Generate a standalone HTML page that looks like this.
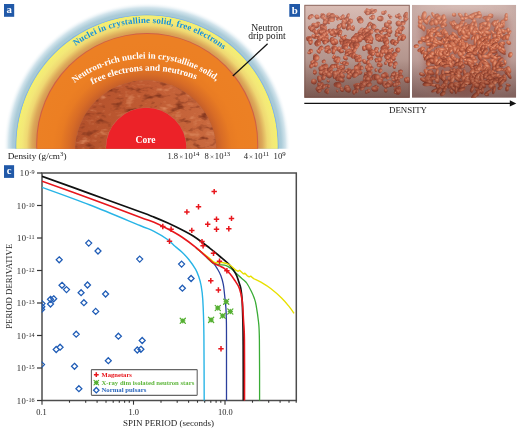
<!DOCTYPE html>
<html><head><meta charset="utf-8"><title>Neutron star figure</title>
<style>
html,body{margin:0;padding:0;background:#fff;width:520px;height:430px;overflow:hidden}
svg{display:block}
</style></head><body>
<svg width="520" height="430" viewBox="0 0 520 430">
<rect width="520" height="430" fill="#fff"/>
<defs>
<clipPath id="ca"><rect x="0" y="0" width="300" height="148.7"/></clipPath>
<radialGradient id="halo" gradientUnits="userSpaceOnUse" cx="147" cy="146" r="143.5"><stop offset="0.9" stop-color="#a3c6d4"/><stop offset="0.935" stop-color="#aacbd8"/><stop offset="0.965" stop-color="#d2e4ec"/><stop offset="1" stop-color="#ffffff" stop-opacity="0"/></radialGradient>
<radialGradient id="yel" gradientUnits="userSpaceOnUse" cx="147" cy="146" r="131.6"><stop offset="0.84" stop-color="#d4904c"/><stop offset="0.875" stop-color="#dca85a"/><stop offset="0.915" stop-color="#efd872"/><stop offset="0.95" stop-color="#f3e878"/><stop offset="0.985" stop-color="#f4ee74"/><stop offset="0.99" stop-color="#f6f060"/><stop offset="0.995" stop-color="#8ab8dc"/><stop offset="1" stop-color="#7aaee0"/></radialGradient>
<radialGradient id="org" gradientUnits="userSpaceOnUse" cx="145.7" cy="151" r="110"><stop offset="0.64" stop-color="#c55e2a"/><stop offset="0.7" stop-color="#d86c26"/><stop offset="0.78" stop-color="#e87b23"/><stop offset="0.85" stop-color="#ec7f23"/><stop offset="1" stop-color="#ec8024"/></radialGradient>
<radialGradient id="crust" gradientUnits="userSpaceOnUse" cx="146" cy="150" r="71"><stop offset="0.55" stop-color="#a95634"/><stop offset="1" stop-color="#b8653c"/></radialGradient>
<clipPath id="ccrust"><circle cx="145.7" cy="151" r="70.7"/></clipPath>
<path id="tp1" d="M41.3 84 A122 122 0 0 1 252.7 84"/>
<path id="tp2" d="M44.1 117.7 A118.6 118.6 0 0 1 249.5 117.7"/>
<path id="tp3" d="M41.7 132.8 A124.5 124.5 0 0 1 257.3 132.8"/>
<clipPath id="cdia"><rect x="41.7" y="173" width="254.6" height="227.5"/></clipPath>
<clipPath id="cplot"><rect x="42" y="173" width="254.3" height="227.5"/></clipPath>
<clipPath id="cb1"><rect x="304.3" y="4.8" width="105.5" height="93"/></clipPath>
<clipPath id="cb2"><rect x="412" y="4.8" width="104.2" height="93"/></clipPath>
<linearGradient id="bg1" x1="0" y1="0" x2="0" y2="1"><stop offset="0" stop-color="#d2b2aa"/><stop offset="0.55" stop-color="#b69890"/><stop offset="1" stop-color="#987870"/></linearGradient>
<radialGradient id="bg2" cx="0.5" cy="0.3" r="0.8"><stop offset="0" stop-color="#dcc4be"/><stop offset="0.6" stop-color="#c4a6a0"/><stop offset="1" stop-color="#a08480"/></radialGradient>
<filter id="crtex" x="0" y="0" width="1" height="1" color-interpolation-filters="sRGB"><feTurbulence type="fractalNoise" baseFrequency="0.08 0.16" numOctaves="3" seed="2" result="n"/><feColorMatrix in="n" type="matrix" values="0 0 0 0 0.53  0 0 0 0 0.22  0 0 0 0 0.12  4 0 0 0 -2.15" result="dk"/><feColorMatrix in="n" type="matrix" values="0 0 0 0 0.86  0 0 0 0 0.53  0 0 0 0 0.36  -3.5 0 0 0 1.45" result="lt"/><feMerge result="m"><feMergeNode in="SourceGraphic"/><feMergeNode in="dk"/><feMergeNode in="lt"/></feMerge><feComposite in="m" in2="SourceGraphic" operator="in"/></filter>
<linearGradient id="crg" gradientUnits="userSpaceOnUse" x1="75" y1="0" x2="217" y2="0"><stop offset="0" stop-color="#b2502b"/><stop offset="0.5" stop-color="#c05b33"/><stop offset="1" stop-color="#ca6b40"/></linearGradient>
<filter id="blobs" x="0" y="0" width="1" height="1" color-interpolation-filters="sRGB"><feTurbulence type="fractalNoise" baseFrequency="0.16" numOctaves="2" seed="11" result="n"/><feColorMatrix in="n" type="matrix" values="0 0 0 0 0  0 0 0 0 0  0 0 0 0 0  14 0 0 0 -6.2" result="mask"/><feGaussianBlur in="mask" stdDeviation="0.9" result="mb"/><feDiffuseLighting in="mb" surfaceScale="2.2" diffuseConstant="1.1" lighting-color="#fff" result="light"><feDistantLight azimuth="240" elevation="50"/></feDiffuseLighting><feFlood flood-color="#c04c2c"/><feComposite in2="light" operator="arithmetic" k1="1.1" result="lit"/><feComposite in="lit" in2="mask" operator="in"/></filter>
<filter id="blobs2" x="0" y="0" width="1" height="1" color-interpolation-filters="sRGB"><feTurbulence type="fractalNoise" baseFrequency="0.13" numOctaves="3" seed="4" result="n"/><feColorMatrix in="n" type="matrix" values="0 0 0 0 0  0 0 0 0 0  0 0 0 0 0  14 0 0 0 -6.0" result="mask"/><feGaussianBlur in="mask" stdDeviation="0.9" result="mb"/><feDiffuseLighting in="mb" surfaceScale="2.2" diffuseConstant="1.1" lighting-color="#fff" result="light"><feDistantLight azimuth="240" elevation="50"/></feDiffuseLighting><feFlood flood-color="#c4522f"/><feComposite in2="light" operator="arithmetic" k1="1.1" result="lit"/><feComposite in="lit" in2="mask" operator="in"/></filter>
<radialGradient id="mg1" cx="0.5" cy="0.45" r="0.75"><stop offset="0" stop-color="#fff"/><stop offset="0.55" stop-color="#fff"/><stop offset="1" stop-color="#000"/></radialGradient>
<mask id="mk1" maskUnits="userSpaceOnUse" x="304.3" y="4.8" width="105.5" height="93"><rect x="304.3" y="4.8" width="105.5" height="93" fill="url(#mg1)"/></mask>
<radialGradient id="mg2" cx="0.52" cy="0.48" r="0.55"><stop offset="0" stop-color="#fff"/><stop offset="0.6" stop-color="#fff"/><stop offset="1" stop-color="#000"/></radialGradient>
<mask id="mk2" maskUnits="userSpaceOnUse" x="412" y="4.8" width="104.2" height="93"><rect x="412" y="4.8" width="104.2" height="93" fill="url(#mg2)"/></mask>
</defs>
<g clip-path="url(#ca)">
<circle cx="147" cy="146" r="143.5" fill="url(#halo)"/>
<circle cx="147" cy="146" r="131.6" fill="url(#yel)"/>
<circle cx="147.2" cy="144" r="111" fill="#cf5f45"/>
<circle cx="147.2" cy="144" r="110" fill="url(#org)"/>
<circle cx="145.7" cy="151" r="70.7" fill="url(#crust)"/>
<circle cx="145.7" cy="151" r="70.7" fill="url(#crg)" filter="url(#crtex)"/>
<circle cx="146.2" cy="148" r="40.6" fill="#c07a5a"/>
<circle cx="146.2" cy="148" r="40.2" fill="#ec2228"/>
</g>
<text font-family='Liberation Serif, DejaVu Serif, serif' font-weight='bold' font-size='8.8' letter-spacing='0.22' fill='#1590dc'><textPath href='#tp1' startOffset='51.2%' text-anchor='middle'>Nuclei in crystalline solid, free electrons</textPath></text>
<text font-family='Liberation Serif, DejaVu Serif, serif' font-weight='bold' font-size='9.1' fill='#ffffff'><textPath href='#tp2' startOffset='49.3%' text-anchor='middle'>Neutron-rich nuclei in crystalline solid,</textPath></text>
<text font-family='Liberation Serif, DejaVu Serif, serif' font-weight='bold' font-size='9.2' fill='#ffffff'><textPath href='#tp3' startOffset='47.7%' text-anchor='middle'>free electrons and neutrons</textPath></text>
<text x='145.5' y='143' font-family='Liberation Serif, DejaVu Serif, serif' font-weight='bold' font-size='9.5' fill='#ffffff' text-anchor='middle'>Core</text>
<text font-family='Liberation Serif, DejaVu Serif, serif' font-size='9.6' fill='#1a1a1a' text-anchor='middle'><tspan x='267' y='31'>Neutron</tspan><tspan x='267' y='39.4'>drip point</tspan></text>
<line x1="267.6" y1="43.8" x2="232.8" y2="76" stroke="#111" stroke-width="1.25"/>
<text x='7.7' y='158.5' font-family='Liberation Serif, DejaVu Serif, serif' font-size='9.2' fill='#1a1a1a'>Density (g/cm<tspan font-size='6.8' dy='-2.4'>3</tspan><tspan dy='2.4'>)</tspan></text>
<text x='167.4' y='158.5' font-family='Liberation Serif, DejaVu Serif, serif' font-size='8.6' fill='#1a1a1a'>1.8<tspan font-size='7' dx='1'>×</tspan><tspan dx='1'>10</tspan><tspan font-size='6.8' dy='-2.4'>14</tspan></text>
<text x='204.6' y='158.5' font-family='Liberation Serif, DejaVu Serif, serif' font-size='8.6' fill='#1a1a1a'>8<tspan font-size='7' dx='1'>×</tspan><tspan dx='1'>10</tspan><tspan font-size='6.8' dy='-2.4'>13</tspan></text>
<text x='243.8' y='158.5' font-family='Liberation Serif, DejaVu Serif, serif' font-size='8.6' fill='#1a1a1a'>4<tspan font-size='7' dx='1'>×</tspan><tspan dx='1'>10</tspan><tspan font-size='6.8' dy='-2.4'>11</tspan></text>
<text x='273.6' y='158.5' font-family='Liberation Serif, DejaVu Serif, serif' font-size='8.6' fill='#1a1a1a'>10<tspan font-size='6.8' dy='-2.4'>9</tspan></text>
<rect x='4' y='4' width='10.2' height='12.8' fill='#2159a8'/>
<text x='9.1' y='12.8' font-family='Liberation Serif, DejaVu Serif, serif' font-weight='bold' font-size='10.8' fill='#fff' text-anchor='middle'>a</text>
<rect x='289.3' y='4' width='10.7' height='12.8' fill='#2159a8'/>
<text x='294.7' y='13.9' font-family='Liberation Serif, DejaVu Serif, serif' font-weight='bold' font-size='10.8' fill='#fff' text-anchor='middle'>b</text>
<rect x='4' y='165.2' width='10.1' height='12.7' fill='#2159a8'/>
<text x='9.1' y='174.1' font-family='Liberation Serif, DejaVu Serif, serif' font-weight='bold' font-size='10.8' fill='#fff' text-anchor='middle'>c</text>
<linearGradient id="ov" x1="0" y1="0" x2="0" y2="1"><stop offset="0" stop-color="#fff0e8" stop-opacity="0.18"/><stop offset="0.35" stop-color="#fff" stop-opacity="0"/><stop offset="0.6" stop-color="#3c140e" stop-opacity="0"/><stop offset="1" stop-color="#3c140e" stop-opacity="0.32"/></linearGradient>
<radialGradient id="bl" cx="0.4" cy="0.32" r="0.68"><stop offset="0" stop-color="#e6987a"/><stop offset="0.45" stop-color="#c4644a"/><stop offset="1" stop-color="#8e4030"/></radialGradient>
<radialGradient id="bl3" cx="0.4" cy="0.32" r="0.68"><stop offset="0" stop-color="#dc8c6c"/><stop offset="0.45" stop-color="#bc5e42"/><stop offset="1" stop-color="#843a2a"/></radialGradient>
<radialGradient id="bl2" cx="0.4" cy="0.32" r="0.68"><stop offset="0" stop-color="#eca686"/><stop offset="0.45" stop-color="#d0704f"/><stop offset="1" stop-color="#a04c36"/></radialGradient>
<g clip-path="url(#cb1)"><rect x="304.3" y="4.8" width="105.5" height="93" fill="url(#bg1)"/>
<ellipse cx="367.4" cy="9.9" rx="2.1" ry="1.5" fill="url(#bl)" transform="rotate(57 367.4 9.9)"/>
<ellipse cx="375.2" cy="10.8" rx="2" ry="1.8" fill="url(#bl)" transform="rotate(156 375.2 10.8)"/>
<ellipse cx="372.4" cy="11.3" rx="2.9" ry="2.5" fill="url(#bl)" transform="rotate(38 372.4 11.3)"/>
<ellipse cx="367.8" cy="11.7" rx="3.1" ry="2.4" fill="url(#bl)" transform="rotate(9 367.8 11.7)"/>
<ellipse cx="366" cy="11.8" rx="2.2" ry="1.7" fill="url(#bl)" transform="rotate(0 366 11.8)"/>
<ellipse cx="367.8" cy="11.8" rx="2.7" ry="1.9" fill="url(#bl)" transform="rotate(52 367.8 11.8)"/>
<ellipse cx="368.7" cy="11.9" rx="2.9" ry="2.8" fill="url(#bl)" transform="rotate(5 368.7 11.9)"/>
<ellipse cx="385.3" cy="12.1" rx="1.9" ry="1.4" fill="url(#bl)" transform="rotate(130 385.3 12.1)"/>
<ellipse cx="373" cy="12.1" rx="2.6" ry="1.6" fill="url(#bl)" transform="rotate(160 373 12.1)"/>
<ellipse cx="383.3" cy="12.9" rx="2.2" ry="2.2" fill="url(#bl)" transform="rotate(1 383.3 12.9)"/>
<ellipse cx="367.2" cy="13" rx="2.2" ry="2.1" fill="url(#bl)" transform="rotate(116 367.2 13)"/>
<ellipse cx="405.6" cy="14.9" rx="3.2" ry="2" fill="url(#bl)" transform="rotate(119 405.6 14.9)"/>
<ellipse cx="398.7" cy="15" rx="1.8" ry="1.4" fill="url(#bl)" transform="rotate(145 398.7 15)"/>
<ellipse cx="323" cy="15.3" rx="2.8" ry="1.9" fill="url(#bl)" transform="rotate(27 323 15.3)"/>
<ellipse cx="329.4" cy="15.6" rx="3.1" ry="3" fill="url(#bl)" transform="rotate(29 329.4 15.6)"/>
<ellipse cx="348" cy="15.7" rx="2.6" ry="1.6" fill="url(#bl)" transform="rotate(116 348 15.7)"/>
<ellipse cx="389.3" cy="15.8" rx="1.9" ry="1.4" fill="url(#bl)" transform="rotate(56 389.3 15.8)"/>
<ellipse cx="328.6" cy="15.8" rx="1.9" ry="1.4" fill="url(#bl)" transform="rotate(32 328.6 15.8)"/>
<ellipse cx="311.5" cy="16.1" rx="2.3" ry="2" fill="url(#bl)" transform="rotate(167 311.5 16.1)"/>
<ellipse cx="322.6" cy="16.3" rx="2.8" ry="1.9" fill="url(#bl)" transform="rotate(141 322.6 16.3)"/>
<ellipse cx="406.4" cy="16.4" rx="2.2" ry="1.4" fill="url(#bl)" transform="rotate(104 406.4 16.4)"/>
<ellipse cx="396.8" cy="16.4" rx="2.1" ry="1.7" fill="url(#bl)" transform="rotate(34 396.8 16.4)"/>
<ellipse cx="331.8" cy="16.5" rx="3.6" ry="2.6" fill="url(#bl)" transform="rotate(127 331.8 16.5)"/>
<ellipse cx="336.9" cy="16.6" rx="2.2" ry="1.6" fill="url(#bl)" transform="rotate(28 336.9 16.6)"/>
<ellipse cx="343" cy="16.8" rx="2.5" ry="1.8" fill="url(#bl)" transform="rotate(106 343 16.8)"/>
<ellipse cx="318.2" cy="16.9" rx="2.2" ry="1.4" fill="url(#bl)" transform="rotate(72 318.2 16.9)"/>
<ellipse cx="332.4" cy="17" rx="2.6" ry="2.1" fill="url(#bl)" transform="rotate(4 332.4 17)"/>
<ellipse cx="316.6" cy="17" rx="2.5" ry="2" fill="url(#bl)" transform="rotate(56 316.6 17)"/>
<ellipse cx="372.6" cy="17.1" rx="2.7" ry="2.3" fill="url(#bl)" transform="rotate(118 372.6 17.1)"/>
<ellipse cx="309.8" cy="17.2" rx="2.6" ry="1.9" fill="url(#bl)" transform="rotate(124 309.8 17.2)"/>
<ellipse cx="390.8" cy="17.3" rx="1.8" ry="1.2" fill="url(#bl)" transform="rotate(141 390.8 17.3)"/>
<ellipse cx="328.8" cy="17.5" rx="2.5" ry="2" fill="url(#bl)" transform="rotate(169 328.8 17.5)"/>
<ellipse cx="342.1" cy="17.6" rx="2" ry="1.9" fill="url(#bl)" transform="rotate(74 342.1 17.6)"/>
<ellipse cx="399.9" cy="17.6" rx="2" ry="1.8" fill="url(#bl)" transform="rotate(144 399.9 17.6)"/>
<ellipse cx="370.8" cy="18.1" rx="2" ry="1.3" fill="url(#bl)" transform="rotate(25 370.8 18.1)"/>
<ellipse cx="340.4" cy="18.4" rx="2" ry="1.6" fill="url(#bl)" transform="rotate(25 340.4 18.4)"/>
<ellipse cx="359.5" cy="18.4" rx="2.5" ry="1.9" fill="url(#bl)" transform="rotate(125 359.5 18.4)"/>
<ellipse cx="380.8" cy="18.5" rx="2.8" ry="2.8" fill="url(#bl)" transform="rotate(167 380.8 18.5)"/>
<ellipse cx="407.1" cy="18.6" rx="1.5" ry="1" fill="url(#bl)" transform="rotate(30 407.1 18.6)"/>
<ellipse cx="324.9" cy="18.9" rx="2.7" ry="2" fill="url(#bl)" transform="rotate(29 324.9 18.9)"/>
<ellipse cx="379.8" cy="18.9" rx="2.9" ry="2.2" fill="url(#bl)" transform="rotate(20 379.8 18.9)"/>
<ellipse cx="338.2" cy="19" rx="2.1" ry="1.4" fill="url(#bl)" transform="rotate(164 338.2 19)"/>
<ellipse cx="331.4" cy="19.2" rx="3.6" ry="2.8" fill="url(#bl)" transform="rotate(179 331.4 19.2)"/>
<ellipse cx="358.9" cy="19.3" rx="2.6" ry="2" fill="url(#bl)" transform="rotate(48 358.9 19.3)"/>
<ellipse cx="346.6" cy="19.4" rx="2.6" ry="2.4" fill="url(#bl)" transform="rotate(149 346.6 19.4)"/>
<ellipse cx="405.4" cy="19.6" rx="2.2" ry="2" fill="url(#bl)" transform="rotate(66 405.4 19.6)"/>
<ellipse cx="344.9" cy="20.3" rx="1.9" ry="1.3" fill="url(#bl)" transform="rotate(103 344.9 20.3)"/>
<ellipse cx="326.8" cy="20.4" rx="1.8" ry="1.5" fill="url(#bl)" transform="rotate(0 326.8 20.4)"/>
<ellipse cx="360.5" cy="20.4" rx="3" ry="2.7" fill="url(#bl)" transform="rotate(134 360.5 20.4)"/>
<ellipse cx="360.6" cy="20.8" rx="2.8" ry="2.5" fill="url(#bl)" transform="rotate(178 360.6 20.8)"/>
<ellipse cx="344.6" cy="21.1" rx="2.8" ry="1.7" fill="url(#bl)" transform="rotate(175 344.6 21.1)"/>
<ellipse cx="350.5" cy="21.2" rx="2.6" ry="2.6" fill="url(#bl)" transform="rotate(104 350.5 21.2)"/>
<ellipse cx="344.5" cy="21.9" rx="3" ry="2.3" fill="url(#bl)" transform="rotate(35 344.5 21.9)"/>
<ellipse cx="325.1" cy="22.3" rx="2.7" ry="2.3" fill="url(#bl)" transform="rotate(100 325.1 22.3)"/>
<ellipse cx="389.3" cy="22.3" rx="2.6" ry="2.2" fill="url(#bl)" transform="rotate(15 389.3 22.3)"/>
<ellipse cx="328.9" cy="22.5" rx="1.7" ry="1.2" fill="url(#bl)" transform="rotate(88 328.9 22.5)"/>
<ellipse cx="325.5" cy="22.7" rx="2.6" ry="1.8" fill="url(#bl)" transform="rotate(2 325.5 22.7)"/>
<ellipse cx="403" cy="22.9" rx="2.7" ry="1.8" fill="url(#bl)" transform="rotate(175 403 22.9)"/>
<ellipse cx="348.6" cy="22.9" rx="2.3" ry="1.8" fill="url(#bl)" transform="rotate(149 348.6 22.9)"/>
<ellipse cx="348.8" cy="23" rx="1.7" ry="1.2" fill="url(#bl)" transform="rotate(91 348.8 23)"/>
<ellipse cx="318.1" cy="23.2" rx="2.1" ry="1.6" fill="url(#bl)" transform="rotate(13 318.1 23.2)"/>
<ellipse cx="402.6" cy="23.4" rx="2.4" ry="2.3" fill="url(#bl)" transform="rotate(163 402.6 23.4)"/>
<ellipse cx="343.5" cy="23.5" rx="2.2" ry="1.7" fill="url(#bl)" transform="rotate(53 343.5 23.5)"/>
<ellipse cx="370.8" cy="23.6" rx="1.8" ry="1.6" fill="url(#bl)" transform="rotate(43 370.8 23.6)"/>
<ellipse cx="398.5" cy="23.6" rx="2.9" ry="2.8" fill="url(#bl)" transform="rotate(61 398.5 23.6)"/>
<ellipse cx="318.3" cy="23.9" rx="2.1" ry="1.9" fill="url(#bl)" transform="rotate(138 318.3 23.9)"/>
<ellipse cx="369.3" cy="24.3" rx="2.8" ry="1.7" fill="url(#bl)" transform="rotate(129 369.3 24.3)"/>
<ellipse cx="371.6" cy="24.4" rx="1.7" ry="1.2" fill="url(#bl)" transform="rotate(172 371.6 24.4)"/>
<ellipse cx="341.6" cy="24.5" rx="2.5" ry="1.7" fill="url(#bl)" transform="rotate(151 341.6 24.5)"/>
<ellipse cx="385.6" cy="24.8" rx="2.5" ry="1.7" fill="url(#bl)" transform="rotate(99 385.6 24.8)"/>
<ellipse cx="314" cy="25.1" rx="2.7" ry="1.7" fill="url(#bl)" transform="rotate(16 314 25.1)"/>
<ellipse cx="348.8" cy="25.2" rx="2.1" ry="1.7" fill="url(#bl)" transform="rotate(101 348.8 25.2)"/>
<ellipse cx="373.1" cy="25.5" rx="1.7" ry="1.1" fill="url(#bl)" transform="rotate(116 373.1 25.5)"/>
<ellipse cx="387.2" cy="25.5" rx="2.6" ry="2.4" fill="url(#bl)" transform="rotate(35 387.2 25.5)"/>
<ellipse cx="314.6" cy="25.5" rx="3.2" ry="2.2" fill="url(#bl)" transform="rotate(37 314.6 25.5)"/>
<ellipse cx="316.2" cy="25.6" rx="3.1" ry="2.6" fill="url(#bl)" transform="rotate(18 316.2 25.6)"/>
<ellipse cx="343.4" cy="25.9" rx="3.5" ry="2.4" fill="url(#bl)" transform="rotate(73 343.4 25.9)"/>
<ellipse cx="322.1" cy="26.3" rx="2.6" ry="2.4" fill="url(#bl)" transform="rotate(160 322.1 26.3)"/>
<ellipse cx="339.4" cy="26.3" rx="2.5" ry="2" fill="url(#bl)" transform="rotate(87 339.4 26.3)"/>
<ellipse cx="348.3" cy="26.4" rx="1.9" ry="1.7" fill="url(#bl)" transform="rotate(139 348.3 26.4)"/>
<ellipse cx="312.7" cy="26.7" rx="2.2" ry="1.5" fill="url(#bl)" transform="rotate(179 312.7 26.7)"/>
<ellipse cx="338.6" cy="26.7" rx="2" ry="1.9" fill="url(#bl)" transform="rotate(131 338.6 26.7)"/>
<ellipse cx="323.7" cy="26.8" rx="2.3" ry="1.5" fill="url(#bl)" transform="rotate(179 323.7 26.8)"/>
<ellipse cx="373.6" cy="26.8" rx="2.9" ry="2.6" fill="url(#bl)" transform="rotate(132 373.6 26.8)"/>
<ellipse cx="353.4" cy="27.3" rx="2.1" ry="1.4" fill="url(#bl)" transform="rotate(61 353.4 27.3)"/>
<ellipse cx="324.8" cy="27.3" rx="2.2" ry="2.1" fill="url(#bl)" transform="rotate(115 324.8 27.3)"/>
<ellipse cx="348.6" cy="27.3" rx="3.4" ry="2.1" fill="url(#bl)" transform="rotate(123 348.6 27.3)"/>
<ellipse cx="348.3" cy="27.4" rx="2.2" ry="1.3" fill="url(#bl)" transform="rotate(132 348.3 27.4)"/>
<ellipse cx="322.4" cy="27.5" rx="2.4" ry="1.9" fill="url(#bl)" transform="rotate(39 322.4 27.5)"/>
<ellipse cx="389.7" cy="27.6" rx="2.1" ry="2.1" fill="url(#bl)" transform="rotate(48 389.7 27.6)"/>
<ellipse cx="310.2" cy="27.7" rx="2.3" ry="2.2" fill="url(#bl)" transform="rotate(100 310.2 27.7)"/>
<ellipse cx="366.9" cy="28" rx="2.1" ry="1.4" fill="url(#bl)" transform="rotate(120 366.9 28)"/>
<ellipse cx="312.8" cy="28.4" rx="2.5" ry="1.9" fill="url(#bl)" transform="rotate(69 312.8 28.4)"/>
<ellipse cx="401.8" cy="28.7" rx="3.2" ry="2.1" fill="url(#bl)" transform="rotate(148 401.8 28.7)"/>
<ellipse cx="310.8" cy="28.7" rx="2" ry="1.6" fill="url(#bl)" transform="rotate(23 310.8 28.7)"/>
<ellipse cx="352.1" cy="28.8" rx="2.7" ry="1.8" fill="url(#bl)" transform="rotate(33 352.1 28.8)"/>
<ellipse cx="312.1" cy="28.9" rx="2.8" ry="2.2" fill="url(#bl)" transform="rotate(141 312.1 28.9)"/>
<ellipse cx="400.4" cy="29" rx="3" ry="2.6" fill="url(#bl)" transform="rotate(21 400.4 29)"/>
<ellipse cx="312.8" cy="29" rx="2.6" ry="2.2" fill="url(#bl)" transform="rotate(20 312.8 29)"/>
<ellipse cx="365.2" cy="29.7" rx="1.8" ry="1.8" fill="url(#bl)" transform="rotate(177 365.2 29.7)"/>
<ellipse cx="384.5" cy="29.7" rx="3.1" ry="2.2" fill="url(#bl)" transform="rotate(29 384.5 29.7)"/>
<ellipse cx="323.5" cy="29.8" rx="3.6" ry="3.4" fill="url(#bl)" transform="rotate(80 323.5 29.8)"/>
<ellipse cx="312.2" cy="30" rx="2.6" ry="1.6" fill="url(#bl)" transform="rotate(36 312.2 30)"/>
<ellipse cx="362.7" cy="30.1" rx="2.9" ry="2.4" fill="url(#bl)" transform="rotate(31 362.7 30.1)"/>
<ellipse cx="364.5" cy="30.2" rx="2.2" ry="1.7" fill="url(#bl)" transform="rotate(134 364.5 30.2)"/>
<ellipse cx="361.5" cy="30.6" rx="2.2" ry="1.9" fill="url(#bl)" transform="rotate(12 361.5 30.6)"/>
<ellipse cx="384.6" cy="30.6" rx="2.1" ry="1.5" fill="url(#bl)" transform="rotate(169 384.6 30.6)"/>
<ellipse cx="314.1" cy="30.7" rx="2.1" ry="2" fill="url(#bl)" transform="rotate(165 314.1 30.7)"/>
<ellipse cx="398.6" cy="30.7" rx="2.7" ry="2" fill="url(#bl)" transform="rotate(56 398.6 30.7)"/>
<ellipse cx="369.6" cy="30.7" rx="2.5" ry="2.1" fill="url(#bl)" transform="rotate(51 369.6 30.7)"/>
<ellipse cx="376.9" cy="30.7" rx="2.8" ry="2" fill="url(#bl)" transform="rotate(172 376.9 30.7)"/>
<ellipse cx="332.8" cy="30.7" rx="2.3" ry="1.7" fill="url(#bl)" transform="rotate(141 332.8 30.7)"/>
<ellipse cx="322.2" cy="30.8" rx="1.9" ry="1.8" fill="url(#bl)" transform="rotate(141 322.2 30.8)"/>
<ellipse cx="329.8" cy="30.8" rx="2.4" ry="2" fill="url(#bl)" transform="rotate(177 329.8 30.8)"/>
<ellipse cx="323" cy="30.9" rx="3.1" ry="2.4" fill="url(#bl)" transform="rotate(163 323 30.9)"/>
<ellipse cx="339.4" cy="31" rx="2.6" ry="2.1" fill="url(#bl)" transform="rotate(20 339.4 31)"/>
<ellipse cx="388.1" cy="31" rx="2.2" ry="1.6" fill="url(#bl)" transform="rotate(40 388.1 31)"/>
<ellipse cx="330.7" cy="31.1" rx="2.2" ry="2.1" fill="url(#bl)" transform="rotate(40 330.7 31.1)"/>
<ellipse cx="397.7" cy="31.2" rx="1.6" ry="1.2" fill="url(#bl)" transform="rotate(9 397.7 31.2)"/>
<ellipse cx="363.2" cy="31.6" rx="1.9" ry="1.7" fill="url(#bl)" transform="rotate(112 363.2 31.6)"/>
<ellipse cx="320" cy="31.6" rx="3.1" ry="2.8" fill="url(#bl)" transform="rotate(37 320 31.6)"/>
<ellipse cx="321.2" cy="31.6" rx="2.5" ry="2.4" fill="url(#bl)" transform="rotate(145 321.2 31.6)"/>
<ellipse cx="389.4" cy="31.6" rx="2.9" ry="2.8" fill="url(#bl)" transform="rotate(37 389.4 31.6)"/>
<ellipse cx="371" cy="31.6" rx="2.5" ry="2.5" fill="url(#bl)" transform="rotate(128 371 31.6)"/>
<ellipse cx="337.1" cy="31.7" rx="3.4" ry="3" fill="url(#bl)" transform="rotate(138 337.1 31.7)"/>
<ellipse cx="366.9" cy="31.7" rx="3.1" ry="2.6" fill="url(#bl)" transform="rotate(29 366.9 31.7)"/>
<ellipse cx="334" cy="31.9" rx="3" ry="2.8" fill="url(#bl)" transform="rotate(75 334 31.9)"/>
<ellipse cx="381.1" cy="31.9" rx="1.9" ry="1.9" fill="url(#bl)" transform="rotate(99 381.1 31.9)"/>
<ellipse cx="397.2" cy="32" rx="2.4" ry="1.8" fill="url(#bl)" transform="rotate(49 397.2 32)"/>
<ellipse cx="381.3" cy="32.1" rx="2.1" ry="1.5" fill="url(#bl)" transform="rotate(151 381.3 32.1)"/>
<ellipse cx="336.1" cy="32.3" rx="3.1" ry="1.8" fill="url(#bl)" transform="rotate(7 336.1 32.3)"/>
<ellipse cx="340" cy="32.4" rx="2.7" ry="2.1" fill="url(#bl)" transform="rotate(131 340 32.4)"/>
<ellipse cx="400.2" cy="32.4" rx="2.1" ry="1.7" fill="url(#bl)" transform="rotate(74 400.2 32.4)"/>
<ellipse cx="315.8" cy="32.4" rx="2.5" ry="2" fill="url(#bl)" transform="rotate(64 315.8 32.4)"/>
<ellipse cx="320.6" cy="32.4" rx="2.2" ry="1.5" fill="url(#bl)" transform="rotate(66 320.6 32.4)"/>
<ellipse cx="360.5" cy="32.7" rx="2.9" ry="2.6" fill="url(#bl)" transform="rotate(18 360.5 32.7)"/>
<ellipse cx="326.5" cy="32.9" rx="2.7" ry="2.1" fill="url(#bl)" transform="rotate(106 326.5 32.9)"/>
<ellipse cx="332.4" cy="33.3" rx="2.9" ry="2.7" fill="url(#bl)" transform="rotate(4 332.4 33.3)"/>
<ellipse cx="368.3" cy="33.3" rx="2" ry="1.9" fill="url(#bl)" transform="rotate(147 368.3 33.3)"/>
<ellipse cx="339.5" cy="33.4" rx="2.4" ry="2.2" fill="url(#bl)" transform="rotate(87 339.5 33.4)"/>
<ellipse cx="359.7" cy="33.7" rx="2.3" ry="2.1" fill="url(#bl)" transform="rotate(149 359.7 33.7)"/>
<ellipse cx="339.9" cy="33.8" rx="2" ry="1.7" fill="url(#bl)" transform="rotate(100 339.9 33.8)"/>
<ellipse cx="324.4" cy="34.1" rx="2.4" ry="2.3" fill="url(#bl)" transform="rotate(104 324.4 34.1)"/>
<ellipse cx="369" cy="34.8" rx="2.3" ry="1.5" fill="url(#bl)" transform="rotate(170 369 34.8)"/>
<ellipse cx="396.4" cy="34.8" rx="2.3" ry="1.8" fill="url(#bl)" transform="rotate(104 396.4 34.8)"/>
<ellipse cx="387.9" cy="34.9" rx="2.1" ry="1.6" fill="url(#bl)" transform="rotate(93 387.9 34.9)"/>
<ellipse cx="363.8" cy="35" rx="3.3" ry="2.8" fill="url(#bl)" transform="rotate(116 363.8 35)"/>
<ellipse cx="367.3" cy="35.1" rx="3.2" ry="2.7" fill="url(#bl)" transform="rotate(171 367.3 35.1)"/>
<ellipse cx="339.3" cy="35.2" rx="1.7" ry="1.3" fill="url(#bl)" transform="rotate(158 339.3 35.2)"/>
<ellipse cx="369.6" cy="35.4" rx="1.8" ry="1.6" fill="url(#bl)" transform="rotate(162 369.6 35.4)"/>
<ellipse cx="356.5" cy="35.4" rx="2.4" ry="2.4" fill="url(#bl)" transform="rotate(121 356.5 35.4)"/>
<ellipse cx="389.2" cy="35.5" rx="1.6" ry="1.4" fill="url(#bl)" transform="rotate(26 389.2 35.5)"/>
<ellipse cx="334.4" cy="35.7" rx="2.2" ry="1.4" fill="url(#bl)" transform="rotate(9 334.4 35.7)"/>
<ellipse cx="323.6" cy="35.7" rx="3.1" ry="2.4" fill="url(#bl)" transform="rotate(79 323.6 35.7)"/>
<ellipse cx="360.8" cy="35.9" rx="2.6" ry="2.1" fill="url(#bl)" transform="rotate(172 360.8 35.9)"/>
<ellipse cx="377.5" cy="36" rx="2.6" ry="2.4" fill="url(#bl)" transform="rotate(175 377.5 36)"/>
<ellipse cx="370.1" cy="36.1" rx="1.9" ry="1.3" fill="url(#bl)" transform="rotate(127 370.1 36.1)"/>
<ellipse cx="385.9" cy="36.1" rx="2.7" ry="2.3" fill="url(#bl)" transform="rotate(154 385.9 36.1)"/>
<ellipse cx="316.9" cy="36.3" rx="2.6" ry="2.3" fill="url(#bl)" transform="rotate(64 316.9 36.3)"/>
<ellipse cx="345.1" cy="36.4" rx="2.1" ry="1.3" fill="url(#bl)" transform="rotate(143 345.1 36.4)"/>
<ellipse cx="382.3" cy="36.5" rx="3.5" ry="2.1" fill="url(#bl)" transform="rotate(14 382.3 36.5)"/>
<ellipse cx="313.6" cy="36.5" rx="2.4" ry="1.9" fill="url(#bl)" transform="rotate(28 313.6 36.5)"/>
<ellipse cx="327.1" cy="36.6" rx="1.9" ry="1.7" fill="url(#bl)" transform="rotate(111 327.1 36.6)"/>
<ellipse cx="362.5" cy="36.8" rx="2.4" ry="1.6" fill="url(#bl)" transform="rotate(155 362.5 36.8)"/>
<ellipse cx="403.4" cy="36.8" rx="2.8" ry="2.5" fill="url(#bl)" transform="rotate(61 403.4 36.8)"/>
<ellipse cx="366.8" cy="37" rx="2.4" ry="1.6" fill="url(#bl)" transform="rotate(67 366.8 37)"/>
<ellipse cx="321.8" cy="37" rx="2.2" ry="2.2" fill="url(#bl)" transform="rotate(90 321.8 37)"/>
<ellipse cx="402.4" cy="37" rx="2.5" ry="2.2" fill="url(#bl)" transform="rotate(74 402.4 37)"/>
<ellipse cx="355.7" cy="37.1" rx="2.7" ry="2.6" fill="url(#bl)" transform="rotate(4 355.7 37.1)"/>
<ellipse cx="365" cy="37.4" rx="2.4" ry="2" fill="url(#bl)" transform="rotate(34 365 37.4)"/>
<ellipse cx="316.7" cy="37.6" rx="2.3" ry="1.5" fill="url(#bl)" transform="rotate(177 316.7 37.6)"/>
<ellipse cx="341.9" cy="37.6" rx="2.3" ry="1.6" fill="url(#bl)" transform="rotate(50 341.9 37.6)"/>
<ellipse cx="361.8" cy="37.7" rx="2.9" ry="2" fill="url(#bl)" transform="rotate(31 361.8 37.7)"/>
<ellipse cx="326.4" cy="37.8" rx="2" ry="1.7" fill="url(#bl)" transform="rotate(47 326.4 37.8)"/>
<ellipse cx="380.4" cy="37.9" rx="2.2" ry="1.7" fill="url(#bl)" transform="rotate(118 380.4 37.9)"/>
<ellipse cx="399.2" cy="38" rx="2.5" ry="1.6" fill="url(#bl)" transform="rotate(91 399.2 38)"/>
<ellipse cx="355.7" cy="38" rx="2.3" ry="2" fill="url(#bl)" transform="rotate(131 355.7 38)"/>
<ellipse cx="401" cy="38.1" rx="2.9" ry="2.5" fill="url(#bl)" transform="rotate(26 401 38.1)"/>
<ellipse cx="309.8" cy="38.1" rx="2.2" ry="1.7" fill="url(#bl)" transform="rotate(70 309.8 38.1)"/>
<ellipse cx="403" cy="38.2" rx="2.7" ry="2" fill="url(#bl)" transform="rotate(102 403 38.2)"/>
<ellipse cx="379.3" cy="38.3" rx="3.1" ry="2.2" fill="url(#bl)" transform="rotate(97 379.3 38.3)"/>
<ellipse cx="320.2" cy="38.3" rx="2.9" ry="2.8" fill="url(#bl)" transform="rotate(67 320.2 38.3)"/>
<ellipse cx="367.1" cy="38.6" rx="3.2" ry="3.1" fill="url(#bl)" transform="rotate(148 367.1 38.6)"/>
<ellipse cx="343.9" cy="38.6" rx="2.7" ry="2.3" fill="url(#bl)" transform="rotate(40 343.9 38.6)"/>
<ellipse cx="333.2" cy="38.7" rx="1.5" ry="1" fill="url(#bl)" transform="rotate(96 333.2 38.7)"/>
<ellipse cx="370.4" cy="38.8" rx="3.1" ry="3" fill="url(#bl)" transform="rotate(56 370.4 38.8)"/>
<ellipse cx="354" cy="38.8" rx="3.3" ry="2.8" fill="url(#bl)" transform="rotate(137 354 38.8)"/>
<ellipse cx="308.5" cy="38.8" rx="2.6" ry="2.4" fill="url(#bl)" transform="rotate(86 308.5 38.8)"/>
<ellipse cx="379.7" cy="38.9" rx="3.1" ry="2.5" fill="url(#bl)" transform="rotate(2 379.7 38.9)"/>
<ellipse cx="309.7" cy="39" rx="2.7" ry="2.1" fill="url(#bl)" transform="rotate(143 309.7 39)"/>
<ellipse cx="359.4" cy="39.3" rx="3.1" ry="2.9" fill="url(#bl)" transform="rotate(68 359.4 39.3)"/>
<ellipse cx="398.7" cy="39.3" rx="2.3" ry="1.5" fill="url(#bl)" transform="rotate(103 398.7 39.3)"/>
<ellipse cx="377.6" cy="39.5" rx="2.5" ry="1.6" fill="url(#bl)" transform="rotate(35 377.6 39.5)"/>
<ellipse cx="386.5" cy="39.6" rx="2.2" ry="1.8" fill="url(#bl)" transform="rotate(55 386.5 39.6)"/>
<ellipse cx="324.2" cy="39.6" rx="3" ry="2.4" fill="url(#bl)" transform="rotate(21 324.2 39.6)"/>
<ellipse cx="370.7" cy="39.7" rx="2.6" ry="2.1" fill="url(#bl)" transform="rotate(57 370.7 39.7)"/>
<ellipse cx="319.1" cy="39.7" rx="1.8" ry="1.3" fill="url(#bl)" transform="rotate(49 319.1 39.7)"/>
<ellipse cx="381.4" cy="39.9" rx="2" ry="1.3" fill="url(#bl)" transform="rotate(88 381.4 39.9)"/>
<ellipse cx="332" cy="40" rx="2.9" ry="2.5" fill="url(#bl)" transform="rotate(109 332 40)"/>
<ellipse cx="368.3" cy="40.3" rx="2.9" ry="2.6" fill="url(#bl)" transform="rotate(54 368.3 40.3)"/>
<ellipse cx="325.8" cy="40.3" rx="3" ry="2.7" fill="url(#bl)" transform="rotate(171 325.8 40.3)"/>
<ellipse cx="385.4" cy="40.5" rx="3.2" ry="2.5" fill="url(#bl)" transform="rotate(131 385.4 40.5)"/>
<ellipse cx="326.5" cy="40.5" rx="3" ry="2.3" fill="url(#bl)" transform="rotate(11 326.5 40.5)"/>
<ellipse cx="324.8" cy="40.5" rx="3.3" ry="2.2" fill="url(#bl)" transform="rotate(89 324.8 40.5)"/>
<ellipse cx="323.8" cy="40.6" rx="3.2" ry="1.9" fill="url(#bl)" transform="rotate(58 323.8 40.6)"/>
<ellipse cx="347" cy="40.6" rx="2" ry="1.5" fill="url(#bl)" transform="rotate(73 347 40.6)"/>
<ellipse cx="356.1" cy="40.7" rx="3.1" ry="2" fill="url(#bl)" transform="rotate(46 356.1 40.7)"/>
<ellipse cx="353.2" cy="40.8" rx="3.1" ry="2.9" fill="url(#bl)" transform="rotate(50 353.2 40.8)"/>
<ellipse cx="340.8" cy="40.9" rx="2" ry="1.7" fill="url(#bl)" transform="rotate(68 340.8 40.9)"/>
<ellipse cx="385.1" cy="40.9" rx="2.7" ry="1.9" fill="url(#bl)" transform="rotate(52 385.1 40.9)"/>
<ellipse cx="348.1" cy="41.1" rx="2.4" ry="1.7" fill="url(#bl)" transform="rotate(151 348.1 41.1)"/>
<ellipse cx="367.3" cy="41.2" rx="2.2" ry="1.5" fill="url(#bl)" transform="rotate(125 367.3 41.2)"/>
<ellipse cx="385" cy="41.2" rx="1.9" ry="1.4" fill="url(#bl)" transform="rotate(63 385 41.2)"/>
<ellipse cx="349.1" cy="41.3" rx="2.2" ry="2.1" fill="url(#bl)" transform="rotate(80 349.1 41.3)"/>
<ellipse cx="392" cy="41.3" rx="1.6" ry="1.2" fill="url(#bl)" transform="rotate(1 392 41.3)"/>
<ellipse cx="342" cy="41.4" rx="2" ry="1.3" fill="url(#bl)" transform="rotate(25 342 41.4)"/>
<ellipse cx="353.8" cy="41.7" rx="2.1" ry="1.5" fill="url(#bl)" transform="rotate(26 353.8 41.7)"/>
<ellipse cx="349.9" cy="41.7" rx="2.4" ry="1.7" fill="url(#bl)" transform="rotate(160 349.9 41.7)"/>
<ellipse cx="335.1" cy="41.7" rx="3.2" ry="2.9" fill="url(#bl)" transform="rotate(59 335.1 41.7)"/>
<ellipse cx="386.3" cy="41.8" rx="3" ry="2.7" fill="url(#bl)" transform="rotate(31 386.3 41.8)"/>
<ellipse cx="393" cy="41.9" rx="2.8" ry="2.7" fill="url(#bl)" transform="rotate(126 393 41.9)"/>
<ellipse cx="324.2" cy="42" rx="2.3" ry="1.5" fill="url(#bl)" transform="rotate(98 324.2 42)"/>
<ellipse cx="396.6" cy="42" rx="2.3" ry="1.6" fill="url(#bl)" transform="rotate(12 396.6 42)"/>
<ellipse cx="311.2" cy="42" rx="2.4" ry="1.6" fill="url(#bl)" transform="rotate(117 311.2 42)"/>
<ellipse cx="370.6" cy="42.2" rx="2.5" ry="1.7" fill="url(#bl)" transform="rotate(18 370.6 42.2)"/>
<ellipse cx="317.5" cy="42.2" rx="3.6" ry="2.2" fill="url(#bl)" transform="rotate(136 317.5 42.2)"/>
<ellipse cx="324.9" cy="42.2" rx="2.3" ry="2.1" fill="url(#bl)" transform="rotate(127 324.9 42.2)"/>
<ellipse cx="311.2" cy="42.3" rx="1.7" ry="1.4" fill="url(#bl)" transform="rotate(117 311.2 42.3)"/>
<ellipse cx="356.4" cy="42.4" rx="2.3" ry="1.5" fill="url(#bl)" transform="rotate(16 356.4 42.4)"/>
<ellipse cx="386.4" cy="42.5" rx="3.3" ry="2.1" fill="url(#bl)" transform="rotate(122 386.4 42.5)"/>
<ellipse cx="341.7" cy="42.7" rx="2.2" ry="1.7" fill="url(#bl)" transform="rotate(134 341.7 42.7)"/>
<ellipse cx="310.2" cy="42.8" rx="2.3" ry="1.8" fill="url(#bl)" transform="rotate(64 310.2 42.8)"/>
<ellipse cx="333.2" cy="42.8" rx="2.6" ry="2.3" fill="url(#bl)" transform="rotate(31 333.2 42.8)"/>
<ellipse cx="346" cy="42.9" rx="3.6" ry="3.4" fill="url(#bl)" transform="rotate(158 346 42.9)"/>
<ellipse cx="395.1" cy="43.4" rx="2.2" ry="1.8" fill="url(#bl)" transform="rotate(68 395.1 43.4)"/>
<ellipse cx="317.8" cy="43.5" rx="3.3" ry="2.6" fill="url(#bl)" transform="rotate(142 317.8 43.5)"/>
<ellipse cx="395.1" cy="43.5" rx="2" ry="2" fill="url(#bl)" transform="rotate(145 395.1 43.5)"/>
<ellipse cx="353.3" cy="43.6" rx="3.3" ry="3.1" fill="url(#bl)" transform="rotate(105 353.3 43.6)"/>
<ellipse cx="318.1" cy="43.8" rx="1.6" ry="1.1" fill="url(#bl)" transform="rotate(103 318.1 43.8)"/>
<ellipse cx="356.8" cy="44" rx="2.1" ry="1.8" fill="url(#bl)" transform="rotate(51 356.8 44)"/>
<ellipse cx="347.7" cy="44" rx="2.4" ry="2.3" fill="url(#bl)" transform="rotate(158 347.7 44)"/>
<ellipse cx="356.8" cy="44.3" rx="1.7" ry="1.5" fill="url(#bl)" transform="rotate(57 356.8 44.3)"/>
<ellipse cx="354.9" cy="44.3" rx="3" ry="2.7" fill="url(#bl)" transform="rotate(145 354.9 44.3)"/>
<ellipse cx="356.9" cy="44.6" rx="2.9" ry="2.2" fill="url(#bl)" transform="rotate(165 356.9 44.6)"/>
<ellipse cx="352.1" cy="45.1" rx="3.2" ry="2.8" fill="url(#bl)" transform="rotate(147 352.1 45.1)"/>
<ellipse cx="355.8" cy="45.2" rx="3.3" ry="3.3" fill="url(#bl)" transform="rotate(144 355.8 45.2)"/>
<ellipse cx="355.1" cy="45.4" rx="2.5" ry="1.8" fill="url(#bl)" transform="rotate(131 355.1 45.4)"/>
<ellipse cx="355" cy="45.9" rx="1.7" ry="1" fill="url(#bl)" transform="rotate(164 355 45.9)"/>
<ellipse cx="345.2" cy="45.9" rx="3.1" ry="1.9" fill="url(#bl)" transform="rotate(108 345.2 45.9)"/>
<ellipse cx="386.3" cy="46.2" rx="2.7" ry="1.8" fill="url(#bl)" transform="rotate(35 386.3 46.2)"/>
<ellipse cx="387.3" cy="46.2" rx="2.6" ry="1.9" fill="url(#bl)" transform="rotate(59 387.3 46.2)"/>
<ellipse cx="344.7" cy="46.3" rx="3.4" ry="3.1" fill="url(#bl)" transform="rotate(116 344.7 46.3)"/>
<ellipse cx="356.2" cy="46.9" rx="2.2" ry="2.1" fill="url(#bl)" transform="rotate(135 356.2 46.9)"/>
<ellipse cx="369.2" cy="47" rx="2.7" ry="1.6" fill="url(#bl)" transform="rotate(171 369.2 47)"/>
<ellipse cx="345.6" cy="47.2" rx="2.3" ry="2.2" fill="url(#bl)" transform="rotate(154 345.6 47.2)"/>
<ellipse cx="368.2" cy="47.2" rx="3.4" ry="3.3" fill="url(#bl)" transform="rotate(71 368.2 47.2)"/>
<ellipse cx="327.2" cy="47.5" rx="2.9" ry="2" fill="url(#bl)" transform="rotate(156 327.2 47.5)"/>
<ellipse cx="321.4" cy="48" rx="2.3" ry="2.3" fill="url(#bl)" transform="rotate(141 321.4 48)"/>
<ellipse cx="334.2" cy="48.1" rx="2.9" ry="2.8" fill="url(#bl)" transform="rotate(48 334.2 48.1)"/>
<ellipse cx="384" cy="48.1" rx="3.5" ry="3.1" fill="url(#bl)" transform="rotate(151 384 48.1)"/>
<ellipse cx="364" cy="48.4" rx="2.7" ry="2" fill="url(#bl)" transform="rotate(75 364 48.4)"/>
<ellipse cx="377.4" cy="48.6" rx="1.5" ry="1.3" fill="url(#bl)" transform="rotate(10 377.4 48.6)"/>
<ellipse cx="328.5" cy="48.7" rx="2.4" ry="2.1" fill="url(#bl)" transform="rotate(42 328.5 48.7)"/>
<ellipse cx="385.4" cy="48.7" rx="2.7" ry="2.2" fill="url(#bl)" transform="rotate(17 385.4 48.7)"/>
<ellipse cx="334.7" cy="48.7" rx="2.7" ry="2.7" fill="url(#bl)" transform="rotate(111 334.7 48.7)"/>
<ellipse cx="319.8" cy="48.8" rx="2" ry="1.5" fill="url(#bl)" transform="rotate(114 319.8 48.8)"/>
<ellipse cx="327.4" cy="49.1" rx="2.5" ry="2.4" fill="url(#bl)" transform="rotate(30 327.4 49.1)"/>
<ellipse cx="376.3" cy="49.3" rx="2.3" ry="2.1" fill="url(#bl)" transform="rotate(116 376.3 49.3)"/>
<ellipse cx="339.3" cy="49.3" rx="2.7" ry="2.5" fill="url(#bl)" transform="rotate(39 339.3 49.3)"/>
<ellipse cx="352.9" cy="49.5" rx="2.5" ry="1.6" fill="url(#bl)" transform="rotate(25 352.9 49.5)"/>
<ellipse cx="392" cy="49.6" rx="1.9" ry="1.3" fill="url(#bl)" transform="rotate(128 392 49.6)"/>
<ellipse cx="328.4" cy="49.9" rx="2.1" ry="1.5" fill="url(#bl)" transform="rotate(33 328.4 49.9)"/>
<ellipse cx="384.8" cy="50" rx="2.8" ry="2.4" fill="url(#bl)" transform="rotate(150 384.8 50)"/>
<ellipse cx="397.8" cy="50.1" rx="2.6" ry="2.5" fill="url(#bl)" transform="rotate(98 397.8 50.1)"/>
<ellipse cx="392.2" cy="50.1" rx="1.8" ry="1.5" fill="url(#bl)" transform="rotate(21 392.2 50.1)"/>
<ellipse cx="371.7" cy="50.1" rx="1.5" ry="1.3" fill="url(#bl)" transform="rotate(88 371.7 50.1)"/>
<ellipse cx="319.5" cy="50.2" rx="2.2" ry="1.5" fill="url(#bl)" transform="rotate(109 319.5 50.2)"/>
<ellipse cx="383.9" cy="50.3" rx="2" ry="1.7" fill="url(#bl)" transform="rotate(51 383.9 50.3)"/>
<ellipse cx="370.7" cy="50.5" rx="1.5" ry="1.4" fill="url(#bl)" transform="rotate(5 370.7 50.5)"/>
<ellipse cx="354.3" cy="50.6" rx="3.2" ry="1.9" fill="url(#bl)" transform="rotate(117 354.3 50.6)"/>
<ellipse cx="327.7" cy="50.9" rx="3.4" ry="2.4" fill="url(#bl)" transform="rotate(9 327.7 50.9)"/>
<ellipse cx="340.9" cy="51" rx="2.4" ry="1.9" fill="url(#bl)" transform="rotate(86 340.9 51)"/>
<ellipse cx="310.8" cy="51.1" rx="2.3" ry="2.3" fill="url(#bl)" transform="rotate(139 310.8 51.1)"/>
<ellipse cx="349.4" cy="51.1" rx="2.5" ry="2.3" fill="url(#bl)" transform="rotate(124 349.4 51.1)"/>
<ellipse cx="328.8" cy="51.3" rx="2.3" ry="2.1" fill="url(#bl)" transform="rotate(152 328.8 51.3)"/>
<ellipse cx="333.4" cy="51.3" rx="2.9" ry="2" fill="url(#bl)" transform="rotate(93 333.4 51.3)"/>
<ellipse cx="376.3" cy="51.4" rx="2.2" ry="1.8" fill="url(#bl)" transform="rotate(32 376.3 51.4)"/>
<ellipse cx="383.5" cy="51.4" rx="2" ry="1.6" fill="url(#bl)" transform="rotate(129 383.5 51.4)"/>
<ellipse cx="342.2" cy="51.4" rx="2" ry="1.5" fill="url(#bl)" transform="rotate(5 342.2 51.4)"/>
<ellipse cx="382.1" cy="51.4" rx="2.5" ry="2.2" fill="url(#bl)" transform="rotate(112 382.1 51.4)"/>
<ellipse cx="318.6" cy="51.6" rx="2.5" ry="1.6" fill="url(#bl)" transform="rotate(44 318.6 51.6)"/>
<ellipse cx="389.3" cy="52" rx="2.9" ry="2.9" fill="url(#bl)" transform="rotate(66 389.3 52)"/>
<ellipse cx="350.7" cy="52" rx="2.3" ry="1.6" fill="url(#bl)" transform="rotate(178 350.7 52)"/>
<ellipse cx="386.7" cy="52.2" rx="2.6" ry="2.6" fill="url(#bl)" transform="rotate(10 386.7 52.2)"/>
<ellipse cx="371.1" cy="52.4" rx="3.5" ry="2.8" fill="url(#bl)" transform="rotate(177 371.1 52.4)"/>
<ellipse cx="389" cy="52.5" rx="2" ry="1.6" fill="url(#bl)" transform="rotate(97 389 52.5)"/>
<ellipse cx="372.2" cy="52.6" rx="3.1" ry="3.1" fill="url(#bl)" transform="rotate(109 372.2 52.6)"/>
<ellipse cx="348.2" cy="52.7" rx="3.6" ry="3.3" fill="url(#bl)" transform="rotate(60 348.2 52.7)"/>
<ellipse cx="309.3" cy="52.8" rx="2" ry="1.5" fill="url(#bl)" transform="rotate(0 309.3 52.8)"/>
<ellipse cx="349.1" cy="53.3" rx="2.6" ry="2.3" fill="url(#bl)" transform="rotate(104 349.1 53.3)"/>
<ellipse cx="379.6" cy="53.4" rx="1.8" ry="1.2" fill="url(#bl)" transform="rotate(63 379.6 53.4)"/>
<ellipse cx="388.8" cy="53.9" rx="2.4" ry="1.8" fill="url(#bl)" transform="rotate(145 388.8 53.9)"/>
<ellipse cx="372.5" cy="54" rx="2" ry="1.8" fill="url(#bl)" transform="rotate(29 372.5 54)"/>
<ellipse cx="372.7" cy="54" rx="2" ry="1.8" fill="url(#bl)" transform="rotate(95 372.7 54)"/>
<ellipse cx="346.4" cy="54.2" rx="2.1" ry="1.4" fill="url(#bl)" transform="rotate(153 346.4 54.2)"/>
<ellipse cx="379.5" cy="54.3" rx="2.2" ry="1.4" fill="url(#bl)" transform="rotate(13 379.5 54.3)"/>
<ellipse cx="394.8" cy="54.5" rx="2.6" ry="2.6" fill="url(#bl)" transform="rotate(141 394.8 54.5)"/>
<ellipse cx="382.8" cy="54.8" rx="1.8" ry="1.1" fill="url(#bl)" transform="rotate(113 382.8 54.8)"/>
<ellipse cx="381.3" cy="54.8" rx="1.6" ry="1.5" fill="url(#bl)" transform="rotate(8 381.3 54.8)"/>
<ellipse cx="351.4" cy="55" rx="2.7" ry="2.1" fill="url(#bl)" transform="rotate(162 351.4 55)"/>
<ellipse cx="377.9" cy="55.1" rx="2.6" ry="2.3" fill="url(#bl)" transform="rotate(26 377.9 55.1)"/>
<ellipse cx="353.5" cy="55.6" rx="3.3" ry="2.2" fill="url(#bl)" transform="rotate(106 353.5 55.6)"/>
<ellipse cx="381.2" cy="55.6" rx="2.2" ry="1.8" fill="url(#bl)" transform="rotate(73 381.2 55.6)"/>
<ellipse cx="389.4" cy="55.6" rx="3.1" ry="2.7" fill="url(#bl)" transform="rotate(145 389.4 55.6)"/>
<ellipse cx="334.6" cy="56.2" rx="1.9" ry="1.2" fill="url(#bl)" transform="rotate(37 334.6 56.2)"/>
<ellipse cx="391.2" cy="56.3" rx="1.6" ry="1.4" fill="url(#bl)" transform="rotate(129 391.2 56.3)"/>
<ellipse cx="387.4" cy="56.6" rx="3.3" ry="2.7" fill="url(#bl)" transform="rotate(175 387.4 56.6)"/>
<ellipse cx="316" cy="56.7" rx="3.2" ry="2.5" fill="url(#bl)" transform="rotate(52 316 56.7)"/>
<ellipse cx="389.1" cy="56.7" rx="2.1" ry="1.9" fill="url(#bl)" transform="rotate(42 389.1 56.7)"/>
<ellipse cx="359.7" cy="57" rx="2.2" ry="1.9" fill="url(#bl)" transform="rotate(85 359.7 57)"/>
<ellipse cx="356.5" cy="57.1" rx="2.8" ry="2.7" fill="url(#bl)" transform="rotate(79 356.5 57.1)"/>
<ellipse cx="393.3" cy="57.3" rx="1.8" ry="1.4" fill="url(#bl)" transform="rotate(107 393.3 57.3)"/>
<ellipse cx="359" cy="57.4" rx="1.8" ry="1.2" fill="url(#bl)" transform="rotate(16 359 57.4)"/>
<ellipse cx="369.1" cy="57.5" rx="2.3" ry="2.2" fill="url(#bl)" transform="rotate(113 369.1 57.5)"/>
<ellipse cx="333.6" cy="57.5" rx="1.8" ry="1.4" fill="url(#bl)" transform="rotate(10 333.6 57.5)"/>
<ellipse cx="370.2" cy="57.8" rx="3.1" ry="2.2" fill="url(#bl)" transform="rotate(21 370.2 57.8)"/>
<ellipse cx="316.2" cy="58" rx="3.5" ry="2.9" fill="url(#bl)" transform="rotate(127 316.2 58)"/>
<ellipse cx="345.2" cy="58.1" rx="2" ry="1.4" fill="url(#bl)" transform="rotate(38 345.2 58.1)"/>
<ellipse cx="345.4" cy="58.1" rx="2.7" ry="2" fill="url(#bl)" transform="rotate(33 345.4 58.1)"/>
<ellipse cx="392.9" cy="58.3" rx="2.7" ry="2.7" fill="url(#bl)" transform="rotate(82 392.9 58.3)"/>
<ellipse cx="356.7" cy="58.3" rx="2.3" ry="2.3" fill="url(#bl)" transform="rotate(135 356.7 58.3)"/>
<ellipse cx="387.6" cy="58.3" rx="2.2" ry="1.9" fill="url(#bl)" transform="rotate(42 387.6 58.3)"/>
<ellipse cx="370.7" cy="58.7" rx="2" ry="1.5" fill="url(#bl)" transform="rotate(170 370.7 58.7)"/>
<ellipse cx="393.6" cy="58.7" rx="1.9" ry="1.4" fill="url(#bl)" transform="rotate(14 393.6 58.7)"/>
<ellipse cx="337.4" cy="59.3" rx="3.1" ry="2.7" fill="url(#bl)" transform="rotate(141 337.4 59.3)"/>
<ellipse cx="376.1" cy="59.3" rx="1.9" ry="1.3" fill="url(#bl)" transform="rotate(148 376.1 59.3)"/>
<ellipse cx="335.3" cy="59.7" rx="2.6" ry="1.7" fill="url(#bl)" transform="rotate(111 335.3 59.7)"/>
<ellipse cx="360.2" cy="59.9" rx="2.2" ry="1.8" fill="url(#bl)" transform="rotate(80 360.2 59.9)"/>
<ellipse cx="379.9" cy="59.9" rx="2.7" ry="2" fill="url(#bl)" transform="rotate(157 379.9 59.9)"/>
<ellipse cx="379.4" cy="60" rx="2.4" ry="2.3" fill="url(#bl)" transform="rotate(41 379.4 60)"/>
<ellipse cx="356.6" cy="60.2" rx="1.9" ry="1.5" fill="url(#bl)" transform="rotate(144 356.6 60.2)"/>
<ellipse cx="358.4" cy="60.3" rx="2" ry="1.9" fill="url(#bl)" transform="rotate(112 358.4 60.3)"/>
<ellipse cx="387.2" cy="60.5" rx="1.8" ry="1.2" fill="url(#bl)" transform="rotate(168 387.2 60.5)"/>
<ellipse cx="376.4" cy="60.8" rx="1.7" ry="1.5" fill="url(#bl)" transform="rotate(96 376.4 60.8)"/>
<ellipse cx="391.2" cy="61.2" rx="2.5" ry="1.8" fill="url(#bl)" transform="rotate(64 391.2 61.2)"/>
<ellipse cx="323.7" cy="61.4" rx="2.1" ry="1.8" fill="url(#bl)" transform="rotate(160 323.7 61.4)"/>
<ellipse cx="337.3" cy="61.5" rx="2.3" ry="2.3" fill="url(#bl)" transform="rotate(90 337.3 61.5)"/>
<ellipse cx="364.4" cy="61.5" rx="2.8" ry="1.9" fill="url(#bl)" transform="rotate(53 364.4 61.5)"/>
<ellipse cx="313.7" cy="61.9" rx="2.1" ry="1.8" fill="url(#bl)" transform="rotate(8 313.7 61.9)"/>
<ellipse cx="389.3" cy="62" rx="2" ry="1.8" fill="url(#bl)" transform="rotate(20 389.3 62)"/>
<ellipse cx="367.8" cy="62.2" rx="2.7" ry="1.8" fill="url(#bl)" transform="rotate(113 367.8 62.2)"/>
<ellipse cx="312.5" cy="62.9" rx="2.6" ry="2.1" fill="url(#bl)" transform="rotate(73 312.5 62.9)"/>
<ellipse cx="341.5" cy="62.9" rx="1.5" ry="1.2" fill="url(#bl)" transform="rotate(39 341.5 62.9)"/>
<ellipse cx="343.3" cy="62.9" rx="1.7" ry="1.5" fill="url(#bl)" transform="rotate(97 343.3 62.9)"/>
<ellipse cx="344.9" cy="63.1" rx="2.1" ry="2" fill="url(#bl)" transform="rotate(106 344.9 63.1)"/>
<ellipse cx="385.6" cy="63.2" rx="1.8" ry="1.5" fill="url(#bl)" transform="rotate(83 385.6 63.2)"/>
<ellipse cx="315.1" cy="63.2" rx="1.7" ry="1.3" fill="url(#bl)" transform="rotate(63 315.1 63.2)"/>
<ellipse cx="346.9" cy="63.6" rx="2.1" ry="1.9" fill="url(#bl)" transform="rotate(87 346.9 63.6)"/>
<ellipse cx="395.3" cy="63.7" rx="2.4" ry="2.2" fill="url(#bl)" transform="rotate(151 395.3 63.7)"/>
<ellipse cx="344.2" cy="63.8" rx="1.9" ry="1.7" fill="url(#bl)" transform="rotate(46 344.2 63.8)"/>
<ellipse cx="346.5" cy="63.9" rx="2.1" ry="1.3" fill="url(#bl)" transform="rotate(178 346.5 63.9)"/>
<ellipse cx="389.7" cy="64.2" rx="2.3" ry="1.5" fill="url(#bl)" transform="rotate(104 389.7 64.2)"/>
<ellipse cx="315.3" cy="64.3" rx="2.8" ry="2.6" fill="url(#bl)" transform="rotate(114 315.3 64.3)"/>
<ellipse cx="390.2" cy="64.3" rx="2.4" ry="2" fill="url(#bl)" transform="rotate(123 390.2 64.3)"/>
<ellipse cx="359.2" cy="64.6" rx="2.4" ry="1.7" fill="url(#bl)" transform="rotate(116 359.2 64.6)"/>
<ellipse cx="312.9" cy="64.7" rx="2.4" ry="1.5" fill="url(#bl)" transform="rotate(142 312.9 64.7)"/>
<ellipse cx="379.7" cy="64.7" rx="3" ry="2.4" fill="url(#bl)" transform="rotate(35 379.7 64.7)"/>
<ellipse cx="378.5" cy="65.2" rx="1.8" ry="1.6" fill="url(#bl)" transform="rotate(168 378.5 65.2)"/>
<ellipse cx="336.4" cy="65.4" rx="2" ry="1.8" fill="url(#bl)" transform="rotate(46 336.4 65.4)"/>
<ellipse cx="335.2" cy="65.9" rx="2.8" ry="2.1" fill="url(#bl)" transform="rotate(176 335.2 65.9)"/>
<ellipse cx="322.7" cy="66" rx="1.7" ry="1.5" fill="url(#bl)" transform="rotate(30 322.7 66)"/>
<ellipse cx="356.7" cy="66.1" rx="2" ry="1.5" fill="url(#bl)" transform="rotate(160 356.7 66.1)"/>
<ellipse cx="369.6" cy="66.1" rx="3" ry="2.3" fill="url(#bl)" transform="rotate(72 369.6 66.1)"/>
<ellipse cx="311.1" cy="66.2" rx="2.2" ry="2" fill="url(#bl)" transform="rotate(93 311.1 66.2)"/>
<ellipse cx="358.3" cy="66.3" rx="2.2" ry="1.8" fill="url(#bl)" transform="rotate(145 358.3 66.3)"/>
<ellipse cx="338.1" cy="66.7" rx="2.8" ry="1.7" fill="url(#bl)" transform="rotate(68 338.1 66.7)"/>
<ellipse cx="332.2" cy="66.7" rx="2.7" ry="2.3" fill="url(#bl)" transform="rotate(136 332.2 66.7)"/>
<ellipse cx="367.5" cy="66.8" rx="1.9" ry="1.6" fill="url(#bl)" transform="rotate(28 367.5 66.8)"/>
<ellipse cx="325" cy="66.9" rx="3.6" ry="2.8" fill="url(#bl)" transform="rotate(131 325 66.9)"/>
<ellipse cx="394.3" cy="67" rx="2" ry="1.6" fill="url(#bl)" transform="rotate(60 394.3 67)"/>
<ellipse cx="323.6" cy="67" rx="3.3" ry="2" fill="url(#bl)" transform="rotate(149 323.6 67)"/>
<ellipse cx="342.6" cy="67.3" rx="2.5" ry="2.3" fill="url(#bl)" transform="rotate(22 342.6 67.3)"/>
<ellipse cx="355.9" cy="67.6" rx="2.2" ry="2" fill="url(#bl)" transform="rotate(105 355.9 67.6)"/>
<ellipse cx="341.9" cy="67.7" rx="2.6" ry="2.2" fill="url(#bl)" transform="rotate(73 341.9 67.7)"/>
<ellipse cx="361.4" cy="67.8" rx="2.2" ry="2.2" fill="url(#bl)" transform="rotate(142 361.4 67.8)"/>
<ellipse cx="367" cy="67.8" rx="2.1" ry="1.9" fill="url(#bl)" transform="rotate(16 367 67.8)"/>
<ellipse cx="340.8" cy="68" rx="2.6" ry="1.6" fill="url(#bl)" transform="rotate(74 340.8 68)"/>
<ellipse cx="339.6" cy="68.3" rx="2.3" ry="1.9" fill="url(#bl)" transform="rotate(12 339.6 68.3)"/>
<ellipse cx="371" cy="68.4" rx="2.7" ry="1.6" fill="url(#bl)" transform="rotate(163 371 68.4)"/>
<ellipse cx="326" cy="68.8" rx="2.9" ry="2" fill="url(#bl)" transform="rotate(39 326 68.8)"/>
<ellipse cx="357.3" cy="68.9" rx="3.6" ry="2.9" fill="url(#bl)" transform="rotate(2 357.3 68.9)"/>
<ellipse cx="321.2" cy="69.1" rx="3.1" ry="2.6" fill="url(#bl)" transform="rotate(65 321.2 69.1)"/>
<ellipse cx="368.8" cy="69.8" rx="2.7" ry="2.7" fill="url(#bl)" transform="rotate(44 368.8 69.8)"/>
<ellipse cx="329.7" cy="69.8" rx="3.6" ry="2.5" fill="url(#bl)" transform="rotate(141 329.7 69.8)"/>
<ellipse cx="322" cy="70" rx="3.1" ry="2" fill="url(#bl)" transform="rotate(36 322 70)"/>
<ellipse cx="340.7" cy="70.1" rx="3.1" ry="2.2" fill="url(#bl)" transform="rotate(82 340.7 70.1)"/>
<ellipse cx="376" cy="70.1" rx="1.9" ry="1.5" fill="url(#bl)" transform="rotate(90 376 70.1)"/>
<ellipse cx="348.7" cy="70.2" rx="2.4" ry="2.3" fill="url(#bl)" transform="rotate(75 348.7 70.2)"/>
<ellipse cx="324.6" cy="70.2" rx="1.6" ry="1.5" fill="url(#bl)" transform="rotate(60 324.6 70.2)"/>
<ellipse cx="325.2" cy="70.2" rx="2.3" ry="1.9" fill="url(#bl)" transform="rotate(140 325.2 70.2)"/>
<ellipse cx="380.2" cy="70.6" rx="2.4" ry="2" fill="url(#bl)" transform="rotate(131 380.2 70.6)"/>
<ellipse cx="341.7" cy="70.8" rx="3.1" ry="2" fill="url(#bl)" transform="rotate(164 341.7 70.8)"/>
<ellipse cx="348.2" cy="70.9" rx="2.1" ry="1.3" fill="url(#bl)" transform="rotate(138 348.2 70.9)"/>
<ellipse cx="330.7" cy="71" rx="1.9" ry="1.6" fill="url(#bl)" transform="rotate(111 330.7 71)"/>
<ellipse cx="346.8" cy="71" rx="2.1" ry="1.6" fill="url(#bl)" transform="rotate(27 346.8 71)"/>
<ellipse cx="314.8" cy="71" rx="1.7" ry="1.4" fill="url(#bl)" transform="rotate(46 314.8 71)"/>
<ellipse cx="339.5" cy="71.2" rx="3.1" ry="2.1" fill="url(#bl)" transform="rotate(21 339.5 71.2)"/>
<ellipse cx="350.2" cy="71.3" rx="2.2" ry="1.9" fill="url(#bl)" transform="rotate(139 350.2 71.3)"/>
<ellipse cx="357.5" cy="71.3" rx="2.4" ry="1.8" fill="url(#bl)" transform="rotate(73 357.5 71.3)"/>
<ellipse cx="400.5" cy="71.4" rx="2.5" ry="1.9" fill="url(#bl)" transform="rotate(173 400.5 71.4)"/>
<ellipse cx="329.7" cy="71.4" rx="2.8" ry="2.5" fill="url(#bl)" transform="rotate(87 329.7 71.4)"/>
<ellipse cx="348.7" cy="71.5" rx="1.8" ry="1.5" fill="url(#bl)" transform="rotate(133 348.7 71.5)"/>
<ellipse cx="339.2" cy="71.7" rx="2.2" ry="1.7" fill="url(#bl)" transform="rotate(88 339.2 71.7)"/>
<ellipse cx="348.5" cy="71.8" rx="1.5" ry="1.3" fill="url(#bl)" transform="rotate(130 348.5 71.8)"/>
<ellipse cx="352.2" cy="71.8" rx="3" ry="1.8" fill="url(#bl)" transform="rotate(123 352.2 71.8)"/>
<ellipse cx="330.9" cy="72" rx="2.2" ry="1.9" fill="url(#bl)" transform="rotate(134 330.9 72)"/>
<ellipse cx="360.8" cy="72.2" rx="1.8" ry="1.4" fill="url(#bl)" transform="rotate(42 360.8 72.2)"/>
<ellipse cx="359.6" cy="72.3" rx="2.8" ry="1.7" fill="url(#bl)" transform="rotate(43 359.6 72.3)"/>
<ellipse cx="344.9" cy="72.5" rx="1.7" ry="1.1" fill="url(#bl)" transform="rotate(176 344.9 72.5)"/>
<ellipse cx="314.9" cy="72.5" rx="2.2" ry="1.8" fill="url(#bl)" transform="rotate(113 314.9 72.5)"/>
<ellipse cx="322.3" cy="72.6" rx="3.3" ry="2.5" fill="url(#bl)" transform="rotate(118 322.3 72.6)"/>
<ellipse cx="314.8" cy="72.7" rx="2" ry="1.5" fill="url(#bl)" transform="rotate(5 314.8 72.7)"/>
<ellipse cx="337.2" cy="72.9" rx="2.2" ry="2.1" fill="url(#bl)" transform="rotate(114 337.2 72.9)"/>
<ellipse cx="326" cy="72.9" rx="3.1" ry="2.5" fill="url(#bl)" transform="rotate(52 326 72.9)"/>
<ellipse cx="348.3" cy="72.9" rx="1.6" ry="1.5" fill="url(#bl)" transform="rotate(56 348.3 72.9)"/>
<ellipse cx="370.6" cy="72.9" rx="2.5" ry="2.1" fill="url(#bl)" transform="rotate(82 370.6 72.9)"/>
<ellipse cx="336.9" cy="73" rx="2.8" ry="1.8" fill="url(#bl)" transform="rotate(117 336.9 73)"/>
<ellipse cx="359" cy="73" rx="1.9" ry="1.7" fill="url(#bl)" transform="rotate(108 359 73)"/>
<ellipse cx="356.9" cy="73" rx="3.1" ry="2.9" fill="url(#bl)" transform="rotate(72 356.9 73)"/>
<ellipse cx="321.9" cy="73" rx="3.3" ry="2.2" fill="url(#bl)" transform="rotate(11 321.9 73)"/>
<ellipse cx="341.1" cy="73.2" rx="1.7" ry="1.3" fill="url(#bl)" transform="rotate(106 341.1 73.2)"/>
<ellipse cx="394.9" cy="73.6" rx="2.5" ry="1.7" fill="url(#bl)" transform="rotate(45 394.9 73.6)"/>
<ellipse cx="369.1" cy="73.6" rx="2.9" ry="2.9" fill="url(#bl)" transform="rotate(165 369.1 73.6)"/>
<ellipse cx="323.7" cy="73.7" rx="1.9" ry="1.6" fill="url(#bl)" transform="rotate(90 323.7 73.7)"/>
<ellipse cx="355.7" cy="73.8" rx="2.5" ry="1.9" fill="url(#bl)" transform="rotate(165 355.7 73.8)"/>
<ellipse cx="393.8" cy="74" rx="2.8" ry="2.1" fill="url(#bl)" transform="rotate(145 393.8 74)"/>
<ellipse cx="396.9" cy="74.3" rx="2.4" ry="1.8" fill="url(#bl)" transform="rotate(67 396.9 74.3)"/>
<ellipse cx="400" cy="74.3" rx="2.2" ry="1.5" fill="url(#bl)" transform="rotate(157 400 74.3)"/>
<ellipse cx="365.6" cy="74.4" rx="2" ry="1.6" fill="url(#bl)" transform="rotate(98 365.6 74.4)"/>
<ellipse cx="334.9" cy="74.4" rx="3.6" ry="2.7" fill="url(#bl)" transform="rotate(83 334.9 74.4)"/>
<ellipse cx="355.2" cy="74.4" rx="2.3" ry="1.5" fill="url(#bl)" transform="rotate(137 355.2 74.4)"/>
<ellipse cx="366.2" cy="74.5" rx="2.6" ry="1.6" fill="url(#bl)" transform="rotate(47 366.2 74.5)"/>
<ellipse cx="354.4" cy="74.6" rx="2.3" ry="1.8" fill="url(#bl)" transform="rotate(134 354.4 74.6)"/>
<ellipse cx="356.3" cy="74.7" rx="1.7" ry="1.5" fill="url(#bl)" transform="rotate(55 356.3 74.7)"/>
<ellipse cx="324.5" cy="74.7" rx="1.7" ry="1" fill="url(#bl)" transform="rotate(133 324.5 74.7)"/>
<ellipse cx="356.1" cy="74.8" rx="1.8" ry="1.3" fill="url(#bl)" transform="rotate(116 356.1 74.8)"/>
<ellipse cx="385.9" cy="74.8" rx="2.9" ry="2.4" fill="url(#bl)" transform="rotate(57 385.9 74.8)"/>
<ellipse cx="355" cy="74.9" rx="3.4" ry="2.5" fill="url(#bl)" transform="rotate(136 355 74.9)"/>
<ellipse cx="328.4" cy="74.9" rx="2.1" ry="1.8" fill="url(#bl)" transform="rotate(148 328.4 74.9)"/>
<ellipse cx="392.8" cy="75.2" rx="1.9" ry="1.7" fill="url(#bl)" transform="rotate(57 392.8 75.2)"/>
<ellipse cx="349.9" cy="75.2" rx="2.4" ry="2.3" fill="url(#bl)" transform="rotate(56 349.9 75.2)"/>
<ellipse cx="329" cy="75.3" rx="3.2" ry="2.8" fill="url(#bl)" transform="rotate(40 329 75.3)"/>
<ellipse cx="341.7" cy="75.3" rx="2.2" ry="1.9" fill="url(#bl)" transform="rotate(22 341.7 75.3)"/>
<ellipse cx="384" cy="75.4" rx="3.5" ry="2.4" fill="url(#bl)" transform="rotate(144 384 75.4)"/>
<ellipse cx="384.5" cy="75.5" rx="2" ry="1.9" fill="url(#bl)" transform="rotate(36 384.5 75.5)"/>
<ellipse cx="341.9" cy="75.8" rx="3.2" ry="2.5" fill="url(#bl)" transform="rotate(43 341.9 75.8)"/>
<ellipse cx="384.1" cy="76.1" rx="3.1" ry="2.4" fill="url(#bl)" transform="rotate(5 384.1 76.1)"/>
<ellipse cx="397.8" cy="76.5" rx="2.4" ry="2.1" fill="url(#bl)" transform="rotate(30 397.8 76.5)"/>
<ellipse cx="400.4" cy="76.5" rx="3.1" ry="2" fill="url(#bl)" transform="rotate(178 400.4 76.5)"/>
<ellipse cx="396.8" cy="76.5" rx="2.3" ry="2.1" fill="url(#bl)" transform="rotate(37 396.8 76.5)"/>
<ellipse cx="334.4" cy="76.5" rx="2.2" ry="1.8" fill="url(#bl)" transform="rotate(90 334.4 76.5)"/>
<ellipse cx="366.9" cy="76.7" rx="3.2" ry="3.1" fill="url(#bl)" transform="rotate(141 366.9 76.7)"/>
<ellipse cx="391.9" cy="76.7" rx="1.7" ry="1.7" fill="url(#bl)" transform="rotate(167 391.9 76.7)"/>
<ellipse cx="365.7" cy="76.7" rx="2.3" ry="2.2" fill="url(#bl)" transform="rotate(170 365.7 76.7)"/>
<ellipse cx="395.5" cy="76.8" rx="1.7" ry="1.3" fill="url(#bl)" transform="rotate(163 395.5 76.8)"/>
<ellipse cx="348.9" cy="76.9" rx="2.5" ry="2.4" fill="url(#bl)" transform="rotate(13 348.9 76.9)"/>
<ellipse cx="334.6" cy="77.2" rx="1.9" ry="1.2" fill="url(#bl)" transform="rotate(89 334.6 77.2)"/>
<ellipse cx="338.5" cy="77.2" rx="2.6" ry="1.7" fill="url(#bl)" transform="rotate(85 338.5 77.2)"/>
<ellipse cx="374.7" cy="77.2" rx="3.4" ry="3.1" fill="url(#bl)" transform="rotate(148 374.7 77.2)"/>
<ellipse cx="376.8" cy="77.3" rx="3.1" ry="3" fill="url(#bl)" transform="rotate(106 376.8 77.3)"/>
<ellipse cx="396.1" cy="77.3" rx="2.2" ry="2.1" fill="url(#bl)" transform="rotate(89 396.1 77.3)"/>
<ellipse cx="323.5" cy="77.5" rx="2.8" ry="2.2" fill="url(#bl)" transform="rotate(114 323.5 77.5)"/>
<ellipse cx="368" cy="77.5" rx="2.5" ry="1.7" fill="url(#bl)" transform="rotate(126 368 77.5)"/>
<ellipse cx="387.7" cy="77.8" rx="2" ry="1.6" fill="url(#bl)" transform="rotate(167 387.7 77.8)"/>
<ellipse cx="337.5" cy="78.3" rx="2.7" ry="2.3" fill="url(#bl)" transform="rotate(81 337.5 78.3)"/>
<ellipse cx="367.8" cy="78.3" rx="1.6" ry="1" fill="url(#bl)" transform="rotate(135 367.8 78.3)"/>
<ellipse cx="339.5" cy="78.5" rx="2.6" ry="2.1" fill="url(#bl)" transform="rotate(173 339.5 78.5)"/>
<ellipse cx="398.3" cy="78.7" rx="2" ry="1.8" fill="url(#bl)" transform="rotate(113 398.3 78.7)"/>
<ellipse cx="395.7" cy="78.8" rx="2.4" ry="1.9" fill="url(#bl)" transform="rotate(88 395.7 78.8)"/>
<ellipse cx="366.6" cy="78.9" rx="1.9" ry="1.8" fill="url(#bl)" transform="rotate(166 366.6 78.9)"/>
<ellipse cx="319.3" cy="78.9" rx="3.5" ry="2.2" fill="url(#bl)" transform="rotate(80 319.3 78.9)"/>
<ellipse cx="337.8" cy="78.9" rx="2.4" ry="2.2" fill="url(#bl)" transform="rotate(123 337.8 78.9)"/>
<ellipse cx="367.7" cy="79" rx="3" ry="2" fill="url(#bl)" transform="rotate(134 367.7 79)"/>
<ellipse cx="370.4" cy="79.2" rx="2.4" ry="1.5" fill="url(#bl)" transform="rotate(53 370.4 79.2)"/>
<ellipse cx="365.1" cy="79.5" rx="2.4" ry="2.1" fill="url(#bl)" transform="rotate(20 365.1 79.5)"/>
<ellipse cx="366.9" cy="79.6" rx="2.5" ry="2.3" fill="url(#bl)" transform="rotate(88 366.9 79.6)"/>
<ellipse cx="339.4" cy="79.6" rx="2" ry="1.7" fill="url(#bl)" transform="rotate(70 339.4 79.6)"/>
<ellipse cx="381" cy="79.7" rx="2.4" ry="2.3" fill="url(#bl)" transform="rotate(38 381 79.7)"/>
<ellipse cx="368.7" cy="79.7" rx="2.6" ry="2.6" fill="url(#bl)" transform="rotate(6 368.7 79.7)"/>
<ellipse cx="407.7" cy="79.9" rx="3.2" ry="2.8" fill="url(#bl)" transform="rotate(66 407.7 79.9)"/>
<ellipse cx="393.6" cy="80" rx="2.2" ry="1.6" fill="url(#bl)" transform="rotate(10 393.6 80)"/>
<ellipse cx="405.7" cy="80.2" rx="2.6" ry="1.6" fill="url(#bl)" transform="rotate(74 405.7 80.2)"/>
<ellipse cx="341.6" cy="80.2" rx="3.1" ry="2.1" fill="url(#bl)" transform="rotate(22 341.6 80.2)"/>
<ellipse cx="328.2" cy="81.1" rx="1.7" ry="1.3" fill="url(#bl)" transform="rotate(33 328.2 81.1)"/>
<ellipse cx="380" cy="81.6" rx="3.3" ry="2.8" fill="url(#bl)" transform="rotate(25 380 81.6)"/>
<ellipse cx="397.4" cy="81.6" rx="2.3" ry="1.9" fill="url(#bl)" transform="rotate(158 397.4 81.6)"/>
<ellipse cx="313.9" cy="81.6" rx="2.9" ry="2.8" fill="url(#bl)" transform="rotate(16 313.9 81.6)"/>
<ellipse cx="362.7" cy="82.5" rx="1.7" ry="1.4" fill="url(#bl)" transform="rotate(142 362.7 82.5)"/>
<ellipse cx="362.3" cy="82.7" rx="2" ry="1.8" fill="url(#bl)" transform="rotate(119 362.3 82.7)"/>
<ellipse cx="368.7" cy="83" rx="2.5" ry="2" fill="url(#bl)" transform="rotate(142 368.7 83)"/>
<ellipse cx="389.2" cy="83.1" rx="2.1" ry="1.6" fill="url(#bl)" transform="rotate(122 389.2 83.1)"/>
<ellipse cx="366.3" cy="83.2" rx="3.3" ry="2.3" fill="url(#bl)" transform="rotate(143 366.3 83.2)"/>
<ellipse cx="362.1" cy="83.2" rx="2.4" ry="1.7" fill="url(#bl)" transform="rotate(32 362.1 83.2)"/>
<ellipse cx="398.7" cy="83.2" rx="1.9" ry="1.8" fill="url(#bl)" transform="rotate(168 398.7 83.2)"/>
<ellipse cx="387.1" cy="83.5" rx="1.8" ry="1.5" fill="url(#bl)" transform="rotate(90 387.1 83.5)"/>
<ellipse cx="389.6" cy="83.5" rx="3.6" ry="3.3" fill="url(#bl)" transform="rotate(34 389.6 83.5)"/>
<ellipse cx="363.5" cy="83.6" rx="2.5" ry="2" fill="url(#bl)" transform="rotate(119 363.5 83.6)"/>
<ellipse cx="363.7" cy="83.7" rx="2.4" ry="2" fill="url(#bl)" transform="rotate(25 363.7 83.7)"/>
<ellipse cx="385" cy="84.1" rx="3.1" ry="2.4" fill="url(#bl)" transform="rotate(51 385 84.1)"/>
<ellipse cx="364.4" cy="84.3" rx="3" ry="2.4" fill="url(#bl)" transform="rotate(73 364.4 84.3)"/>
<ellipse cx="396.3" cy="84.3" rx="2.4" ry="2.2" fill="url(#bl)" transform="rotate(99 396.3 84.3)"/>
<ellipse cx="321.5" cy="84.5" rx="2.5" ry="2.3" fill="url(#bl)" transform="rotate(137 321.5 84.5)"/>
<ellipse cx="363.5" cy="84.5" rx="2.7" ry="2.5" fill="url(#bl)" transform="rotate(90 363.5 84.5)"/>
<ellipse cx="336.4" cy="84.5" rx="2.8" ry="2.4" fill="url(#bl)" transform="rotate(155 336.4 84.5)"/>
<ellipse cx="368.9" cy="84.6" rx="3.1" ry="2.1" fill="url(#bl)" transform="rotate(157 368.9 84.6)"/>
<ellipse cx="384.1" cy="84.8" rx="2" ry="1.9" fill="url(#bl)" transform="rotate(83 384.1 84.8)"/>
<ellipse cx="338.4" cy="84.9" rx="3.1" ry="3" fill="url(#bl)" transform="rotate(170 338.4 84.9)"/>
<ellipse cx="394.2" cy="84.9" rx="2.3" ry="1.6" fill="url(#bl)" transform="rotate(101 394.2 84.9)"/>
<ellipse cx="358.5" cy="85" rx="2.2" ry="2.1" fill="url(#bl)" transform="rotate(10 358.5 85)"/>
<ellipse cx="388.1" cy="85" rx="2.4" ry="2.2" fill="url(#bl)" transform="rotate(123 388.1 85)"/>
<ellipse cx="387.3" cy="85.1" rx="2.9" ry="2.4" fill="url(#bl)" transform="rotate(154 387.3 85.1)"/>
<ellipse cx="319.4" cy="85.2" rx="3" ry="1.8" fill="url(#bl)" transform="rotate(59 319.4 85.2)"/>
<ellipse cx="320.9" cy="85.3" rx="2.9" ry="1.9" fill="url(#bl)" transform="rotate(9 320.9 85.3)"/>
<ellipse cx="356.2" cy="85.4" rx="3.1" ry="1.9" fill="url(#bl)" transform="rotate(7 356.2 85.4)"/>
<ellipse cx="326.5" cy="85.4" rx="2.3" ry="1.4" fill="url(#bl)" transform="rotate(159 326.5 85.4)"/>
<ellipse cx="358.3" cy="85.4" rx="3.3" ry="2" fill="url(#bl)" transform="rotate(16 358.3 85.4)"/>
<ellipse cx="358.8" cy="85.8" rx="3" ry="2.5" fill="url(#bl)" transform="rotate(25 358.8 85.8)"/>
<ellipse cx="321.6" cy="85.9" rx="2.2" ry="1.8" fill="url(#bl)" transform="rotate(40 321.6 85.9)"/>
<ellipse cx="360.4" cy="85.9" rx="2.2" ry="1.8" fill="url(#bl)" transform="rotate(137 360.4 85.9)"/>
<ellipse cx="328.6" cy="86.3" rx="1.8" ry="1.4" fill="url(#bl)" transform="rotate(109 328.6 86.3)"/>
<ellipse cx="321.6" cy="86.6" rx="2.6" ry="1.8" fill="url(#bl)" transform="rotate(29 321.6 86.6)"/>
<ellipse cx="375.9" cy="86.6" rx="1.8" ry="1.6" fill="url(#bl)" transform="rotate(129 375.9 86.6)"/>
<ellipse cx="356.1" cy="86.6" rx="2.5" ry="2.3" fill="url(#bl)" transform="rotate(91 356.1 86.6)"/>
<ellipse cx="385.6" cy="86.7" rx="2.1" ry="1.6" fill="url(#bl)" transform="rotate(25 385.6 86.7)"/>
<ellipse cx="323.6" cy="86.8" rx="2.9" ry="1.8" fill="url(#bl)" transform="rotate(127 323.6 86.8)"/>
<ellipse cx="357.5" cy="86.9" rx="2.3" ry="2.2" fill="url(#bl)" transform="rotate(171 357.5 86.9)"/>
<ellipse cx="319.1" cy="87.1" rx="2.1" ry="1.7" fill="url(#bl)" transform="rotate(162 319.1 87.1)"/>
<ellipse cx="362" cy="87.1" rx="2.4" ry="2.4" fill="url(#bl)" transform="rotate(102 362 87.1)"/>
<ellipse cx="319.7" cy="87.6" rx="2.5" ry="1.5" fill="url(#bl)" transform="rotate(170 319.7 87.6)"/>
<ellipse cx="320" cy="87.6" rx="2.3" ry="1.8" fill="url(#bl)" transform="rotate(72 320 87.6)"/>
<ellipse cx="347.2" cy="87.9" rx="2.9" ry="2" fill="url(#bl)" transform="rotate(138 347.2 87.9)"/>
<ellipse cx="377.3" cy="88" rx="2.1" ry="1.4" fill="url(#bl)" transform="rotate(140 377.3 88)"/>
<ellipse cx="347" cy="88.1" rx="3.1" ry="2.8" fill="url(#bl)" transform="rotate(39 347 88.1)"/>
<ellipse cx="398.6" cy="88.2" rx="2.4" ry="1.8" fill="url(#bl)" transform="rotate(150 398.6 88.2)"/>
<ellipse cx="362" cy="88.6" rx="2.7" ry="1.8" fill="url(#bl)" transform="rotate(158 362 88.6)"/>
<ellipse cx="341.6" cy="88.7" rx="2.5" ry="1.7" fill="url(#bl)" transform="rotate(47 341.6 88.7)"/>
<ellipse cx="374.5" cy="88.7" rx="3" ry="2.6" fill="url(#bl)" transform="rotate(102 374.5 88.7)"/>
<ellipse cx="397.5" cy="89.2" rx="1.6" ry="1.3" fill="url(#bl)" transform="rotate(169 397.5 89.2)"/>
<ellipse cx="374.7" cy="89.2" rx="3.6" ry="2.2" fill="url(#bl)" transform="rotate(18 374.7 89.2)"/>
<ellipse cx="346.5" cy="89.3" rx="2.1" ry="1.6" fill="url(#bl)" transform="rotate(167 346.5 89.3)"/>
<ellipse cx="318.6" cy="89.5" rx="3.3" ry="2.6" fill="url(#bl)" transform="rotate(51 318.6 89.5)"/>
<ellipse cx="395.7" cy="89.6" rx="2.2" ry="1.7" fill="url(#bl)" transform="rotate(41 395.7 89.6)"/>
<ellipse cx="348.2" cy="89.9" rx="2.9" ry="2.7" fill="url(#bl)" transform="rotate(25 348.2 89.9)"/>
<ellipse cx="341.9" cy="90.1" rx="2.2" ry="1.6" fill="url(#bl)" transform="rotate(31 341.9 90.1)"/>
<ellipse cx="397.1" cy="90.5" rx="3.4" ry="2.1" fill="url(#bl)" transform="rotate(90 397.1 90.5)"/>
<ellipse cx="319.3" cy="90.7" rx="2.1" ry="1.8" fill="url(#bl)" transform="rotate(155 319.3 90.7)"/>
<ellipse cx="385.7" cy="90.7" rx="1.9" ry="1.8" fill="url(#bl)" transform="rotate(45 385.7 90.7)"/>
<ellipse cx="326.7" cy="90.9" rx="2.7" ry="2.2" fill="url(#bl)" transform="rotate(115 326.7 90.9)"/>
<ellipse cx="368.5" cy="90.9" rx="2" ry="1.9" fill="url(#bl)" transform="rotate(81 368.5 90.9)"/>
<ellipse cx="396.6" cy="90.9" rx="2.4" ry="1.7" fill="url(#bl)" transform="rotate(77 396.6 90.9)"/>
<ellipse cx="356.2" cy="90.9" rx="2.5" ry="2.3" fill="url(#bl)" transform="rotate(153 356.2 90.9)"/>
<ellipse cx="337.1" cy="91.1" rx="1.5" ry="1.1" fill="url(#bl)" transform="rotate(64 337.1 91.1)"/>
<ellipse cx="398" cy="91.2" rx="3.7" ry="3" fill="url(#bl)" transform="rotate(119 398 91.2)"/>
<ellipse cx="354.9" cy="91.4" rx="2.4" ry="1.6" fill="url(#bl)" transform="rotate(14 354.9 91.4)"/>
<ellipse cx="397.9" cy="91.6" rx="3" ry="1.9" fill="url(#bl)" transform="rotate(56 397.9 91.6)"/>
<ellipse cx="366.4" cy="92" rx="1.9" ry="1.4" fill="url(#bl)" transform="rotate(90 366.4 92)"/>
<ellipse cx="327.7" cy="92.2" rx="2" ry="1.3" fill="url(#bl)" transform="rotate(103 327.7 92.2)"/>
<ellipse cx="353.8" cy="92.4" rx="2.3" ry="1.6" fill="url(#bl)" transform="rotate(82 353.8 92.4)"/>
<ellipse cx="395.1" cy="92.4" rx="1.6" ry="1.1" fill="url(#bl)" transform="rotate(135 395.1 92.4)"/>
</g>
<rect x="304.3" y="4.8" width="105.5" height="93" fill="url(#ov)"/>
<rect x="304.8" y="5.3" width="104.5" height="92" fill="none" stroke="#6e443c" stroke-width="1" opacity="0.7"/>
<g clip-path="url(#cb2)"><rect x="412" y="4.8" width="104.2" height="93" fill="url(#bg2)"/>
<filter id="fb5" x="-0.2" y="-0.2" width="1.4" height="1.4"><feGaussianBlur stdDeviation="4"/></filter>
<path d="M420 18 Q464 10 508 18 L506 80 Q490 95 464 97 Q438 95 426 82 Z" fill="#8c4a3e" opacity="0.6" filter="url(#fb5)"/>
<ellipse cx="475.8" cy="14.5" rx="3.2" ry="1.9" fill="url(#bl2)" transform="rotate(132 475.8 14.5)"/>
<ellipse cx="479.4" cy="14.7" rx="3.8" ry="2.2" fill="url(#bl2)" transform="rotate(77 479.4 14.7)"/>
<ellipse cx="475.2" cy="14.8" rx="3" ry="1.3" fill="url(#bl2)" transform="rotate(62 475.2 14.8)"/>
<ellipse cx="454.1" cy="14.8" rx="2.2" ry="2" fill="url(#bl2)" transform="rotate(11 454.1 14.8)"/>
<ellipse cx="460.4" cy="15.4" rx="3.1" ry="1.7" fill="url(#bl2)" transform="rotate(48 460.4 15.4)"/>
<ellipse cx="433.7" cy="15.6" rx="4" ry="1.5" fill="url(#bl2)" transform="rotate(59 433.7 15.6)"/>
<ellipse cx="506.2" cy="15.7" rx="2.7" ry="1.7" fill="url(#bl2)" transform="rotate(96 506.2 15.7)"/>
<ellipse cx="466.2" cy="15.8" rx="3.2" ry="1.7" fill="url(#bl2)" transform="rotate(77 466.2 15.8)"/>
<ellipse cx="423.9" cy="15.8" rx="4.6" ry="2.4" fill="url(#bl2)" transform="rotate(103 423.9 15.8)"/>
<ellipse cx="437.1" cy="15.9" rx="2.6" ry="2.3" fill="url(#bl2)" transform="rotate(154 437.1 15.9)"/>
<ellipse cx="471.3" cy="15.9" rx="4.5" ry="1.9" fill="url(#bl2)" transform="rotate(150 471.3 15.9)"/>
<ellipse cx="490.7" cy="15.9" rx="2.7" ry="2.3" fill="url(#bl2)" transform="rotate(1 490.7 15.9)"/>
<ellipse cx="477.9" cy="16.3" rx="4.2" ry="1.8" fill="url(#bl2)" transform="rotate(166 477.9 16.3)"/>
<ellipse cx="440.7" cy="17.4" rx="4.4" ry="1.8" fill="url(#bl2)" transform="rotate(9 440.7 17.4)"/>
<ellipse cx="436.9" cy="17.4" rx="3.1" ry="1.9" fill="url(#bl2)" transform="rotate(73 436.9 17.4)"/>
<ellipse cx="472.2" cy="17.4" rx="2.2" ry="2" fill="url(#bl2)" transform="rotate(56 472.2 17.4)"/>
<ellipse cx="486.9" cy="17.5" rx="4.5" ry="1.8" fill="url(#bl2)" transform="rotate(177 486.9 17.5)"/>
<ellipse cx="471" cy="17.6" rx="3.3" ry="1.7" fill="url(#bl2)" transform="rotate(32 471 17.6)"/>
<ellipse cx="438.2" cy="17.9" rx="2.7" ry="2.3" fill="url(#bl2)" transform="rotate(145 438.2 17.9)"/>
<ellipse cx="464.7" cy="17.9" rx="3.9" ry="1.7" fill="url(#bl2)" transform="rotate(169 464.7 17.9)"/>
<ellipse cx="443.5" cy="18.3" rx="4.1" ry="2.2" fill="url(#bl2)" transform="rotate(95 443.5 18.3)"/>
<ellipse cx="486.7" cy="18.6" rx="2.4" ry="1.5" fill="url(#bl2)" transform="rotate(142 486.7 18.6)"/>
<ellipse cx="462.8" cy="19.1" rx="2.5" ry="1.9" fill="url(#bl2)" transform="rotate(18 462.8 19.1)"/>
<ellipse cx="505.7" cy="19.1" rx="2.1" ry="2.2" fill="url(#bl2)" transform="rotate(86 505.7 19.1)"/>
<ellipse cx="428.1" cy="19.1" rx="4.2" ry="1.7" fill="url(#bl2)" transform="rotate(118 428.1 19.1)"/>
<ellipse cx="419.9" cy="19.5" rx="4.1" ry="1.5" fill="url(#bl2)" transform="rotate(71 419.9 19.5)"/>
<ellipse cx="487.6" cy="20" rx="2.2" ry="2.2" fill="url(#bl2)" transform="rotate(84 487.6 20)"/>
<ellipse cx="425.4" cy="20.6" rx="2.8" ry="1.5" fill="url(#bl2)" transform="rotate(158 425.4 20.6)"/>
<ellipse cx="420.6" cy="21.2" rx="2.7" ry="1.8" fill="url(#bl2)" transform="rotate(138 420.6 21.2)"/>
<ellipse cx="474.2" cy="21.3" rx="2.2" ry="2.3" fill="url(#bl2)" transform="rotate(38 474.2 21.3)"/>
<ellipse cx="437.4" cy="21.7" rx="2.5" ry="2.3" fill="url(#bl2)" transform="rotate(138 437.4 21.7)"/>
<ellipse cx="434" cy="21.7" rx="3.7" ry="1.5" fill="url(#bl2)" transform="rotate(58 434 21.7)"/>
<ellipse cx="462.7" cy="21.8" rx="2" ry="1.3" fill="url(#bl2)" transform="rotate(171 462.7 21.8)"/>
<ellipse cx="439.4" cy="21.8" rx="2.5" ry="1.5" fill="url(#bl2)" transform="rotate(64 439.4 21.8)"/>
<ellipse cx="425.8" cy="21.9" rx="3.2" ry="1.7" fill="url(#bl2)" transform="rotate(49 425.8 21.9)"/>
<ellipse cx="432" cy="21.9" rx="3.9" ry="1.8" fill="url(#bl2)" transform="rotate(97 432 21.9)"/>
<ellipse cx="496.9" cy="22" rx="2.9" ry="1.4" fill="url(#bl2)" transform="rotate(124 496.9 22)"/>
<ellipse cx="440.3" cy="22" rx="3" ry="1.9" fill="url(#bl2)" transform="rotate(148 440.3 22)"/>
<ellipse cx="453.3" cy="22.2" rx="2.2" ry="1.8" fill="url(#bl2)" transform="rotate(162 453.3 22.2)"/>
<ellipse cx="433" cy="22.2" rx="4.3" ry="2.3" fill="url(#bl2)" transform="rotate(152 433 22.2)"/>
<ellipse cx="443.6" cy="22.3" rx="4.6" ry="1.7" fill="url(#bl2)" transform="rotate(130 443.6 22.3)"/>
<ellipse cx="420.2" cy="22.5" rx="2.6" ry="2.1" fill="url(#bl2)" transform="rotate(49 420.2 22.5)"/>
<ellipse cx="435.7" cy="22.5" rx="3.3" ry="2.3" fill="url(#bl2)" transform="rotate(77 435.7 22.5)"/>
<ellipse cx="494.1" cy="22.8" rx="3.2" ry="2.1" fill="url(#bl2)" transform="rotate(141 494.1 22.8)"/>
<ellipse cx="502.5" cy="23.3" rx="3.8" ry="2.2" fill="url(#bl2)" transform="rotate(102 502.5 23.3)"/>
<ellipse cx="483.1" cy="23.4" rx="4.4" ry="1.4" fill="url(#bl2)" transform="rotate(163 483.1 23.4)"/>
<ellipse cx="502" cy="23.8" rx="3.6" ry="1.6" fill="url(#bl2)" transform="rotate(87 502 23.8)"/>
<ellipse cx="460.8" cy="23.8" rx="2.8" ry="1.4" fill="url(#bl2)" transform="rotate(102 460.8 23.8)"/>
<ellipse cx="494.1" cy="24.2" rx="2.7" ry="1.6" fill="url(#bl2)" transform="rotate(80 494.1 24.2)"/>
<ellipse cx="452.2" cy="24.4" rx="3.7" ry="1.8" fill="url(#bl2)" transform="rotate(49 452.2 24.4)"/>
<ellipse cx="486.2" cy="24.4" rx="4" ry="2.3" fill="url(#bl2)" transform="rotate(14 486.2 24.4)"/>
<ellipse cx="460.7" cy="24.5" rx="2.7" ry="1.8" fill="url(#bl2)" transform="rotate(159 460.7 24.5)"/>
<ellipse cx="444.7" cy="24.6" rx="2.6" ry="1.9" fill="url(#bl2)" transform="rotate(21 444.7 24.6)"/>
<ellipse cx="455.5" cy="24.7" rx="3.4" ry="1.7" fill="url(#bl2)" transform="rotate(38 455.5 24.7)"/>
<ellipse cx="471.8" cy="24.7" rx="2.7" ry="1.7" fill="url(#bl2)" transform="rotate(114 471.8 24.7)"/>
<ellipse cx="503.3" cy="24.9" rx="2.8" ry="1.5" fill="url(#bl2)" transform="rotate(92 503.3 24.9)"/>
<ellipse cx="497.4" cy="25" rx="2.5" ry="1.4" fill="url(#bl2)" transform="rotate(10 497.4 25)"/>
<ellipse cx="453.2" cy="25.3" rx="3.9" ry="1.4" fill="url(#bl2)" transform="rotate(61 453.2 25.3)"/>
<ellipse cx="465.4" cy="25.5" rx="3.3" ry="1.9" fill="url(#bl2)" transform="rotate(99 465.4 25.5)"/>
<ellipse cx="498" cy="25.5" rx="3.9" ry="1.5" fill="url(#bl2)" transform="rotate(116 498 25.5)"/>
<ellipse cx="443" cy="25.6" rx="2.7" ry="1.7" fill="url(#bl2)" transform="rotate(134 443 25.6)"/>
<ellipse cx="501.8" cy="25.7" rx="2.1" ry="2.3" fill="url(#bl2)" transform="rotate(12 501.8 25.7)"/>
<ellipse cx="442.9" cy="25.9" rx="2.3" ry="1.4" fill="url(#bl2)" transform="rotate(178 442.9 25.9)"/>
<ellipse cx="488.4" cy="26" rx="4.3" ry="2.2" fill="url(#bl2)" transform="rotate(95 488.4 26)"/>
<ellipse cx="460.3" cy="26.1" rx="2.4" ry="1.4" fill="url(#bl2)" transform="rotate(99 460.3 26.1)"/>
<ellipse cx="475.3" cy="26.4" rx="4.5" ry="1.9" fill="url(#bl2)" transform="rotate(96 475.3 26.4)"/>
<ellipse cx="500.6" cy="26.7" rx="2.3" ry="1.8" fill="url(#bl2)" transform="rotate(9 500.6 26.7)"/>
<ellipse cx="467.6" cy="26.7" rx="3.3" ry="2.2" fill="url(#bl2)" transform="rotate(152 467.6 26.7)"/>
<ellipse cx="454" cy="26.8" rx="2.3" ry="2.2" fill="url(#bl2)" transform="rotate(170 454 26.8)"/>
<ellipse cx="421.7" cy="26.9" rx="4.3" ry="2.3" fill="url(#bl2)" transform="rotate(28 421.7 26.9)"/>
<ellipse cx="456.6" cy="26.9" rx="3.7" ry="2.2" fill="url(#bl2)" transform="rotate(144 456.6 26.9)"/>
<ellipse cx="471.2" cy="27.4" rx="3.6" ry="1.5" fill="url(#bl2)" transform="rotate(11 471.2 27.4)"/>
<ellipse cx="471.9" cy="27.5" rx="4.5" ry="2.3" fill="url(#bl2)" transform="rotate(175 471.9 27.5)"/>
<ellipse cx="480.9" cy="27.7" rx="2.3" ry="1.8" fill="url(#bl2)" transform="rotate(39 480.9 27.7)"/>
<ellipse cx="437.3" cy="27.8" rx="2.6" ry="1.3" fill="url(#bl2)" transform="rotate(172 437.3 27.8)"/>
<ellipse cx="463.2" cy="27.9" rx="2.8" ry="2" fill="url(#bl2)" transform="rotate(143 463.2 27.9)"/>
<ellipse cx="496.4" cy="28" rx="4.4" ry="1.7" fill="url(#bl2)" transform="rotate(115 496.4 28)"/>
<ellipse cx="481.7" cy="28.1" rx="4.3" ry="1.3" fill="url(#bl2)" transform="rotate(78 481.7 28.1)"/>
<ellipse cx="456.7" cy="28.1" rx="2.4" ry="2.3" fill="url(#bl2)" transform="rotate(73 456.7 28.1)"/>
<ellipse cx="470.3" cy="28.1" rx="4.4" ry="2.3" fill="url(#bl2)" transform="rotate(104 470.3 28.1)"/>
<ellipse cx="423" cy="28.2" rx="3.5" ry="1.5" fill="url(#bl2)" transform="rotate(67 423 28.2)"/>
<ellipse cx="475" cy="28.9" rx="2.6" ry="2" fill="url(#bl2)" transform="rotate(136 475 28.9)"/>
<ellipse cx="486.1" cy="29" rx="4" ry="2" fill="url(#bl2)" transform="rotate(136 486.1 29)"/>
<ellipse cx="482.2" cy="29" rx="3.5" ry="1.8" fill="url(#bl2)" transform="rotate(108 482.2 29)"/>
<ellipse cx="480.5" cy="29.1" rx="3.5" ry="1.7" fill="url(#bl2)" transform="rotate(89 480.5 29.1)"/>
<ellipse cx="470.7" cy="29.1" rx="4.3" ry="2.1" fill="url(#bl2)" transform="rotate(103 470.7 29.1)"/>
<ellipse cx="476.8" cy="29.2" rx="2.1" ry="1.3" fill="url(#bl2)" transform="rotate(82 476.8 29.2)"/>
<ellipse cx="461.4" cy="29.3" rx="2.8" ry="1.4" fill="url(#bl2)" transform="rotate(29 461.4 29.3)"/>
<ellipse cx="463.4" cy="29.4" rx="3.6" ry="1.9" fill="url(#bl2)" transform="rotate(110 463.4 29.4)"/>
<ellipse cx="482.6" cy="29.6" rx="3" ry="1.7" fill="url(#bl2)" transform="rotate(3 482.6 29.6)"/>
<ellipse cx="435.7" cy="29.9" rx="4.1" ry="1.5" fill="url(#bl2)" transform="rotate(131 435.7 29.9)"/>
<ellipse cx="434.1" cy="30.2" rx="3.5" ry="1.9" fill="url(#bl2)" transform="rotate(43 434.1 30.2)"/>
<ellipse cx="507.9" cy="30.2" rx="2.8" ry="1.8" fill="url(#bl2)" transform="rotate(91 507.9 30.2)"/>
<ellipse cx="483.1" cy="30.3" rx="4.1" ry="2.3" fill="url(#bl2)" transform="rotate(123 483.1 30.3)"/>
<ellipse cx="483" cy="30.3" rx="2.3" ry="1.9" fill="url(#bl2)" transform="rotate(171 483 30.3)"/>
<ellipse cx="430.8" cy="30.5" rx="3.7" ry="1.4" fill="url(#bl2)" transform="rotate(163 430.8 30.5)"/>
<ellipse cx="498" cy="30.8" rx="2.7" ry="1.7" fill="url(#bl2)" transform="rotate(149 498 30.8)"/>
<ellipse cx="481.6" cy="30.9" rx="3.4" ry="1.4" fill="url(#bl2)" transform="rotate(138 481.6 30.9)"/>
<ellipse cx="433.3" cy="30.9" rx="3.5" ry="1.6" fill="url(#bl2)" transform="rotate(161 433.3 30.9)"/>
<ellipse cx="430.7" cy="31" rx="2.7" ry="1.8" fill="url(#bl2)" transform="rotate(124 430.7 31)"/>
<ellipse cx="503.5" cy="31" rx="4.4" ry="1.4" fill="url(#bl2)" transform="rotate(174 503.5 31)"/>
<ellipse cx="484.3" cy="31.1" rx="4.2" ry="2" fill="url(#bl2)" transform="rotate(0 484.3 31.1)"/>
<ellipse cx="503.2" cy="31.4" rx="2.9" ry="1.8" fill="url(#bl2)" transform="rotate(45 503.2 31.4)"/>
<ellipse cx="442.9" cy="31.4" rx="3.2" ry="1.8" fill="url(#bl2)" transform="rotate(4 442.9 31.4)"/>
<ellipse cx="483.3" cy="31.4" rx="3.2" ry="2.1" fill="url(#bl2)" transform="rotate(120 483.3 31.4)"/>
<ellipse cx="465.8" cy="31.6" rx="3.9" ry="2.1" fill="url(#bl2)" transform="rotate(141 465.8 31.6)"/>
<ellipse cx="465.3" cy="31.8" rx="3" ry="2" fill="url(#bl2)" transform="rotate(87 465.3 31.8)"/>
<ellipse cx="459.6" cy="31.8" rx="4.2" ry="2.2" fill="url(#bl2)" transform="rotate(82 459.6 31.8)"/>
<ellipse cx="499.6" cy="31.9" rx="4.5" ry="2" fill="url(#bl2)" transform="rotate(68 499.6 31.9)"/>
<ellipse cx="476.5" cy="31.9" rx="3.9" ry="1.4" fill="url(#bl2)" transform="rotate(11 476.5 31.9)"/>
<ellipse cx="444.1" cy="31.9" rx="3.6" ry="1.6" fill="url(#bl2)" transform="rotate(91 444.1 31.9)"/>
<ellipse cx="429.2" cy="31.9" rx="3.3" ry="2.1" fill="url(#bl2)" transform="rotate(47 429.2 31.9)"/>
<ellipse cx="471.3" cy="32.3" rx="2.9" ry="1.4" fill="url(#bl2)" transform="rotate(65 471.3 32.3)"/>
<ellipse cx="443" cy="32.3" rx="2.7" ry="2" fill="url(#bl2)" transform="rotate(105 443 32.3)"/>
<ellipse cx="484.3" cy="32.4" rx="4.5" ry="2" fill="url(#bl3)" transform="rotate(0 484.3 32.4)"/>
<ellipse cx="473.7" cy="32.6" rx="2.7" ry="2.3" fill="url(#bl2)" transform="rotate(74 473.7 32.6)"/>
<ellipse cx="463" cy="32.6" rx="3.7" ry="2.1" fill="url(#bl2)" transform="rotate(164 463 32.6)"/>
<ellipse cx="487.7" cy="32.9" rx="4" ry="2.1" fill="url(#bl2)" transform="rotate(17 487.7 32.9)"/>
<ellipse cx="466.9" cy="32.9" rx="2.1" ry="1.7" fill="url(#bl2)" transform="rotate(80 466.9 32.9)"/>
<ellipse cx="500.5" cy="32.9" rx="2" ry="1.9" fill="url(#bl2)" transform="rotate(13 500.5 32.9)"/>
<ellipse cx="463.2" cy="32.9" rx="3.7" ry="2.2" fill="url(#bl2)" transform="rotate(61 463.2 32.9)"/>
<ellipse cx="428.4" cy="33" rx="2.7" ry="1.9" fill="url(#bl2)" transform="rotate(107 428.4 33)"/>
<ellipse cx="498.1" cy="33.1" rx="2.8" ry="1.8" fill="url(#bl2)" transform="rotate(114 498.1 33.1)"/>
<ellipse cx="445.7" cy="33.2" rx="3" ry="2.2" fill="url(#bl2)" transform="rotate(53 445.7 33.2)"/>
<ellipse cx="481.1" cy="33.2" rx="3.9" ry="2.2" fill="url(#bl2)" transform="rotate(122 481.1 33.2)"/>
<ellipse cx="480.4" cy="33.3" rx="3.8" ry="1.4" fill="url(#bl2)" transform="rotate(45 480.4 33.3)"/>
<ellipse cx="509.1" cy="33.4" rx="3.6" ry="1.3" fill="url(#bl2)" transform="rotate(123 509.1 33.4)"/>
<ellipse cx="430.9" cy="33.4" rx="3.1" ry="2.2" fill="url(#bl2)" transform="rotate(137 430.9 33.4)"/>
<ellipse cx="438.3" cy="33.5" rx="2.6" ry="1.4" fill="url(#bl2)" transform="rotate(41 438.3 33.5)"/>
<ellipse cx="493.7" cy="33.6" rx="4.5" ry="1.3" fill="url(#bl2)" transform="rotate(47 493.7 33.6)"/>
<ellipse cx="437.3" cy="33.8" rx="2.6" ry="2.2" fill="url(#bl2)" transform="rotate(136 437.3 33.8)"/>
<ellipse cx="468.4" cy="33.8" rx="2.7" ry="2" fill="url(#bl2)" transform="rotate(90 468.4 33.8)"/>
<ellipse cx="455" cy="35.3" rx="4.5" ry="1.7" fill="url(#bl2)" transform="rotate(44 455 35.3)"/>
<ellipse cx="494.3" cy="35.6" rx="2.3" ry="2.1" fill="url(#bl2)" transform="rotate(136 494.3 35.6)"/>
<ellipse cx="440.4" cy="35.9" rx="3.4" ry="1.5" fill="url(#bl2)" transform="rotate(8 440.4 35.9)"/>
<ellipse cx="435.6" cy="36.1" rx="2.2" ry="1.3" fill="url(#bl2)" transform="rotate(152 435.6 36.1)"/>
<ellipse cx="465.2" cy="36.2" rx="2.5" ry="1.4" fill="url(#bl2)" transform="rotate(37 465.2 36.2)"/>
<ellipse cx="451.3" cy="36.4" rx="2.8" ry="1.9" fill="url(#bl2)" transform="rotate(163 451.3 36.4)"/>
<ellipse cx="476.8" cy="36.5" rx="4.3" ry="1.8" fill="url(#bl2)" transform="rotate(16 476.8 36.5)"/>
<ellipse cx="500.2" cy="36.5" rx="3.8" ry="1.6" fill="url(#bl2)" transform="rotate(11 500.2 36.5)"/>
<ellipse cx="452.3" cy="36.6" rx="2.2" ry="1.6" fill="url(#bl2)" transform="rotate(124 452.3 36.6)"/>
<ellipse cx="502.3" cy="36.7" rx="4.2" ry="1.6" fill="url(#bl2)" transform="rotate(61 502.3 36.7)"/>
<ellipse cx="431.2" cy="36.8" rx="3.4" ry="2.2" fill="url(#bl2)" transform="rotate(60 431.2 36.8)"/>
<ellipse cx="505.9" cy="36.8" rx="4.4" ry="2.2" fill="url(#bl2)" transform="rotate(153 505.9 36.8)"/>
<ellipse cx="484.3" cy="36.9" rx="4.2" ry="2.2" fill="url(#bl2)" transform="rotate(83 484.3 36.9)"/>
<ellipse cx="466.6" cy="37" rx="3.5" ry="1.8" fill="url(#bl2)" transform="rotate(15 466.6 37)"/>
<ellipse cx="476.4" cy="37.1" rx="4.1" ry="1.8" fill="url(#bl3)" transform="rotate(174 476.4 37.1)"/>
<ellipse cx="426.9" cy="37.1" rx="2.2" ry="2.3" fill="url(#bl2)" transform="rotate(160 426.9 37.1)"/>
<ellipse cx="487.1" cy="37.1" rx="4.1" ry="1.5" fill="url(#bl2)" transform="rotate(177 487.1 37.1)"/>
<ellipse cx="488.9" cy="37.3" rx="3.2" ry="1.6" fill="url(#bl2)" transform="rotate(114 488.9 37.3)"/>
<ellipse cx="446.9" cy="37.4" rx="4.2" ry="2.4" fill="url(#bl2)" transform="rotate(79 446.9 37.4)"/>
<ellipse cx="506.9" cy="37.6" rx="2.7" ry="2" fill="url(#bl2)" transform="rotate(84 506.9 37.6)"/>
<ellipse cx="446.4" cy="37.7" rx="2.3" ry="1.8" fill="url(#bl2)" transform="rotate(125 446.4 37.7)"/>
<ellipse cx="479" cy="37.8" rx="3.3" ry="2.3" fill="url(#bl2)" transform="rotate(62 479 37.8)"/>
<ellipse cx="472.8" cy="37.9" rx="2.6" ry="1.4" fill="url(#bl2)" transform="rotate(129 472.8 37.9)"/>
<ellipse cx="449.8" cy="37.9" rx="3.3" ry="1.5" fill="url(#bl2)" transform="rotate(106 449.8 37.9)"/>
<ellipse cx="480.6" cy="38.3" rx="3.5" ry="1.3" fill="url(#bl2)" transform="rotate(75 480.6 38.3)"/>
<ellipse cx="477" cy="38.4" rx="4.5" ry="2.2" fill="url(#bl2)" transform="rotate(87 477 38.4)"/>
<ellipse cx="423" cy="38.6" rx="2.5" ry="2.1" fill="url(#bl2)" transform="rotate(11 423 38.6)"/>
<ellipse cx="464.3" cy="38.6" rx="3.7" ry="1.6" fill="url(#bl2)" transform="rotate(31 464.3 38.6)"/>
<ellipse cx="446" cy="38.8" rx="2.5" ry="1.9" fill="url(#bl2)" transform="rotate(167 446 38.8)"/>
<ellipse cx="497.8" cy="38.9" rx="3.1" ry="2.3" fill="url(#bl2)" transform="rotate(104 497.8 38.9)"/>
<ellipse cx="434.5" cy="39.2" rx="4" ry="1.3" fill="url(#bl2)" transform="rotate(27 434.5 39.2)"/>
<ellipse cx="449" cy="39.2" rx="2.8" ry="2.2" fill="url(#bl3)" transform="rotate(87 449 39.2)"/>
<ellipse cx="495.3" cy="39.2" rx="3.9" ry="1.5" fill="url(#bl2)" transform="rotate(171 495.3 39.2)"/>
<ellipse cx="423.7" cy="39.4" rx="2.8" ry="2.2" fill="url(#bl2)" transform="rotate(24 423.7 39.4)"/>
<ellipse cx="452.3" cy="39.4" rx="4.2" ry="2" fill="url(#bl2)" transform="rotate(39 452.3 39.4)"/>
<ellipse cx="446.7" cy="39.8" rx="2.7" ry="1.4" fill="url(#bl2)" transform="rotate(154 446.7 39.8)"/>
<ellipse cx="458.9" cy="39.9" rx="2" ry="2.2" fill="url(#bl2)" transform="rotate(28 458.9 39.9)"/>
<ellipse cx="455" cy="40.1" rx="2.9" ry="2.3" fill="url(#bl2)" transform="rotate(36 455 40.1)"/>
<ellipse cx="433.2" cy="40.1" rx="4" ry="1.5" fill="url(#bl3)" transform="rotate(42 433.2 40.1)"/>
<ellipse cx="429.8" cy="40.1" rx="2.2" ry="2" fill="url(#bl2)" transform="rotate(140 429.8 40.1)"/>
<ellipse cx="444.5" cy="40.3" rx="3.7" ry="1.5" fill="url(#bl2)" transform="rotate(44 444.5 40.3)"/>
<ellipse cx="431.6" cy="40.4" rx="2.1" ry="2" fill="url(#bl2)" transform="rotate(88 431.6 40.4)"/>
<ellipse cx="480.7" cy="40.5" rx="4.4" ry="2.4" fill="url(#bl2)" transform="rotate(144 480.7 40.5)"/>
<ellipse cx="424.3" cy="40.8" rx="2.3" ry="1.4" fill="url(#bl3)" transform="rotate(7 424.3 40.8)"/>
<ellipse cx="427.5" cy="41" rx="2.7" ry="1.5" fill="url(#bl2)" transform="rotate(164 427.5 41)"/>
<ellipse cx="456.8" cy="41" rx="2.6" ry="2.2" fill="url(#bl2)" transform="rotate(35 456.8 41)"/>
<ellipse cx="475.1" cy="41.1" rx="4.5" ry="1.4" fill="url(#bl2)" transform="rotate(95 475.1 41.1)"/>
<ellipse cx="440.3" cy="41.3" rx="2.1" ry="1.4" fill="url(#bl2)" transform="rotate(166 440.3 41.3)"/>
<ellipse cx="435.9" cy="41.4" rx="4.5" ry="1.9" fill="url(#bl2)" transform="rotate(63 435.9 41.4)"/>
<ellipse cx="462.1" cy="41.5" rx="3" ry="2.2" fill="url(#bl3)" transform="rotate(69 462.1 41.5)"/>
<ellipse cx="485.3" cy="41.7" rx="3.4" ry="2.2" fill="url(#bl3)" transform="rotate(114 485.3 41.7)"/>
<ellipse cx="495.5" cy="41.9" rx="3.2" ry="1.7" fill="url(#bl2)" transform="rotate(67 495.5 41.9)"/>
<ellipse cx="493.5" cy="42.2" rx="4.2" ry="1.6" fill="url(#bl2)" transform="rotate(45 493.5 42.2)"/>
<ellipse cx="420.2" cy="42.2" rx="2.5" ry="1.9" fill="url(#bl2)" transform="rotate(177 420.2 42.2)"/>
<ellipse cx="479.9" cy="42.3" rx="3.2" ry="1.9" fill="url(#bl3)" transform="rotate(116 479.9 42.3)"/>
<ellipse cx="441.5" cy="42.3" rx="4.4" ry="1.5" fill="url(#bl3)" transform="rotate(108 441.5 42.3)"/>
<ellipse cx="490.1" cy="42.4" rx="3" ry="1.3" fill="url(#bl3)" transform="rotate(82 490.1 42.4)"/>
<ellipse cx="460.4" cy="42.5" rx="2.7" ry="1.3" fill="url(#bl2)" transform="rotate(81 460.4 42.5)"/>
<ellipse cx="455.3" cy="42.6" rx="2.9" ry="2.4" fill="url(#bl3)" transform="rotate(84 455.3 42.6)"/>
<ellipse cx="440.4" cy="42.7" rx="4.4" ry="1.6" fill="url(#bl2)" transform="rotate(23 440.4 42.7)"/>
<ellipse cx="508.7" cy="42.8" rx="2.6" ry="2" fill="url(#bl2)" transform="rotate(30 508.7 42.8)"/>
<ellipse cx="493.8" cy="42.8" rx="2.8" ry="2.2" fill="url(#bl3)" transform="rotate(81 493.8 42.8)"/>
<ellipse cx="434.2" cy="43.1" rx="4.1" ry="1.9" fill="url(#bl2)" transform="rotate(90 434.2 43.1)"/>
<ellipse cx="436.7" cy="43.2" rx="4.5" ry="1.4" fill="url(#bl2)" transform="rotate(22 436.7 43.2)"/>
<ellipse cx="485.1" cy="43.2" rx="3" ry="1.4" fill="url(#bl2)" transform="rotate(103 485.1 43.2)"/>
<ellipse cx="484.6" cy="43.2" rx="2.2" ry="1.5" fill="url(#bl2)" transform="rotate(50 484.6 43.2)"/>
<ellipse cx="445.7" cy="43.3" rx="3.8" ry="1.5" fill="url(#bl2)" transform="rotate(115 445.7 43.3)"/>
<ellipse cx="492.1" cy="43.4" rx="4.6" ry="1.7" fill="url(#bl3)" transform="rotate(74 492.1 43.4)"/>
<ellipse cx="490.9" cy="43.4" rx="3.7" ry="1.5" fill="url(#bl2)" transform="rotate(109 490.9 43.4)"/>
<ellipse cx="502.7" cy="43.5" rx="2.7" ry="2.1" fill="url(#bl2)" transform="rotate(2 502.7 43.5)"/>
<ellipse cx="485.2" cy="43.5" rx="3.9" ry="2.2" fill="url(#bl2)" transform="rotate(14 485.2 43.5)"/>
<ellipse cx="487.2" cy="43.6" rx="2.5" ry="2.3" fill="url(#bl2)" transform="rotate(110 487.2 43.6)"/>
<ellipse cx="481.5" cy="43.7" rx="3" ry="2.2" fill="url(#bl2)" transform="rotate(174 481.5 43.7)"/>
<ellipse cx="478.8" cy="43.8" rx="3.6" ry="2.3" fill="url(#bl2)" transform="rotate(90 478.8 43.8)"/>
<ellipse cx="453" cy="43.9" rx="3" ry="1.7" fill="url(#bl2)" transform="rotate(47 453 43.9)"/>
<ellipse cx="494.9" cy="44" rx="2.3" ry="2.3" fill="url(#bl3)" transform="rotate(3 494.9 44)"/>
<ellipse cx="449.8" cy="44" rx="3" ry="1.9" fill="url(#bl2)" transform="rotate(160 449.8 44)"/>
<ellipse cx="483.1" cy="44.1" rx="4.6" ry="2.2" fill="url(#bl3)" transform="rotate(119 483.1 44.1)"/>
<ellipse cx="451.2" cy="44.2" rx="2.6" ry="1.9" fill="url(#bl3)" transform="rotate(66 451.2 44.2)"/>
<ellipse cx="429.2" cy="44.2" rx="3.3" ry="1.7" fill="url(#bl2)" transform="rotate(1 429.2 44.2)"/>
<ellipse cx="463.1" cy="44.3" rx="3.8" ry="2.2" fill="url(#bl2)" transform="rotate(5 463.1 44.3)"/>
<ellipse cx="459.9" cy="44.4" rx="2.2" ry="2.3" fill="url(#bl2)" transform="rotate(115 459.9 44.4)"/>
<ellipse cx="494.3" cy="44.5" rx="3.4" ry="2.3" fill="url(#bl2)" transform="rotate(53 494.3 44.5)"/>
<ellipse cx="464.9" cy="44.6" rx="3.8" ry="1.3" fill="url(#bl2)" transform="rotate(4 464.9 44.6)"/>
<ellipse cx="494.6" cy="44.7" rx="3.6" ry="1.4" fill="url(#bl3)" transform="rotate(144 494.6 44.7)"/>
<ellipse cx="487.7" cy="44.8" rx="3.8" ry="1.7" fill="url(#bl2)" transform="rotate(163 487.7 44.8)"/>
<ellipse cx="494.5" cy="44.9" rx="2.3" ry="2.2" fill="url(#bl3)" transform="rotate(149 494.5 44.9)"/>
<ellipse cx="485" cy="45.1" rx="3.5" ry="2.4" fill="url(#bl2)" transform="rotate(155 485 45.1)"/>
<ellipse cx="483.2" cy="45.2" rx="3.5" ry="1.9" fill="url(#bl2)" transform="rotate(65 483.2 45.2)"/>
<ellipse cx="453.2" cy="45.3" rx="2.6" ry="2.1" fill="url(#bl2)" transform="rotate(44 453.2 45.3)"/>
<ellipse cx="447.2" cy="45.4" rx="2.1" ry="2.3" fill="url(#bl2)" transform="rotate(113 447.2 45.4)"/>
<ellipse cx="434.6" cy="45.6" rx="3.3" ry="1.6" fill="url(#bl2)" transform="rotate(3 434.6 45.6)"/>
<ellipse cx="494.4" cy="45.6" rx="4.5" ry="1.9" fill="url(#bl2)" transform="rotate(147 494.4 45.6)"/>
<ellipse cx="501.4" cy="45.7" rx="3.9" ry="2" fill="url(#bl3)" transform="rotate(50 501.4 45.7)"/>
<ellipse cx="462.7" cy="45.9" rx="3.1" ry="2" fill="url(#bl2)" transform="rotate(75 462.7 45.9)"/>
<ellipse cx="416.3" cy="46.1" rx="2.7" ry="1.8" fill="url(#bl2)" transform="rotate(173 416.3 46.1)"/>
<ellipse cx="454.6" cy="46.3" rx="4.3" ry="2.2" fill="url(#bl2)" transform="rotate(11 454.6 46.3)"/>
<ellipse cx="470.4" cy="46.3" rx="2.7" ry="2.2" fill="url(#bl2)" transform="rotate(13 470.4 46.3)"/>
<ellipse cx="464" cy="46.4" rx="3" ry="2.3" fill="url(#bl2)" transform="rotate(37 464 46.4)"/>
<ellipse cx="448.4" cy="46.5" rx="2.1" ry="2.3" fill="url(#bl2)" transform="rotate(67 448.4 46.5)"/>
<ellipse cx="481.5" cy="46.6" rx="3.3" ry="1.7" fill="url(#bl2)" transform="rotate(116 481.5 46.6)"/>
<ellipse cx="431.8" cy="46.8" rx="2.5" ry="2.3" fill="url(#bl2)" transform="rotate(163 431.8 46.8)"/>
<ellipse cx="466.7" cy="46.8" rx="4.6" ry="2" fill="url(#bl2)" transform="rotate(88 466.7 46.8)"/>
<ellipse cx="497.3" cy="46.8" rx="2.1" ry="2" fill="url(#bl2)" transform="rotate(112 497.3 46.8)"/>
<ellipse cx="446.5" cy="46.8" rx="3.2" ry="2.1" fill="url(#bl2)" transform="rotate(27 446.5 46.8)"/>
<ellipse cx="464" cy="47" rx="4.3" ry="1.5" fill="url(#bl2)" transform="rotate(55 464 47)"/>
<ellipse cx="480.6" cy="47" rx="4.2" ry="2.1" fill="url(#bl2)" transform="rotate(100 480.6 47)"/>
<ellipse cx="472.7" cy="47" rx="3.4" ry="1.9" fill="url(#bl2)" transform="rotate(154 472.7 47)"/>
<ellipse cx="454.1" cy="47" rx="2.7" ry="1.9" fill="url(#bl2)" transform="rotate(40 454.1 47)"/>
<ellipse cx="485.7" cy="47.1" rx="2.4" ry="1.9" fill="url(#bl3)" transform="rotate(94 485.7 47.1)"/>
<ellipse cx="457.6" cy="47.3" rx="2.4" ry="1.6" fill="url(#bl2)" transform="rotate(154 457.6 47.3)"/>
<ellipse cx="450" cy="47.3" rx="3.3" ry="2.3" fill="url(#bl2)" transform="rotate(54 450 47.3)"/>
<ellipse cx="481.7" cy="47.6" rx="3" ry="1.8" fill="url(#bl2)" transform="rotate(29 481.7 47.6)"/>
<ellipse cx="482.5" cy="47.7" rx="3.2" ry="1.9" fill="url(#bl3)" transform="rotate(115 482.5 47.7)"/>
<ellipse cx="459.7" cy="47.7" rx="2.3" ry="1.4" fill="url(#bl2)" transform="rotate(178 459.7 47.7)"/>
<ellipse cx="478.3" cy="47.8" rx="3.1" ry="1.9" fill="url(#bl3)" transform="rotate(62 478.3 47.8)"/>
<ellipse cx="457.5" cy="47.9" rx="2.4" ry="1.7" fill="url(#bl2)" transform="rotate(118 457.5 47.9)"/>
<ellipse cx="492.8" cy="48.2" rx="4.3" ry="1.6" fill="url(#bl2)" transform="rotate(17 492.8 48.2)"/>
<ellipse cx="455.7" cy="48.2" rx="3.7" ry="2.4" fill="url(#bl2)" transform="rotate(150 455.7 48.2)"/>
<ellipse cx="468" cy="48.4" rx="4.1" ry="1.5" fill="url(#bl3)" transform="rotate(126 468 48.4)"/>
<ellipse cx="499.6" cy="48.4" rx="2.4" ry="2.1" fill="url(#bl2)" transform="rotate(81 499.6 48.4)"/>
<ellipse cx="477.9" cy="48.4" rx="2.1" ry="1.6" fill="url(#bl2)" transform="rotate(158 477.9 48.4)"/>
<ellipse cx="455.1" cy="48.7" rx="3.9" ry="2.2" fill="url(#bl2)" transform="rotate(9 455.1 48.7)"/>
<ellipse cx="461" cy="49" rx="4.6" ry="1.8" fill="url(#bl2)" transform="rotate(130 461 49)"/>
<ellipse cx="429.9" cy="49.2" rx="4.6" ry="1.8" fill="url(#bl3)" transform="rotate(128 429.9 49.2)"/>
<ellipse cx="491" cy="49.3" rx="2.3" ry="1.7" fill="url(#bl3)" transform="rotate(86 491 49.3)"/>
<ellipse cx="470.4" cy="49.5" rx="3.6" ry="1.5" fill="url(#bl2)" transform="rotate(162 470.4 49.5)"/>
<ellipse cx="471.5" cy="49.6" rx="4.2" ry="2.3" fill="url(#bl2)" transform="rotate(70 471.5 49.6)"/>
<ellipse cx="421.3" cy="49.6" rx="4.2" ry="2" fill="url(#bl2)" transform="rotate(159 421.3 49.6)"/>
<ellipse cx="422" cy="49.9" rx="3.5" ry="2" fill="url(#bl2)" transform="rotate(97 422 49.9)"/>
<ellipse cx="428.3" cy="50" rx="2.1" ry="1.7" fill="url(#bl2)" transform="rotate(101 428.3 50)"/>
<ellipse cx="447.9" cy="50" rx="3.5" ry="1.8" fill="url(#bl2)" transform="rotate(41 447.9 50)"/>
<ellipse cx="503.2" cy="50.1" rx="3.1" ry="1.8" fill="url(#bl2)" transform="rotate(42 503.2 50.1)"/>
<ellipse cx="442.2" cy="50.2" rx="4.5" ry="1.7" fill="url(#bl2)" transform="rotate(21 442.2 50.2)"/>
<ellipse cx="442.9" cy="50.2" rx="4.3" ry="2.1" fill="url(#bl2)" transform="rotate(0 442.9 50.2)"/>
<ellipse cx="449.9" cy="50.2" rx="3.6" ry="2.2" fill="url(#bl2)" transform="rotate(124 449.9 50.2)"/>
<ellipse cx="454.7" cy="50.3" rx="4.4" ry="1.9" fill="url(#bl2)" transform="rotate(76 454.7 50.3)"/>
<ellipse cx="482" cy="50.5" rx="2.3" ry="1.4" fill="url(#bl3)" transform="rotate(121 482 50.5)"/>
<ellipse cx="457.5" cy="50.5" rx="3.2" ry="1.4" fill="url(#bl2)" transform="rotate(126 457.5 50.5)"/>
<ellipse cx="470.4" cy="50.6" rx="3.5" ry="1.6" fill="url(#bl2)" transform="rotate(26 470.4 50.6)"/>
<ellipse cx="450.7" cy="50.6" rx="2.6" ry="1.6" fill="url(#bl2)" transform="rotate(131 450.7 50.6)"/>
<ellipse cx="485.7" cy="50.7" rx="2.5" ry="1.7" fill="url(#bl2)" transform="rotate(163 485.7 50.7)"/>
<ellipse cx="475.2" cy="50.7" rx="3.5" ry="2" fill="url(#bl3)" transform="rotate(111 475.2 50.7)"/>
<ellipse cx="462.3" cy="50.7" rx="3.9" ry="2.2" fill="url(#bl3)" transform="rotate(31 462.3 50.7)"/>
<ellipse cx="476.5" cy="51.3" rx="4.3" ry="1.4" fill="url(#bl2)" transform="rotate(136 476.5 51.3)"/>
<ellipse cx="438.1" cy="51.3" rx="3.9" ry="1.3" fill="url(#bl3)" transform="rotate(68 438.1 51.3)"/>
<ellipse cx="502.1" cy="52" rx="4.3" ry="1.5" fill="url(#bl3)" transform="rotate(34 502.1 52)"/>
<ellipse cx="422.7" cy="52" rx="2.7" ry="1.5" fill="url(#bl3)" transform="rotate(119 422.7 52)"/>
<ellipse cx="493.4" cy="52" rx="4.1" ry="1.7" fill="url(#bl3)" transform="rotate(0 493.4 52)"/>
<ellipse cx="484.2" cy="52.2" rx="4.4" ry="1.7" fill="url(#bl3)" transform="rotate(131 484.2 52.2)"/>
<ellipse cx="446.8" cy="52.5" rx="3.1" ry="2.3" fill="url(#bl3)" transform="rotate(21 446.8 52.5)"/>
<ellipse cx="480.1" cy="52.6" rx="2.7" ry="1.6" fill="url(#bl3)" transform="rotate(57 480.1 52.6)"/>
<ellipse cx="474.4" cy="52.6" rx="2.9" ry="1.7" fill="url(#bl2)" transform="rotate(158 474.4 52.6)"/>
<ellipse cx="463.4" cy="52.8" rx="2.1" ry="2" fill="url(#bl2)" transform="rotate(122 463.4 52.8)"/>
<ellipse cx="468.8" cy="52.8" rx="2.8" ry="1.4" fill="url(#bl2)" transform="rotate(57 468.8 52.8)"/>
<ellipse cx="443.1" cy="53" rx="4.1" ry="2" fill="url(#bl2)" transform="rotate(32 443.1 53)"/>
<ellipse cx="435.5" cy="53.1" rx="4.2" ry="1.5" fill="url(#bl2)" transform="rotate(93 435.5 53.1)"/>
<ellipse cx="490" cy="53.2" rx="2.1" ry="2.1" fill="url(#bl2)" transform="rotate(167 490 53.2)"/>
<ellipse cx="469.2" cy="53.5" rx="3.1" ry="1.5" fill="url(#bl3)" transform="rotate(171 469.2 53.5)"/>
<ellipse cx="425.9" cy="53.6" rx="2.7" ry="2.3" fill="url(#bl3)" transform="rotate(20 425.9 53.6)"/>
<ellipse cx="431.7" cy="53.7" rx="2.8" ry="2.3" fill="url(#bl2)" transform="rotate(127 431.7 53.7)"/>
<ellipse cx="475" cy="53.8" rx="2.9" ry="1.7" fill="url(#bl3)" transform="rotate(20 475 53.8)"/>
<ellipse cx="447.9" cy="53.8" rx="2.9" ry="1.7" fill="url(#bl3)" transform="rotate(108 447.9 53.8)"/>
<ellipse cx="444.5" cy="53.9" rx="3.4" ry="2.1" fill="url(#bl3)" transform="rotate(69 444.5 53.9)"/>
<ellipse cx="437.5" cy="53.9" rx="3.6" ry="1.4" fill="url(#bl2)" transform="rotate(83 437.5 53.9)"/>
<ellipse cx="460.2" cy="54.2" rx="3.4" ry="2.2" fill="url(#bl2)" transform="rotate(47 460.2 54.2)"/>
<ellipse cx="489.1" cy="54.5" rx="3.2" ry="1.8" fill="url(#bl2)" transform="rotate(151 489.1 54.5)"/>
<ellipse cx="510.3" cy="54.8" rx="2.9" ry="2.1" fill="url(#bl2)" transform="rotate(110 510.3 54.8)"/>
<ellipse cx="460.9" cy="54.9" rx="2.6" ry="2.2" fill="url(#bl2)" transform="rotate(20 460.9 54.9)"/>
<ellipse cx="447.9" cy="55" rx="2.2" ry="1.5" fill="url(#bl2)" transform="rotate(2 447.9 55)"/>
<ellipse cx="440.7" cy="55.1" rx="3.7" ry="2.1" fill="url(#bl2)" transform="rotate(62 440.7 55.1)"/>
<ellipse cx="435.5" cy="55.9" rx="3.5" ry="2" fill="url(#bl2)" transform="rotate(121 435.5 55.9)"/>
<ellipse cx="424.7" cy="56" rx="2.3" ry="1.7" fill="url(#bl2)" transform="rotate(110 424.7 56)"/>
<ellipse cx="495.5" cy="56.2" rx="3.6" ry="1.4" fill="url(#bl3)" transform="rotate(130 495.5 56.2)"/>
<ellipse cx="468.4" cy="56.4" rx="3.4" ry="2.2" fill="url(#bl3)" transform="rotate(2 468.4 56.4)"/>
<ellipse cx="491.8" cy="56.5" rx="2.2" ry="2.2" fill="url(#bl2)" transform="rotate(76 491.8 56.5)"/>
<ellipse cx="442.4" cy="56.7" rx="2.3" ry="1.4" fill="url(#bl2)" transform="rotate(151 442.4 56.7)"/>
<ellipse cx="435.6" cy="56.8" rx="2.3" ry="2.2" fill="url(#bl3)" transform="rotate(173 435.6 56.8)"/>
<ellipse cx="430.7" cy="56.9" rx="3.7" ry="2.2" fill="url(#bl2)" transform="rotate(23 430.7 56.9)"/>
<ellipse cx="492.3" cy="56.9" rx="2.1" ry="1.6" fill="url(#bl3)" transform="rotate(27 492.3 56.9)"/>
<ellipse cx="472.3" cy="56.9" rx="2.1" ry="2.3" fill="url(#bl2)" transform="rotate(12 472.3 56.9)"/>
<ellipse cx="486.1" cy="57" rx="4.3" ry="2" fill="url(#bl2)" transform="rotate(9 486.1 57)"/>
<ellipse cx="452.6" cy="57" rx="2.9" ry="2.2" fill="url(#bl2)" transform="rotate(73 452.6 57)"/>
<ellipse cx="498.2" cy="57.2" rx="3.1" ry="1.4" fill="url(#bl3)" transform="rotate(168 498.2 57.2)"/>
<ellipse cx="480" cy="57.3" rx="4" ry="2.1" fill="url(#bl3)" transform="rotate(66 480 57.3)"/>
<ellipse cx="426.7" cy="57.5" rx="3.7" ry="1.7" fill="url(#bl3)" transform="rotate(133 426.7 57.5)"/>
<ellipse cx="465" cy="57.7" rx="3.8" ry="1.5" fill="url(#bl3)" transform="rotate(1 465 57.7)"/>
<ellipse cx="463.8" cy="57.8" rx="3.6" ry="1.5" fill="url(#bl2)" transform="rotate(37 463.8 57.8)"/>
<ellipse cx="473.8" cy="57.9" rx="2.1" ry="1.4" fill="url(#bl2)" transform="rotate(16 473.8 57.9)"/>
<ellipse cx="495.4" cy="58.2" rx="3.1" ry="2" fill="url(#bl2)" transform="rotate(28 495.4 58.2)"/>
<ellipse cx="444" cy="58.4" rx="3.8" ry="1.6" fill="url(#bl3)" transform="rotate(10 444 58.4)"/>
<ellipse cx="453.1" cy="58.7" rx="3.3" ry="1.6" fill="url(#bl3)" transform="rotate(45 453.1 58.7)"/>
<ellipse cx="445.4" cy="59" rx="3.6" ry="1.8" fill="url(#bl2)" transform="rotate(69 445.4 59)"/>
<ellipse cx="443.4" cy="59" rx="3" ry="1.4" fill="url(#bl3)" transform="rotate(179 443.4 59)"/>
<ellipse cx="467.7" cy="59.1" rx="3.6" ry="1.9" fill="url(#bl3)" transform="rotate(171 467.7 59.1)"/>
<ellipse cx="473.3" cy="59.8" rx="2.6" ry="2" fill="url(#bl2)" transform="rotate(94 473.3 59.8)"/>
<ellipse cx="456" cy="59.8" rx="3.7" ry="1.5" fill="url(#bl3)" transform="rotate(45 456 59.8)"/>
<ellipse cx="431" cy="59.8" rx="3.9" ry="2" fill="url(#bl3)" transform="rotate(171 431 59.8)"/>
<ellipse cx="456.3" cy="59.8" rx="4.1" ry="1.6" fill="url(#bl2)" transform="rotate(30 456.3 59.8)"/>
<ellipse cx="500.5" cy="59.9" rx="3.6" ry="1.6" fill="url(#bl3)" transform="rotate(141 500.5 59.9)"/>
<ellipse cx="450.1" cy="59.9" rx="3" ry="1.7" fill="url(#bl2)" transform="rotate(21 450.1 59.9)"/>
<ellipse cx="456.5" cy="60" rx="3.1" ry="1.5" fill="url(#bl3)" transform="rotate(6 456.5 60)"/>
<ellipse cx="465.7" cy="60.1" rx="2.3" ry="1.6" fill="url(#bl2)" transform="rotate(15 465.7 60.1)"/>
<ellipse cx="434.3" cy="60.3" rx="3.8" ry="1.4" fill="url(#bl2)" transform="rotate(116 434.3 60.3)"/>
<ellipse cx="468.1" cy="60.6" rx="2.2" ry="1.6" fill="url(#bl3)" transform="rotate(75 468.1 60.6)"/>
<ellipse cx="449.7" cy="60.7" rx="4.3" ry="2" fill="url(#bl2)" transform="rotate(68 449.7 60.7)"/>
<ellipse cx="444.3" cy="61" rx="3.5" ry="2.2" fill="url(#bl3)" transform="rotate(168 444.3 61)"/>
<ellipse cx="473.9" cy="61.2" rx="3.7" ry="2.1" fill="url(#bl2)" transform="rotate(159 473.9 61.2)"/>
<ellipse cx="448.6" cy="61.2" rx="4.1" ry="1.4" fill="url(#bl3)" transform="rotate(53 448.6 61.2)"/>
<ellipse cx="439.7" cy="61.3" rx="2.7" ry="2.1" fill="url(#bl2)" transform="rotate(90 439.7 61.3)"/>
<ellipse cx="429.4" cy="61.3" rx="3.6" ry="2.3" fill="url(#bl3)" transform="rotate(171 429.4 61.3)"/>
<ellipse cx="432.1" cy="61.4" rx="3" ry="2.2" fill="url(#bl3)" transform="rotate(35 432.1 61.4)"/>
<ellipse cx="483.4" cy="61.5" rx="3.1" ry="2" fill="url(#bl2)" transform="rotate(174 483.4 61.5)"/>
<ellipse cx="460.8" cy="61.6" rx="4.5" ry="1.9" fill="url(#bl3)" transform="rotate(92 460.8 61.6)"/>
<ellipse cx="470.3" cy="61.8" rx="4.6" ry="2.2" fill="url(#bl2)" transform="rotate(23 470.3 61.8)"/>
<ellipse cx="494.1" cy="61.8" rx="4.3" ry="2.3" fill="url(#bl2)" transform="rotate(26 494.1 61.8)"/>
<ellipse cx="436.1" cy="61.8" rx="4.1" ry="2.4" fill="url(#bl2)" transform="rotate(83 436.1 61.8)"/>
<ellipse cx="505" cy="62" rx="2.5" ry="1.4" fill="url(#bl2)" transform="rotate(74 505 62)"/>
<ellipse cx="456.7" cy="62.1" rx="4.2" ry="1.7" fill="url(#bl2)" transform="rotate(99 456.7 62.1)"/>
<ellipse cx="486.1" cy="62.2" rx="4.2" ry="1.6" fill="url(#bl2)" transform="rotate(49 486.1 62.2)"/>
<ellipse cx="438.6" cy="62.2" rx="3.8" ry="1.7" fill="url(#bl2)" transform="rotate(135 438.6 62.2)"/>
<ellipse cx="444.4" cy="62.5" rx="2.7" ry="2" fill="url(#bl2)" transform="rotate(169 444.4 62.5)"/>
<ellipse cx="447.8" cy="62.8" rx="2.4" ry="1.7" fill="url(#bl2)" transform="rotate(110 447.8 62.8)"/>
<ellipse cx="484.7" cy="63" rx="2.2" ry="1.6" fill="url(#bl3)" transform="rotate(139 484.7 63)"/>
<ellipse cx="451" cy="63.1" rx="3.3" ry="2.3" fill="url(#bl3)" transform="rotate(35 451 63.1)"/>
<ellipse cx="459.4" cy="63.4" rx="4.2" ry="2.1" fill="url(#bl2)" transform="rotate(174 459.4 63.4)"/>
<ellipse cx="452.6" cy="63.4" rx="2.5" ry="2.2" fill="url(#bl3)" transform="rotate(66 452.6 63.4)"/>
<ellipse cx="467.2" cy="63.4" rx="3.8" ry="1.7" fill="url(#bl3)" transform="rotate(13 467.2 63.4)"/>
<ellipse cx="494.1" cy="63.5" rx="3.7" ry="1.9" fill="url(#bl2)" transform="rotate(104 494.1 63.5)"/>
<ellipse cx="428" cy="63.8" rx="2.2" ry="2.2" fill="url(#bl2)" transform="rotate(144 428 63.8)"/>
<ellipse cx="442.6" cy="63.8" rx="3.9" ry="2.3" fill="url(#bl3)" transform="rotate(159 442.6 63.8)"/>
<ellipse cx="457.3" cy="63.9" rx="3.1" ry="1.7" fill="url(#bl3)" transform="rotate(159 457.3 63.9)"/>
<ellipse cx="486.3" cy="64.2" rx="4.5" ry="2.2" fill="url(#bl3)" transform="rotate(21 486.3 64.2)"/>
<ellipse cx="470" cy="64.3" rx="4.1" ry="2.1" fill="url(#bl3)" transform="rotate(52 470 64.3)"/>
<ellipse cx="442" cy="64.4" rx="2.4" ry="1.9" fill="url(#bl2)" transform="rotate(58 442 64.4)"/>
<ellipse cx="500.4" cy="64.4" rx="2.5" ry="2.2" fill="url(#bl3)" transform="rotate(59 500.4 64.4)"/>
<ellipse cx="451.5" cy="64.4" rx="3.8" ry="1.4" fill="url(#bl3)" transform="rotate(33 451.5 64.4)"/>
<ellipse cx="501.5" cy="64.5" rx="2.8" ry="1.8" fill="url(#bl3)" transform="rotate(93 501.5 64.5)"/>
<ellipse cx="460.5" cy="64.8" rx="4" ry="2.4" fill="url(#bl3)" transform="rotate(94 460.5 64.8)"/>
<ellipse cx="450.3" cy="64.9" rx="3.7" ry="2" fill="url(#bl2)" transform="rotate(62 450.3 64.9)"/>
<ellipse cx="479.9" cy="65" rx="3.8" ry="1.5" fill="url(#bl3)" transform="rotate(100 479.9 65)"/>
<ellipse cx="477.4" cy="65" rx="2.5" ry="1.4" fill="url(#bl2)" transform="rotate(60 477.4 65)"/>
<ellipse cx="459" cy="65.1" rx="2.9" ry="1.3" fill="url(#bl2)" transform="rotate(95 459 65.1)"/>
<ellipse cx="503.3" cy="65.1" rx="2.6" ry="1.3" fill="url(#bl3)" transform="rotate(166 503.3 65.1)"/>
<ellipse cx="443.5" cy="65.5" rx="3.1" ry="1.3" fill="url(#bl2)" transform="rotate(52 443.5 65.5)"/>
<ellipse cx="446.2" cy="65.5" rx="4.1" ry="1.5" fill="url(#bl3)" transform="rotate(174 446.2 65.5)"/>
<ellipse cx="480.1" cy="65.6" rx="2.1" ry="2" fill="url(#bl2)" transform="rotate(81 480.1 65.6)"/>
<ellipse cx="496.7" cy="65.7" rx="4.4" ry="1.3" fill="url(#bl3)" transform="rotate(122 496.7 65.7)"/>
<ellipse cx="461.2" cy="65.8" rx="3.8" ry="1.8" fill="url(#bl3)" transform="rotate(25 461.2 65.8)"/>
<ellipse cx="472.5" cy="66.3" rx="2.7" ry="2.3" fill="url(#bl3)" transform="rotate(18 472.5 66.3)"/>
<ellipse cx="462.3" cy="66.5" rx="2.6" ry="1.8" fill="url(#bl3)" transform="rotate(142 462.3 66.5)"/>
<ellipse cx="476.9" cy="66.6" rx="4.4" ry="1.8" fill="url(#bl3)" transform="rotate(170 476.9 66.6)"/>
<ellipse cx="487.3" cy="66.8" rx="3.6" ry="2.4" fill="url(#bl2)" transform="rotate(28 487.3 66.8)"/>
<ellipse cx="436.3" cy="67" rx="4.2" ry="1.7" fill="url(#bl3)" transform="rotate(158 436.3 67)"/>
<ellipse cx="430.1" cy="67.4" rx="4.3" ry="1.5" fill="url(#bl2)" transform="rotate(173 430.1 67.4)"/>
<ellipse cx="479.1" cy="67.6" rx="4.2" ry="2.3" fill="url(#bl2)" transform="rotate(113 479.1 67.6)"/>
<ellipse cx="435.8" cy="67.7" rx="2.4" ry="1.4" fill="url(#bl2)" transform="rotate(43 435.8 67.7)"/>
<ellipse cx="478.2" cy="67.8" rx="4.2" ry="1.9" fill="url(#bl3)" transform="rotate(119 478.2 67.8)"/>
<ellipse cx="482" cy="67.9" rx="2.4" ry="1.9" fill="url(#bl3)" transform="rotate(33 482 67.9)"/>
<ellipse cx="497.1" cy="68.1" rx="3.5" ry="2.1" fill="url(#bl3)" transform="rotate(86 497.1 68.1)"/>
<ellipse cx="481.5" cy="68.2" rx="3.6" ry="1.6" fill="url(#bl2)" transform="rotate(76 481.5 68.2)"/>
<ellipse cx="493.8" cy="68.7" rx="2.4" ry="2.1" fill="url(#bl3)" transform="rotate(97 493.8 68.7)"/>
<ellipse cx="479.9" cy="68.7" rx="2.5" ry="2.2" fill="url(#bl3)" transform="rotate(100 479.9 68.7)"/>
<ellipse cx="473" cy="68.8" rx="3.9" ry="1.6" fill="url(#bl3)" transform="rotate(43 473 68.8)"/>
<ellipse cx="506" cy="68.9" rx="4.2" ry="1.4" fill="url(#bl2)" transform="rotate(149 506 68.9)"/>
<ellipse cx="501.7" cy="69.2" rx="2.1" ry="1.4" fill="url(#bl3)" transform="rotate(165 501.7 69.2)"/>
<ellipse cx="485.5" cy="69.3" rx="4.5" ry="2.2" fill="url(#bl3)" transform="rotate(58 485.5 69.3)"/>
<ellipse cx="477.9" cy="69.4" rx="3.6" ry="2.3" fill="url(#bl2)" transform="rotate(123 477.9 69.4)"/>
<ellipse cx="498.8" cy="69.4" rx="3" ry="1.6" fill="url(#bl2)" transform="rotate(170 498.8 69.4)"/>
<ellipse cx="484.2" cy="69.9" rx="2.3" ry="1.6" fill="url(#bl2)" transform="rotate(95 484.2 69.9)"/>
<ellipse cx="488.7" cy="70.2" rx="2.3" ry="2.4" fill="url(#bl2)" transform="rotate(16 488.7 70.2)"/>
<ellipse cx="508.7" cy="70.2" rx="3.7" ry="2.3" fill="url(#bl2)" transform="rotate(71 508.7 70.2)"/>
<ellipse cx="473.8" cy="70.3" rx="2" ry="2.1" fill="url(#bl3)" transform="rotate(93 473.8 70.3)"/>
<ellipse cx="485.9" cy="70.4" rx="3.1" ry="1.8" fill="url(#bl2)" transform="rotate(124 485.9 70.4)"/>
<ellipse cx="456.3" cy="70.6" rx="3.3" ry="1.3" fill="url(#bl3)" transform="rotate(140 456.3 70.6)"/>
<ellipse cx="488.7" cy="70.7" rx="2.1" ry="2.4" fill="url(#bl2)" transform="rotate(163 488.7 70.7)"/>
<ellipse cx="473.9" cy="70.7" rx="4.2" ry="1.6" fill="url(#bl3)" transform="rotate(145 473.9 70.7)"/>
<ellipse cx="460.3" cy="71" rx="2.5" ry="1.9" fill="url(#bl3)" transform="rotate(42 460.3 71)"/>
<ellipse cx="454" cy="71.2" rx="3.4" ry="1.8" fill="url(#bl3)" transform="rotate(85 454 71.2)"/>
<ellipse cx="430.9" cy="71.2" rx="2.2" ry="1.5" fill="url(#bl3)" transform="rotate(18 430.9 71.2)"/>
<ellipse cx="476.2" cy="71.3" rx="3.6" ry="2" fill="url(#bl3)" transform="rotate(73 476.2 71.3)"/>
<ellipse cx="485" cy="71.7" rx="2.3" ry="2.1" fill="url(#bl3)" transform="rotate(149 485 71.7)"/>
<ellipse cx="475.5" cy="71.7" rx="4.2" ry="1.4" fill="url(#bl2)" transform="rotate(176 475.5 71.7)"/>
<ellipse cx="453.3" cy="71.9" rx="4" ry="1.7" fill="url(#bl3)" transform="rotate(22 453.3 71.9)"/>
<ellipse cx="451.9" cy="72" rx="3.5" ry="1.4" fill="url(#bl3)" transform="rotate(58 451.9 72)"/>
<ellipse cx="506.4" cy="72.1" rx="2.8" ry="1.9" fill="url(#bl3)" transform="rotate(88 506.4 72.1)"/>
<ellipse cx="430.1" cy="72.4" rx="2.7" ry="2.1" fill="url(#bl3)" transform="rotate(72 430.1 72.4)"/>
<ellipse cx="437" cy="72.5" rx="3.7" ry="1.5" fill="url(#bl2)" transform="rotate(105 437 72.5)"/>
<ellipse cx="448.1" cy="72.5" rx="3.9" ry="1.8" fill="url(#bl2)" transform="rotate(6 448.1 72.5)"/>
<ellipse cx="426.7" cy="72.6" rx="4.2" ry="2.2" fill="url(#bl2)" transform="rotate(58 426.7 72.6)"/>
<ellipse cx="473" cy="72.9" rx="3.5" ry="1.7" fill="url(#bl3)" transform="rotate(95 473 72.9)"/>
<ellipse cx="430.8" cy="73.1" rx="4" ry="2.2" fill="url(#bl3)" transform="rotate(17 430.8 73.1)"/>
<ellipse cx="451.8" cy="73.1" rx="2.6" ry="2.2" fill="url(#bl3)" transform="rotate(166 451.8 73.1)"/>
<ellipse cx="464.8" cy="73.2" rx="4.4" ry="1.7" fill="url(#bl3)" transform="rotate(74 464.8 73.2)"/>
<ellipse cx="471.4" cy="73.2" rx="4.6" ry="2.4" fill="url(#bl2)" transform="rotate(115 471.4 73.2)"/>
<ellipse cx="489.2" cy="73.5" rx="4.2" ry="2.1" fill="url(#bl3)" transform="rotate(94 489.2 73.5)"/>
<ellipse cx="458.2" cy="73.8" rx="4.1" ry="2.4" fill="url(#bl3)" transform="rotate(79 458.2 73.8)"/>
<ellipse cx="442.6" cy="73.9" rx="4.4" ry="1.5" fill="url(#bl3)" transform="rotate(91 442.6 73.9)"/>
<ellipse cx="492.4" cy="73.9" rx="4" ry="2.1" fill="url(#bl2)" transform="rotate(92 492.4 73.9)"/>
<ellipse cx="482.7" cy="73.9" rx="3.1" ry="2.2" fill="url(#bl3)" transform="rotate(104 482.7 73.9)"/>
<ellipse cx="493.3" cy="74.1" rx="4.3" ry="2" fill="url(#bl3)" transform="rotate(8 493.3 74.1)"/>
<ellipse cx="474.9" cy="74.2" rx="2.3" ry="1.7" fill="url(#bl3)" transform="rotate(147 474.9 74.2)"/>
<ellipse cx="422.1" cy="74.4" rx="3.2" ry="1.8" fill="url(#bl3)" transform="rotate(22 422.1 74.4)"/>
<ellipse cx="447.5" cy="74.5" rx="3.8" ry="1.4" fill="url(#bl3)" transform="rotate(179 447.5 74.5)"/>
<ellipse cx="495.4" cy="74.6" rx="3.1" ry="1.7" fill="url(#bl2)" transform="rotate(71 495.4 74.6)"/>
<ellipse cx="508.8" cy="75.1" rx="4.4" ry="1.7" fill="url(#bl3)" transform="rotate(59 508.8 75.1)"/>
<ellipse cx="485.2" cy="75.1" rx="3.1" ry="2.1" fill="url(#bl3)" transform="rotate(142 485.2 75.1)"/>
<ellipse cx="493.2" cy="75.2" rx="4.3" ry="1.6" fill="url(#bl3)" transform="rotate(162 493.2 75.2)"/>
<ellipse cx="468.6" cy="75.5" rx="3.4" ry="1.6" fill="url(#bl3)" transform="rotate(71 468.6 75.5)"/>
<ellipse cx="479.3" cy="75.5" rx="4.5" ry="1.3" fill="url(#bl3)" transform="rotate(178 479.3 75.5)"/>
<ellipse cx="478.5" cy="75.5" rx="4" ry="1.6" fill="url(#bl3)" transform="rotate(128 478.5 75.5)"/>
<ellipse cx="471.2" cy="75.7" rx="2.9" ry="1.7" fill="url(#bl3)" transform="rotate(106 471.2 75.7)"/>
<ellipse cx="498.1" cy="75.8" rx="2" ry="2.3" fill="url(#bl2)" transform="rotate(22 498.1 75.8)"/>
<ellipse cx="457.9" cy="75.8" rx="4.3" ry="1.6" fill="url(#bl3)" transform="rotate(45 457.9 75.8)"/>
<ellipse cx="465.6" cy="75.9" rx="3.6" ry="2.1" fill="url(#bl2)" transform="rotate(139 465.6 75.9)"/>
<ellipse cx="482.2" cy="76.2" rx="3.5" ry="1.5" fill="url(#bl3)" transform="rotate(55 482.2 76.2)"/>
<ellipse cx="459.1" cy="76.3" rx="3.2" ry="2" fill="url(#bl3)" transform="rotate(1 459.1 76.3)"/>
<ellipse cx="454.8" cy="76.3" rx="2.8" ry="1.7" fill="url(#bl3)" transform="rotate(156 454.8 76.3)"/>
<ellipse cx="476.5" cy="76.6" rx="3.6" ry="1.8" fill="url(#bl3)" transform="rotate(136 476.5 76.6)"/>
<ellipse cx="458.3" cy="76.6" rx="2.8" ry="2.4" fill="url(#bl2)" transform="rotate(52 458.3 76.6)"/>
<ellipse cx="485" cy="76.8" rx="2.1" ry="1.9" fill="url(#bl3)" transform="rotate(103 485 76.8)"/>
<ellipse cx="489.6" cy="76.8" rx="3.4" ry="1.7" fill="url(#bl3)" transform="rotate(131 489.6 76.8)"/>
<ellipse cx="453.3" cy="76.8" rx="2.1" ry="1.6" fill="url(#bl2)" transform="rotate(173 453.3 76.8)"/>
<ellipse cx="492.6" cy="76.8" rx="3.2" ry="2.1" fill="url(#bl3)" transform="rotate(70 492.6 76.8)"/>
<ellipse cx="474.5" cy="76.9" rx="4.5" ry="1.5" fill="url(#bl3)" transform="rotate(45 474.5 76.9)"/>
<ellipse cx="441.6" cy="77.1" rx="2.9" ry="2.4" fill="url(#bl3)" transform="rotate(54 441.6 77.1)"/>
<ellipse cx="501.2" cy="77.4" rx="4" ry="2" fill="url(#bl3)" transform="rotate(7 501.2 77.4)"/>
<ellipse cx="443.4" cy="77.5" rx="3.7" ry="2.3" fill="url(#bl3)" transform="rotate(95 443.4 77.5)"/>
<ellipse cx="428.4" cy="77.8" rx="3.9" ry="2" fill="url(#bl3)" transform="rotate(97 428.4 77.8)"/>
<ellipse cx="477.6" cy="77.8" rx="4.2" ry="2" fill="url(#bl2)" transform="rotate(109 477.6 77.8)"/>
<ellipse cx="504.5" cy="77.9" rx="3.8" ry="2" fill="url(#bl3)" transform="rotate(79 504.5 77.9)"/>
<ellipse cx="476.3" cy="77.9" rx="2.4" ry="1.8" fill="url(#bl3)" transform="rotate(102 476.3 77.9)"/>
<ellipse cx="466.8" cy="78.1" rx="2.4" ry="1.7" fill="url(#bl2)" transform="rotate(127 466.8 78.1)"/>
<ellipse cx="480.9" cy="78.2" rx="2.6" ry="2.3" fill="url(#bl2)" transform="rotate(99 480.9 78.2)"/>
<ellipse cx="490.8" cy="78.3" rx="3.3" ry="1.5" fill="url(#bl2)" transform="rotate(33 490.8 78.3)"/>
<ellipse cx="451.4" cy="78.3" rx="4" ry="2.2" fill="url(#bl2)" transform="rotate(117 451.4 78.3)"/>
<ellipse cx="435.5" cy="78.7" rx="3.9" ry="1.4" fill="url(#bl3)" transform="rotate(0 435.5 78.7)"/>
<ellipse cx="437.5" cy="78.8" rx="4.5" ry="1.9" fill="url(#bl3)" transform="rotate(84 437.5 78.8)"/>
<ellipse cx="449.4" cy="78.8" rx="2" ry="2.3" fill="url(#bl3)" transform="rotate(2 449.4 78.8)"/>
<ellipse cx="492.6" cy="78.8" rx="2.4" ry="1.8" fill="url(#bl3)" transform="rotate(144 492.6 78.8)"/>
<ellipse cx="490.2" cy="78.8" rx="4.1" ry="2.2" fill="url(#bl3)" transform="rotate(3 490.2 78.8)"/>
<ellipse cx="490.4" cy="79.1" rx="2.7" ry="1.7" fill="url(#bl3)" transform="rotate(30 490.4 79.1)"/>
<ellipse cx="431.1" cy="79.1" rx="4" ry="2.1" fill="url(#bl3)" transform="rotate(143 431.1 79.1)"/>
<ellipse cx="472" cy="79.1" rx="3.1" ry="1.3" fill="url(#bl3)" transform="rotate(138 472 79.1)"/>
<ellipse cx="502.5" cy="79.2" rx="3.6" ry="1.5" fill="url(#bl2)" transform="rotate(159 502.5 79.2)"/>
<ellipse cx="457.3" cy="79.3" rx="4" ry="1.6" fill="url(#bl3)" transform="rotate(40 457.3 79.3)"/>
<ellipse cx="424.8" cy="79.3" rx="2.6" ry="2.2" fill="url(#bl3)" transform="rotate(10 424.8 79.3)"/>
<ellipse cx="481.8" cy="79.3" rx="4.3" ry="1.6" fill="url(#bl3)" transform="rotate(71 481.8 79.3)"/>
<ellipse cx="426.1" cy="79.4" rx="4.5" ry="1.7" fill="url(#bl3)" transform="rotate(103 426.1 79.4)"/>
<ellipse cx="443.8" cy="79.5" rx="4.1" ry="1.8" fill="url(#bl3)" transform="rotate(54 443.8 79.5)"/>
<ellipse cx="428.9" cy="79.6" rx="4.5" ry="1.9" fill="url(#bl3)" transform="rotate(18 428.9 79.6)"/>
<ellipse cx="463.7" cy="79.9" rx="3.8" ry="2.2" fill="url(#bl2)" transform="rotate(75 463.7 79.9)"/>
<ellipse cx="495.9" cy="80" rx="3.2" ry="2.3" fill="url(#bl3)" transform="rotate(160 495.9 80)"/>
<ellipse cx="423.7" cy="80.1" rx="4" ry="1.8" fill="url(#bl3)" transform="rotate(29 423.7 80.1)"/>
<ellipse cx="500.3" cy="80.1" rx="4.2" ry="2.2" fill="url(#bl3)" transform="rotate(128 500.3 80.1)"/>
<ellipse cx="452.2" cy="80.2" rx="4.5" ry="1.8" fill="url(#bl2)" transform="rotate(113 452.2 80.2)"/>
<ellipse cx="437.1" cy="80.5" rx="2.3" ry="2" fill="url(#bl2)" transform="rotate(28 437.1 80.5)"/>
<ellipse cx="465" cy="80.7" rx="2.1" ry="1.5" fill="url(#bl3)" transform="rotate(2 465 80.7)"/>
<ellipse cx="472.3" cy="80.8" rx="4.4" ry="2.4" fill="url(#bl3)" transform="rotate(54 472.3 80.8)"/>
<ellipse cx="428.3" cy="81" rx="2.6" ry="1.8" fill="url(#bl3)" transform="rotate(148 428.3 81)"/>
<ellipse cx="487.7" cy="81" rx="2.7" ry="1.8" fill="url(#bl3)" transform="rotate(154 487.7 81)"/>
<ellipse cx="492.4" cy="81.4" rx="4.4" ry="2" fill="url(#bl3)" transform="rotate(162 492.4 81.4)"/>
<ellipse cx="467.8" cy="81.5" rx="4.5" ry="2.4" fill="url(#bl3)" transform="rotate(37 467.8 81.5)"/>
<ellipse cx="490" cy="81.6" rx="4.1" ry="1.4" fill="url(#bl3)" transform="rotate(147 490 81.6)"/>
<ellipse cx="428" cy="81.6" rx="3.4" ry="2.1" fill="url(#bl2)" transform="rotate(77 428 81.6)"/>
<ellipse cx="476.9" cy="81.6" rx="3.7" ry="2.2" fill="url(#bl3)" transform="rotate(38 476.9 81.6)"/>
<ellipse cx="495" cy="81.8" rx="3.4" ry="1.6" fill="url(#bl3)" transform="rotate(159 495 81.8)"/>
<ellipse cx="472.2" cy="81.8" rx="2.5" ry="2.3" fill="url(#bl3)" transform="rotate(68 472.2 81.8)"/>
<ellipse cx="445.6" cy="82.2" rx="3" ry="2.2" fill="url(#bl3)" transform="rotate(124 445.6 82.2)"/>
<ellipse cx="483.6" cy="82.3" rx="3.8" ry="2.2" fill="url(#bl3)" transform="rotate(3 483.6 82.3)"/>
<ellipse cx="494.6" cy="82.3" rx="2.3" ry="2.3" fill="url(#bl2)" transform="rotate(154 494.6 82.3)"/>
<ellipse cx="501.7" cy="82.4" rx="4.4" ry="1.7" fill="url(#bl3)" transform="rotate(132 501.7 82.4)"/>
<ellipse cx="430.2" cy="82.5" rx="4.4" ry="1.6" fill="url(#bl3)" transform="rotate(43 430.2 82.5)"/>
<ellipse cx="461.2" cy="82.6" rx="3.9" ry="1.6" fill="url(#bl3)" transform="rotate(167 461.2 82.6)"/>
<ellipse cx="482.4" cy="82.9" rx="4.2" ry="1.8" fill="url(#bl2)" transform="rotate(12 482.4 82.9)"/>
<ellipse cx="486.9" cy="83" rx="3.6" ry="1.9" fill="url(#bl3)" transform="rotate(17 486.9 83)"/>
<ellipse cx="429.8" cy="83.1" rx="3.4" ry="2.4" fill="url(#bl3)" transform="rotate(24 429.8 83.1)"/>
<ellipse cx="465.9" cy="83.1" rx="3.6" ry="2.2" fill="url(#bl2)" transform="rotate(164 465.9 83.1)"/>
<ellipse cx="490.6" cy="83.6" rx="2.2" ry="1.6" fill="url(#bl3)" transform="rotate(109 490.6 83.6)"/>
<ellipse cx="457.4" cy="84" rx="3.7" ry="1.9" fill="url(#bl3)" transform="rotate(11 457.4 84)"/>
<ellipse cx="481.3" cy="84" rx="2.6" ry="2" fill="url(#bl3)" transform="rotate(125 481.3 84)"/>
<ellipse cx="426.8" cy="84.3" rx="4.3" ry="1.9" fill="url(#bl3)" transform="rotate(179 426.8 84.3)"/>
<ellipse cx="451.7" cy="84.4" rx="2" ry="1.4" fill="url(#bl3)" transform="rotate(149 451.7 84.4)"/>
<ellipse cx="474.8" cy="84.6" rx="2.8" ry="2.3" fill="url(#bl2)" transform="rotate(55 474.8 84.6)"/>
<ellipse cx="491.3" cy="85" rx="2.3" ry="1.9" fill="url(#bl3)" transform="rotate(139 491.3 85)"/>
<ellipse cx="508.2" cy="85" rx="2.7" ry="1.3" fill="url(#bl3)" transform="rotate(18 508.2 85)"/>
<ellipse cx="454.3" cy="85.1" rx="2.3" ry="1.7" fill="url(#bl3)" transform="rotate(88 454.3 85.1)"/>
<ellipse cx="434.9" cy="85.2" rx="2.1" ry="1.3" fill="url(#bl3)" transform="rotate(16 434.9 85.2)"/>
<ellipse cx="450.5" cy="85.3" rx="3.9" ry="2.3" fill="url(#bl3)" transform="rotate(136 450.5 85.3)"/>
<ellipse cx="465.2" cy="85.3" rx="2.1" ry="1.4" fill="url(#bl3)" transform="rotate(173 465.2 85.3)"/>
<ellipse cx="435.6" cy="85.3" rx="4.5" ry="1.5" fill="url(#bl2)" transform="rotate(3 435.6 85.3)"/>
<ellipse cx="477" cy="85.8" rx="3.8" ry="2.4" fill="url(#bl3)" transform="rotate(24 477 85.8)"/>
<ellipse cx="482.4" cy="85.8" rx="2.4" ry="2.1" fill="url(#bl3)" transform="rotate(137 482.4 85.8)"/>
<ellipse cx="445.4" cy="85.8" rx="2.2" ry="2.4" fill="url(#bl3)" transform="rotate(80 445.4 85.8)"/>
<ellipse cx="483.4" cy="85.8" rx="2.9" ry="2" fill="url(#bl3)" transform="rotate(37 483.4 85.8)"/>
<ellipse cx="457" cy="85.9" rx="4.3" ry="1.9" fill="url(#bl3)" transform="rotate(33 457 85.9)"/>
<ellipse cx="444.2" cy="85.9" rx="2.8" ry="2.2" fill="url(#bl3)" transform="rotate(40 444.2 85.9)"/>
<ellipse cx="492.6" cy="86" rx="3.7" ry="2.4" fill="url(#bl3)" transform="rotate(49 492.6 86)"/>
<ellipse cx="462.1" cy="86" rx="4.3" ry="1.8" fill="url(#bl3)" transform="rotate(124 462.1 86)"/>
<ellipse cx="437.6" cy="86.6" rx="3.1" ry="1.6" fill="url(#bl3)" transform="rotate(43 437.6 86.6)"/>
<ellipse cx="442.4" cy="86.9" rx="2.8" ry="1.5" fill="url(#bl3)" transform="rotate(80 442.4 86.9)"/>
<ellipse cx="437.4" cy="86.9" rx="2.9" ry="1.4" fill="url(#bl3)" transform="rotate(68 437.4 86.9)"/>
<ellipse cx="492.1" cy="87" rx="3.9" ry="2.2" fill="url(#bl2)" transform="rotate(23 492.1 87)"/>
<ellipse cx="442" cy="87.6" rx="3.3" ry="1.3" fill="url(#bl3)" transform="rotate(18 442 87.6)"/>
<ellipse cx="500.1" cy="87.7" rx="2.9" ry="1.8" fill="url(#bl3)" transform="rotate(146 500.1 87.7)"/>
<ellipse cx="445.5" cy="87.8" rx="2.4" ry="1.6" fill="url(#bl3)" transform="rotate(116 445.5 87.8)"/>
<ellipse cx="493.5" cy="88.1" rx="2.2" ry="1.8" fill="url(#bl3)" transform="rotate(101 493.5 88.1)"/>
<ellipse cx="480.3" cy="88.6" rx="4.3" ry="2" fill="url(#bl3)" transform="rotate(96 480.3 88.6)"/>
<ellipse cx="507.1" cy="88.7" rx="2.7" ry="1.9" fill="url(#bl3)" transform="rotate(95 507.1 88.7)"/>
<ellipse cx="472.3" cy="88.8" rx="4.1" ry="1.5" fill="url(#bl3)" transform="rotate(101 472.3 88.8)"/>
<ellipse cx="453.7" cy="88.8" rx="4.6" ry="1.5" fill="url(#bl3)" transform="rotate(43 453.7 88.8)"/>
<ellipse cx="481.2" cy="88.9" rx="2.6" ry="1.4" fill="url(#bl3)" transform="rotate(14 481.2 88.9)"/>
<ellipse cx="472" cy="89.3" rx="3.2" ry="1.6" fill="url(#bl3)" transform="rotate(120 472 89.3)"/>
<ellipse cx="461.3" cy="89.5" rx="4.4" ry="1.8" fill="url(#bl3)" transform="rotate(160 461.3 89.5)"/>
<ellipse cx="456.1" cy="90" rx="3.9" ry="1.4" fill="url(#bl3)" transform="rotate(93 456.1 90)"/>
<ellipse cx="494" cy="90.2" rx="4.2" ry="1.5" fill="url(#bl3)" transform="rotate(105 494 90.2)"/>
<ellipse cx="444" cy="90.4" rx="2.5" ry="1.7" fill="url(#bl3)" transform="rotate(113 444 90.4)"/>
<ellipse cx="434.8" cy="90.4" rx="3.8" ry="1.6" fill="url(#bl3)" transform="rotate(157 434.8 90.4)"/>
<ellipse cx="438.9" cy="90.7" rx="3.5" ry="1.9" fill="url(#bl3)" transform="rotate(129 438.9 90.7)"/>
<ellipse cx="482.3" cy="90.9" rx="3.4" ry="1.7" fill="url(#bl3)" transform="rotate(94 482.3 90.9)"/>
<ellipse cx="478.3" cy="91" rx="3.4" ry="1.7" fill="url(#bl3)" transform="rotate(32 478.3 91)"/>
<ellipse cx="451.4" cy="91.4" rx="2.5" ry="1.7" fill="url(#bl3)" transform="rotate(58 451.4 91.4)"/>
<ellipse cx="480.7" cy="91.6" rx="2.4" ry="1.5" fill="url(#bl3)" transform="rotate(34 480.7 91.6)"/>
<ellipse cx="488.1" cy="92.3" rx="4.5" ry="1.5" fill="url(#bl3)" transform="rotate(146 488.1 92.3)"/>
<ellipse cx="477.7" cy="92.7" rx="3.7" ry="2" fill="url(#bl3)" transform="rotate(106 477.7 92.7)"/>
<ellipse cx="442.7" cy="93.7" rx="3.1" ry="2" fill="url(#bl3)" transform="rotate(143 442.7 93.7)"/>
<ellipse cx="486.9" cy="94.8" rx="2.3" ry="1.4" fill="url(#bl3)" transform="rotate(0 486.9 94.8)"/>
<ellipse cx="474.6" cy="95.8" rx="4.4" ry="2.1" fill="url(#bl3)" transform="rotate(134 474.6 95.8)"/>
<rect x="412" y="4.8" width="104.2" height="93" fill="url(#ov)"/>
</g>
<line x1="304.3" y1="103.4" x2="511" y2="103.4" stroke="#111" stroke-width="1.3"/>
<path d="M509.8 100.2 L516.3 103.4 L509.8 106.6 Z" fill="#111"/>
<text x='389' y='112.8' font-family='Liberation Serif, DejaVu Serif, serif' font-size='8.9' fill='#1a1a1a'>DENSITY</text>
<rect x="42" y="173" width="254.3" height="227.5" fill="none" stroke="#4d4d4d" stroke-width="1.5"/>
<line x1="37" y1="173" x2="42" y2="173" stroke="#333" stroke-width="1.2"/>
<text x='34.6' y='176.2' font-family='Liberation Serif, DejaVu Serif, serif' font-size='8.6' fill='#1e1e1e' text-anchor='end'><tspan letter-spacing='0.5'>10</tspan><tspan font-size='6.2' dy='-2.1'>-9</tspan></text>
<line x1="37" y1="205.5" x2="42" y2="205.5" stroke="#333" stroke-width="1.2"/>
<text x='34.6' y='208.7' font-family='Liberation Serif, DejaVu Serif, serif' font-size='8.6' fill='#1e1e1e' text-anchor='end'><tspan letter-spacing='0.5'>10</tspan><tspan font-size='6.2' dy='-2.1'>-10</tspan></text>
<line x1="37" y1="238" x2="42" y2="238" stroke="#333" stroke-width="1.2"/>
<text x='34.6' y='241.2' font-family='Liberation Serif, DejaVu Serif, serif' font-size='8.6' fill='#1e1e1e' text-anchor='end'><tspan letter-spacing='0.5'>10</tspan><tspan font-size='6.2' dy='-2.1'>-11</tspan></text>
<line x1="37" y1="270.5" x2="42" y2="270.5" stroke="#333" stroke-width="1.2"/>
<text x='34.6' y='273.7' font-family='Liberation Serif, DejaVu Serif, serif' font-size='8.6' fill='#1e1e1e' text-anchor='end'><tspan letter-spacing='0.5'>10</tspan><tspan font-size='6.2' dy='-2.1'>-12</tspan></text>
<line x1="37" y1="303" x2="42" y2="303" stroke="#333" stroke-width="1.2"/>
<text x='34.6' y='306.2' font-family='Liberation Serif, DejaVu Serif, serif' font-size='8.6' fill='#1e1e1e' text-anchor='end'><tspan letter-spacing='0.5'>10</tspan><tspan font-size='6.2' dy='-2.1'>-13</tspan></text>
<line x1="37" y1="335.5" x2="42" y2="335.5" stroke="#333" stroke-width="1.2"/>
<text x='34.6' y='338.7' font-family='Liberation Serif, DejaVu Serif, serif' font-size='8.6' fill='#1e1e1e' text-anchor='end'><tspan letter-spacing='0.5'>10</tspan><tspan font-size='6.2' dy='-2.1'>-14</tspan></text>
<line x1="37" y1="368" x2="42" y2="368" stroke="#333" stroke-width="1.2"/>
<text x='34.6' y='371.2' font-family='Liberation Serif, DejaVu Serif, serif' font-size='8.6' fill='#1e1e1e' text-anchor='end'><tspan letter-spacing='0.5'>10</tspan><tspan font-size='6.2' dy='-2.1'>-15</tspan></text>
<line x1="37" y1="400.5" x2="42" y2="400.5" stroke="#333" stroke-width="1.2"/>
<text x='34.6' y='403.7' font-family='Liberation Serif, DejaVu Serif, serif' font-size='8.6' fill='#1e1e1e' text-anchor='end'><tspan letter-spacing='0.5'>10</tspan><tspan font-size='6.2' dy='-2.1'>-16</tspan></text>
<line x1="42" y1="400.5" x2="42" y2="404.7" stroke="#333" stroke-width="1.1"/>
<line x1="69.5" y1="400.5" x2="69.5" y2="402.7" stroke="#333" stroke-width="1.1"/>
<line x1="85.7" y1="400.5" x2="85.7" y2="402.7" stroke="#333" stroke-width="1.1"/>
<line x1="97.1" y1="400.5" x2="97.1" y2="402.7" stroke="#333" stroke-width="1.1"/>
<line x1="106" y1="400.5" x2="106" y2="402.7" stroke="#333" stroke-width="1.1"/>
<line x1="113.2" y1="400.5" x2="113.2" y2="402.7" stroke="#333" stroke-width="1.1"/>
<line x1="119.3" y1="400.5" x2="119.3" y2="402.7" stroke="#333" stroke-width="1.1"/>
<line x1="124.6" y1="400.5" x2="124.6" y2="402.7" stroke="#333" stroke-width="1.1"/>
<line x1="129.3" y1="400.5" x2="129.3" y2="402.7" stroke="#333" stroke-width="1.1"/>
<line x1="133.5" y1="400.5" x2="133.5" y2="404.7" stroke="#333" stroke-width="1.1"/>
<line x1="161" y1="400.5" x2="161" y2="402.7" stroke="#333" stroke-width="1.1"/>
<line x1="177.2" y1="400.5" x2="177.2" y2="402.7" stroke="#333" stroke-width="1.1"/>
<line x1="188.6" y1="400.5" x2="188.6" y2="402.7" stroke="#333" stroke-width="1.1"/>
<line x1="197.5" y1="400.5" x2="197.5" y2="402.7" stroke="#333" stroke-width="1.1"/>
<line x1="204.7" y1="400.5" x2="204.7" y2="402.7" stroke="#333" stroke-width="1.1"/>
<line x1="210.8" y1="400.5" x2="210.8" y2="402.7" stroke="#333" stroke-width="1.1"/>
<line x1="216.1" y1="400.5" x2="216.1" y2="402.7" stroke="#333" stroke-width="1.1"/>
<line x1="220.8" y1="400.5" x2="220.8" y2="402.7" stroke="#333" stroke-width="1.1"/>
<line x1="225" y1="400.5" x2="225" y2="404.7" stroke="#333" stroke-width="1.1"/>
<line x1="252.5" y1="400.5" x2="252.5" y2="402.7" stroke="#333" stroke-width="1.1"/>
<line x1="268.7" y1="400.5" x2="268.7" y2="402.7" stroke="#333" stroke-width="1.1"/>
<line x1="280.1" y1="400.5" x2="280.1" y2="402.7" stroke="#333" stroke-width="1.1"/>
<line x1="289" y1="400.5" x2="289" y2="402.7" stroke="#333" stroke-width="1.1"/>
<line x1="296.2" y1="400.5" x2="296.2" y2="402.7" stroke="#333" stroke-width="1.1"/>
<text x='41.4' y='414.7' font-family='Liberation Serif, DejaVu Serif, serif' font-size='8.4' fill='#1e1e1e' text-anchor='middle'>0.1</text>
<text x='133.7' y='414.7' font-family='Liberation Serif, DejaVu Serif, serif' font-size='8.4' fill='#1e1e1e' text-anchor='middle'>1.0</text>
<text x='225.3' y='414.7' font-family='Liberation Serif, DejaVu Serif, serif' font-size='8.4' fill='#1e1e1e' text-anchor='middle'>10.0</text>
<text x='168.6' y='426.2' font-family='Liberation Serif, DejaVu Serif, serif' font-size='9' fill='#1e1e1e' text-anchor='middle'>SPIN PERIOD (seconds)</text>
<text transform='translate(12.2 286.3) rotate(-90)' font-family='Liberation Serif, DejaVu Serif, serif' font-size='8.8' fill='#1e1e1e' text-anchor='middle'>PERIOD DERIVATIVE</text>
<g clip-path="url(#cplot)" fill="none" stroke-linejoin="round">
<path d="M42 187.3C50 190.2 73.7 198.6 90 205C106.3 211.4 129.3 221.1 140 225.5C150.7 229.9 149.3 229 154 231.4C158.7 233.8 164.4 237.2 167.9 239.7C171.4 242.2 172.7 244.2 175 246.3C177.3 248.4 179.5 249.8 181.8 252C184.1 254.2 186.5 256.6 188.8 259.5C191.1 262.4 193.8 266.3 195.5 269.2C197.2 272.1 197.8 274 198.7 276.6C199.6 279.2 200.3 281.1 201 285C201.7 288.9 202.3 291.7 202.8 300C203.3 308.3 203.7 318 203.9 335C204.1 352 204.1 390.8 204.2 402" stroke="#28b4e6" stroke-width="1.4"/>
<path d="M195.8 247.6C197.7 249.2 203.9 254.7 206.9 257.4C209.9 260.1 211.9 261.7 213.7 263.6C215.5 265.5 216.3 267 217.5 269C218.7 271 219.9 273.2 220.9 275.8C221.9 278.4 222.7 281.4 223.3 284.4C223.9 287.4 224.1 290.1 224.5 294C224.9 297.9 225.6 303.3 225.9 307.9C226.2 312.5 226.3 316.4 226.4 321.8C226.5 327.2 226.5 326.6 226.5 340C226.5 353.4 226.5 391.7 226.5 402" stroke="#2b3f9c" stroke-width="1.3"/>
<path d="M206.9 257.6C208 258.6 211.4 262.2 213.5 263.4C215.6 264.6 217.3 264.2 219.4 264.6C221.5 265 224.1 264.8 226.2 265.6C228.3 266.4 230 267.8 231.9 269.3C233.8 270.8 235.8 273 237.7 274.8C239.6 276.6 242 278.6 243.6 280C245.2 281.4 245.7 281.6 247 283.5C248.3 285.4 250.1 288.8 251.3 291.2C252.5 293.6 253.4 295.7 254.2 298C255 300.3 255.4 301.1 256.1 305.1C256.8 309.1 257.9 316 258.5 321.8C259.1 327.6 259.2 326.6 259.4 340C259.6 353.4 259.6 391.7 259.6 402" stroke="#3aac36" stroke-width="1.3"/>
<path d="M42 176.3C50 179.2 73.7 187.7 90 193.6C106.3 199.5 129.3 207.9 140 211.8C150.7 215.7 149.3 215.2 154 217.1C158.7 219 163.3 220.9 167.9 223C172.5 225.1 177.2 227.4 181.8 229.8C186.5 232.2 191.2 234.6 195.8 237.7C200.5 240.8 205.7 245 209.7 248.1C213.7 251.2 216.6 253.6 220 256.5C223.4 259.4 227.4 262.6 230 265.5C232.6 268.4 234.4 271.2 235.8 273.8C237.2 276.4 237.7 278.6 238.5 281C239.3 283.4 240.2 285.1 240.8 288.4C241.4 291.7 241.8 295.3 242.2 300.9C242.5 306.5 242.7 314.4 242.9 321.8C243.1 329.2 243.1 331.6 243.2 345C243.3 358.4 243.3 392.5 243.3 402" stroke="#111" stroke-width="1.7"/>
<path d="M197 248.6C198 249.4 201 251.8 203 253.3C205 254.9 207.1 256.4 209 257.9C210.9 259.4 212.4 261.6 214.6 262.4C216.8 263.2 219.9 262.2 222.3 262.6C224.7 263 226.8 263.2 229 264.5C231.2 265.8 234.7 269.2 235.8 270.2 L238.2 271.3 L239.6 270.2 L242 272.4 L243.5 273.9 L244.9 273.2 L247.3 275.8 L249.2 276.8 L250.7 276.1 L253.1 278.2 L254.5 279.1" stroke="#e8e000" stroke-width="1.4"/>
<path d="M254.5 279.1C255.6 279.6 258.2 280.6 260.9 282.2C263.6 283.8 267.2 285.8 270.7 288.5C274.2 291.2 278.8 295.2 281.8 298.2C284.9 301.2 287 303.9 289 306.4C291 308.9 293.2 312.1 294 313.3" stroke="#e8e000" stroke-width="1.4"/>
<path d="M42 181.2C50 184.1 73.7 192.6 90 198.6C106.3 204.6 129.3 213.2 140 217.2C150.7 221.1 149.3 220.3 154 222.3C158.7 224.3 163.3 226.6 167.9 229C172.5 231.4 177.2 233.9 181.8 237C186.5 240.1 191.6 244 195.8 247.4C200 250.8 204 254.6 206.9 257.2C209.8 259.8 211.4 261.8 213.5 263.2C215.6 264.6 217.6 265 219.4 265.9C221.2 266.8 222.4 267 224.2 268.3C226 269.6 228.3 271.9 230 273.8C231.7 275.8 232.9 277.6 234.5 280C236.1 282.4 238.1 284.9 239.4 288.4C240.7 291.9 241.5 295.3 242.2 300.9C242.9 306.5 243.2 315.3 243.6 321.8C244 328.3 244.2 326.6 244.4 340C244.6 353.4 244.5 391.7 244.5 402" stroke="#e8161c" stroke-width="1.6"/>
</g>
<g clip-path="url(#cdia)">
<path d="M88.7 240.1L91.7 243.1L88.7 246.1L85.7 243.1ZM98 248L101 251L98 254L95 251ZM59.2 256.8L62.2 259.8L59.2 262.8L56.2 259.8ZM139.7 256.1L142.7 259.1L139.7 262.1L136.7 259.1ZM181.6 261.1L184.6 264.1L181.6 267.1L178.6 264.1ZM191.1 275.5L194.1 278.5L191.1 281.5L188.1 278.5ZM182.4 285.2L185.4 288.2L182.4 291.2L179.4 288.2ZM62 282.3L65 285.3L62 288.3L59 285.3ZM66.5 286.6L69.5 289.6L66.5 292.6L63.5 289.6ZM87.5 282L90.5 285L87.5 288L84.5 285ZM81.1 289.7L84.1 292.7L81.1 295.7L78.1 292.7ZM105.6 291L108.6 294L105.6 297L102.6 294ZM83.9 299.7L86.9 302.7L83.9 305.7L80.9 302.7ZM95.7 308.4L98.7 311.4L95.7 314.4L92.7 311.4ZM50.5 301L53.5 304L50.5 307L47.5 304ZM50.5 296.3L53.5 299.3L50.5 302.3L47.5 299.3ZM53.7 295.8L56.7 298.8L53.7 301.8L50.7 298.8ZM76.2 331.2L79.2 334.2L76.2 337.2L73.2 334.2ZM118.4 333.2L121.4 336.2L118.4 339.2L115.4 336.2ZM142.2 337.5L145.2 340.5L142.2 343.5L139.2 340.5ZM137.3 347L140.3 350L137.3 353L134.3 350ZM140.9 346.3L143.9 349.3L140.9 352.3L137.9 349.3ZM56.2 346.5L59.2 349.5L56.2 352.5L53.2 349.5ZM60.1 344.2L63.1 347.2L60.1 350.2L57.1 347.2ZM108.3 357.7L111.3 360.7L108.3 363.7L105.3 360.7ZM74.5 363.3L77.5 366.3L74.5 369.3L71.5 366.3ZM78.9 385.7L81.9 388.7L78.9 391.7L75.9 388.7ZM42 300.6L45 303.6L42 306.6L39 303.6ZM41.8 303.8L44.8 306.8L41.8 309.8L38.8 306.8ZM41.6 306.4L44.6 309.4L41.6 312.4L38.6 309.4ZM41.5 361.6L44.5 364.6L41.5 367.6L38.5 364.6Z" fill="none" stroke="#1f5cb6" stroke-width="1.25"/>
</g>
<path d="M211.5 191.6H216.9M214.2 188.9V194.3M195.8 206.8H201.2M198.5 204.1V209.5M184.2 211.9H189.6M186.9 209.2V214.6M213.8 219.3H219.2M216.5 216.6V222M228.8 218.4H234.2M231.5 215.7V221.1M205 224.2H210.4M207.7 221.5V226.9M213.8 229.2H219.2M216.5 226.5V231.9M226.1 228.8H231.5M228.8 226.1V231.5M189.1 230.4H194.5M191.8 227.7V233.1M160.1 226.5H165.5M162.8 223.8V229.2M168.4 229.2H173.8M171.1 226.5V231.9M166.8 241.2H172.2M169.5 238.5V243.9M199.3 241.6H204.7M202 238.9V244.3M200.4 245.8H205.8M203.1 243.1V248.5M210.8 253.2H216.2M213.5 250.5V255.9M216.8 261.2H222.2M219.5 258.5V263.9M224.2 270.8H229.6M226.9 268.1V273.5M208.1 280.7H213.5M210.8 278V283.4M215.7 290H221.1M218.4 287.3V292.7M218.3 348.8H223.7M221 346.1V351.5" stroke="#e8161c" stroke-width="1.5" fill="none"/>
<path d="M223.6 299.1L228.8 304.3M223.6 304.3L228.8 299.1M224.2 301.7H228.2M226.2 299.7V303.7M215.2 305.4L220.4 310.6M215.2 310.6L220.4 305.4M215.8 308H219.8M217.8 306V310M227.7 308.9L232.9 314.1M227.7 314.1L232.9 308.9M228.3 311.5H232.3M230.3 309.5V313.5M220.1 313.2L225.3 318.4M220.1 318.4L225.3 313.2M220.7 315.8H224.7M222.7 313.8V317.8M208.5 317.3L213.7 322.5M208.5 322.5L213.7 317.3M209.1 319.9H213.1M211.1 317.9V321.9M180.2 318.2L185.4 323.4M180.2 323.4L185.4 318.2M180.8 320.8H184.8M182.8 318.8V322.8" stroke="#55b032" stroke-width="1.3" stroke-linecap="round" fill="none"/>
<rect x="91.4" y="369.6" width="105.8" height="25.8" fill="#fff" stroke="#666" stroke-width="1.1" rx="0.6"/>
<path d="M93.9 374.7H98.7M96.3 372.3V377.1" stroke="#e8161c" stroke-width="1.5" fill="none"/>
<path d="M94 380.3L98.6 384.9M94 384.9L98.6 380.3M94.5 382.6H98.1M96.3 380.8V384.4" stroke="#55b032" stroke-width="1.2" stroke-linecap="round" fill="none"/>
<path d="M96.3 387.5L99 390.2L96.3 392.9L93.6 390.2Z" fill="none" stroke="#1f5cb6" stroke-width="1.25"/>
<text x='101.5' y='377' font-family='Liberation Serif, DejaVu Serif, serif' font-weight='bold' font-size='6.6' fill='#e8161c'>Magnetars</text>
<text x='101.5' y='384.7' font-family='Liberation Serif, DejaVu Serif, serif' font-weight='bold' font-size='6.7' fill='#5eb63c'>X-ray dim isolated neutron stars</text>
<text x='101.5' y='392.2' font-family='Liberation Serif, DejaVu Serif, serif' font-weight='bold' font-size='6.75' fill='#2a66bd'>Normal pulsars</text>
</svg>
</body></html>
